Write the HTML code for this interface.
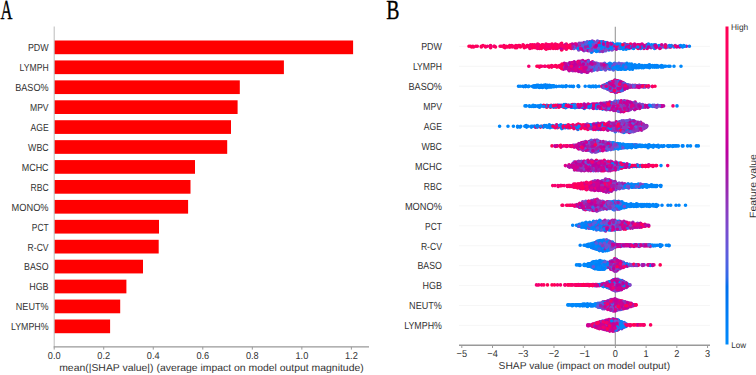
<!DOCTYPE html>
<html><head><meta charset="utf-8"><style>
html,body{margin:0;padding:0;background:#fff;width:756px;height:375px;overflow:hidden}
svg{display:block}
text{font-family:"Liberation Sans",sans-serif;text-rendering:geometricPrecision}
.serif{font-family:"Liberation Serif",serif;stroke:#000;stroke-width:0.35px}
</style></head><body>
<svg width="756" height="375" viewBox="0 0 756 375">
<defs><linearGradient id="cb" x1="0" y1="0" x2="0" y2="1"><stop offset="0.000" stop-color="#ff0051"/><stop offset="0.030" stop-color="#ff0058"/><stop offset="0.061" stop-color="#fd005f"/><stop offset="0.091" stop-color="#fa0065"/><stop offset="0.121" stop-color="#f6006c"/><stop offset="0.152" stop-color="#f10072"/><stop offset="0.182" stop-color="#ec0078"/><stop offset="0.212" stop-color="#e7007e"/><stop offset="0.242" stop-color="#e10084"/><stop offset="0.273" stop-color="#db008a"/><stop offset="0.303" stop-color="#d40090"/><stop offset="0.333" stop-color="#cd0095"/><stop offset="0.364" stop-color="#c5009a"/><stop offset="0.394" stop-color="#bc009f"/><stop offset="0.424" stop-color="#b30aa3"/><stop offset="0.455" stop-color="#aa17a7"/><stop offset="0.485" stop-color="#a01fab"/><stop offset="0.515" stop-color="#9829b1"/><stop offset="0.545" stop-color="#9233b9"/><stop offset="0.576" stop-color="#8a3cc0"/><stop offset="0.606" stop-color="#8244c7"/><stop offset="0.636" stop-color="#794cce"/><stop offset="0.667" stop-color="#6f52d4"/><stop offset="0.697" stop-color="#6459da"/><stop offset="0.727" stop-color="#575fdf"/><stop offset="0.758" stop-color="#4664e4"/><stop offset="0.788" stop-color="#306ae9"/><stop offset="0.818" stop-color="#006fed"/><stop offset="0.848" stop-color="#0074f0"/><stop offset="0.879" stop-color="#0079f3"/><stop offset="0.909" stop-color="#007ef6"/><stop offset="0.939" stop-color="#0082f8"/><stop offset="0.970" stop-color="#0086fa"/><stop offset="1.000" stop-color="#008bfb"/></linearGradient></defs>
<text x="0" y="19.3" class="serif" font-size="27.5" fill="#000" stroke="#000" stroke-width="0.4" transform="translate(0.4 0) scale(0.6 1)">A</text>
<rect x="54.2" y="40.50" width="298.90" height="13.7" fill="#ff0000"/>
<rect x="54.2" y="60.43" width="229.70" height="13.7" fill="#ff0000"/>
<rect x="54.2" y="80.36" width="185.60" height="13.7" fill="#ff0000"/>
<rect x="54.2" y="100.29" width="183.40" height="13.7" fill="#ff0000"/>
<rect x="54.2" y="120.22" width="176.80" height="13.7" fill="#ff0000"/>
<rect x="54.2" y="140.15" width="173.00" height="13.7" fill="#ff0000"/>
<rect x="54.2" y="160.08" width="140.80" height="13.7" fill="#ff0000"/>
<rect x="54.2" y="180.01" width="136.30" height="13.7" fill="#ff0000"/>
<rect x="54.2" y="199.94" width="133.90" height="13.7" fill="#ff0000"/>
<rect x="54.2" y="219.87" width="104.80" height="13.7" fill="#ff0000"/>
<rect x="54.2" y="239.80" width="104.50" height="13.7" fill="#ff0000"/>
<rect x="54.2" y="259.73" width="88.80" height="13.7" fill="#ff0000"/>
<rect x="54.2" y="279.66" width="72.20" height="13.7" fill="#ff0000"/>
<rect x="54.2" y="299.59" width="66.00" height="13.7" fill="#ff0000"/>
<rect x="54.2" y="319.52" width="55.90" height="13.7" fill="#ff0000"/>
<line x1="54.2" y1="26.5" x2="54.2" y2="347" stroke="#bbb" stroke-width="1"/>
<line x1="53.7" y1="346.9" x2="369" y2="346.9" stroke="#999" stroke-width="1.4"/>
<line x1="54.20" y1="346.9" x2="54.20" y2="349.6" stroke="#999" stroke-width="1"/>
<text x="0" y="0" font-size="10" text-anchor="middle" fill="#333" transform="translate(54.20 358.8) scale(0.92 1)">0.0</text>
<line x1="103.73" y1="346.9" x2="103.73" y2="349.6" stroke="#999" stroke-width="1"/>
<text x="0" y="0" font-size="10" text-anchor="middle" fill="#333" transform="translate(103.73 358.8) scale(0.92 1)">0.2</text>
<line x1="153.26" y1="346.9" x2="153.26" y2="349.6" stroke="#999" stroke-width="1"/>
<text x="0" y="0" font-size="10" text-anchor="middle" fill="#333" transform="translate(153.26 358.8) scale(0.92 1)">0.4</text>
<line x1="202.79" y1="346.9" x2="202.79" y2="349.6" stroke="#999" stroke-width="1"/>
<text x="0" y="0" font-size="10" text-anchor="middle" fill="#333" transform="translate(202.79 358.8) scale(0.92 1)">0.6</text>
<line x1="252.32" y1="346.9" x2="252.32" y2="349.6" stroke="#999" stroke-width="1"/>
<text x="0" y="0" font-size="10" text-anchor="middle" fill="#333" transform="translate(252.32 358.8) scale(0.92 1)">0.8</text>
<line x1="301.85" y1="346.9" x2="301.85" y2="349.6" stroke="#999" stroke-width="1"/>
<text x="0" y="0" font-size="10" text-anchor="middle" fill="#333" transform="translate(301.85 358.8) scale(0.92 1)">1.0</text>
<line x1="351.38" y1="346.9" x2="351.38" y2="349.6" stroke="#999" stroke-width="1"/>
<text x="0" y="0" font-size="10" text-anchor="middle" fill="#333" transform="translate(351.38 358.8) scale(0.92 1)">1.2</text>
<text x="48.6" y="51.20" font-size="10.3" text-anchor="end" fill="#333" textLength="20.7" lengthAdjust="spacingAndGlyphs">PDW</text>
<text x="48.6" y="71.13" font-size="10.3" text-anchor="end" fill="#333" textLength="29.0" lengthAdjust="spacingAndGlyphs">LYMPH</text>
<text x="48.6" y="91.06" font-size="10.3" text-anchor="end" fill="#333" textLength="33.4" lengthAdjust="spacingAndGlyphs">BASO%</text>
<text x="48.6" y="110.99" font-size="10.3" text-anchor="end" fill="#333" textLength="18.6" lengthAdjust="spacingAndGlyphs">MPV</text>
<text x="48.6" y="130.92" font-size="10.3" text-anchor="end" fill="#333" textLength="18.1" lengthAdjust="spacingAndGlyphs">AGE</text>
<text x="48.6" y="150.85" font-size="10.3" text-anchor="end" fill="#333" textLength="20.5" lengthAdjust="spacingAndGlyphs">WBC</text>
<text x="48.6" y="170.78" font-size="10.3" text-anchor="end" fill="#333" textLength="26.9" lengthAdjust="spacingAndGlyphs">MCHC</text>
<text x="48.6" y="190.71" font-size="10.3" text-anchor="end" fill="#333" textLength="18.1" lengthAdjust="spacingAndGlyphs">RBC</text>
<text x="48.6" y="210.64" font-size="10.3" text-anchor="end" fill="#333" textLength="37.0" lengthAdjust="spacingAndGlyphs">MONO%</text>
<text x="48.6" y="230.57" font-size="10.3" text-anchor="end" fill="#333" textLength="16.8" lengthAdjust="spacingAndGlyphs">PCT</text>
<text x="48.6" y="250.50" font-size="10.3" text-anchor="end" fill="#333" textLength="21.0" lengthAdjust="spacingAndGlyphs">R-CV</text>
<text x="48.6" y="270.43" font-size="10.3" text-anchor="end" fill="#333" textLength="24.5" lengthAdjust="spacingAndGlyphs">BASO</text>
<text x="48.6" y="290.36" font-size="10.3" text-anchor="end" fill="#333" textLength="19.4" lengthAdjust="spacingAndGlyphs">HGB</text>
<text x="48.6" y="310.29" font-size="10.3" text-anchor="end" fill="#333" textLength="32.8" lengthAdjust="spacingAndGlyphs">NEUT%</text>
<text x="48.6" y="330.22" font-size="10.3" text-anchor="end" fill="#333" textLength="37.7" lengthAdjust="spacingAndGlyphs">LYMPH%</text>
<text x="59.2" y="371.2" font-size="10" fill="#333" textLength="304.5" lengthAdjust="spacingAndGlyphs">mean(|SHAP value|) (average impact on model output magnitude)</text>
<text x="0" y="18.7" class="serif" font-size="27.5" fill="#000" stroke="#000" stroke-width="0.3" transform="translate(386.2 0) scale(0.72 1)">B</text>
<line x1="459" y1="46.40" x2="710" y2="46.40" stroke="#f0f0f0" stroke-width="0.6"/>
<text x="441.9" y="50.20" font-size="10.3" text-anchor="end" fill="#333" textLength="20.7" lengthAdjust="spacingAndGlyphs">PDW</text>
<line x1="459" y1="66.33" x2="710" y2="66.33" stroke="#f0f0f0" stroke-width="0.6"/>
<text x="441.9" y="70.13" font-size="10.3" text-anchor="end" fill="#333" textLength="29.0" lengthAdjust="spacingAndGlyphs">LYMPH</text>
<line x1="459" y1="86.26" x2="710" y2="86.26" stroke="#f0f0f0" stroke-width="0.6"/>
<text x="441.9" y="90.06" font-size="10.3" text-anchor="end" fill="#333" textLength="33.4" lengthAdjust="spacingAndGlyphs">BASO%</text>
<line x1="459" y1="106.19" x2="710" y2="106.19" stroke="#f0f0f0" stroke-width="0.6"/>
<text x="441.9" y="109.99" font-size="10.3" text-anchor="end" fill="#333" textLength="18.6" lengthAdjust="spacingAndGlyphs">MPV</text>
<line x1="459" y1="126.12" x2="710" y2="126.12" stroke="#f0f0f0" stroke-width="0.6"/>
<text x="441.9" y="129.92" font-size="10.3" text-anchor="end" fill="#333" textLength="18.1" lengthAdjust="spacingAndGlyphs">AGE</text>
<line x1="459" y1="146.05" x2="710" y2="146.05" stroke="#f0f0f0" stroke-width="0.6"/>
<text x="441.9" y="149.85" font-size="10.3" text-anchor="end" fill="#333" textLength="20.5" lengthAdjust="spacingAndGlyphs">WBC</text>
<line x1="459" y1="165.98" x2="710" y2="165.98" stroke="#f0f0f0" stroke-width="0.6"/>
<text x="441.9" y="169.78" font-size="10.3" text-anchor="end" fill="#333" textLength="26.9" lengthAdjust="spacingAndGlyphs">MCHC</text>
<line x1="459" y1="185.91" x2="710" y2="185.91" stroke="#f0f0f0" stroke-width="0.6"/>
<text x="441.9" y="189.71" font-size="10.3" text-anchor="end" fill="#333" textLength="18.1" lengthAdjust="spacingAndGlyphs">RBC</text>
<line x1="459" y1="205.84" x2="710" y2="205.84" stroke="#f0f0f0" stroke-width="0.6"/>
<text x="441.9" y="209.64" font-size="10.3" text-anchor="end" fill="#333" textLength="37.0" lengthAdjust="spacingAndGlyphs">MONO%</text>
<line x1="459" y1="225.77" x2="710" y2="225.77" stroke="#f0f0f0" stroke-width="0.6"/>
<text x="441.9" y="229.57" font-size="10.3" text-anchor="end" fill="#333" textLength="16.8" lengthAdjust="spacingAndGlyphs">PCT</text>
<line x1="459" y1="245.70" x2="710" y2="245.70" stroke="#f0f0f0" stroke-width="0.6"/>
<text x="441.9" y="249.50" font-size="10.3" text-anchor="end" fill="#333" textLength="21.0" lengthAdjust="spacingAndGlyphs">R-CV</text>
<line x1="459" y1="265.63" x2="710" y2="265.63" stroke="#f0f0f0" stroke-width="0.6"/>
<text x="441.9" y="269.43" font-size="10.3" text-anchor="end" fill="#333" textLength="24.5" lengthAdjust="spacingAndGlyphs">BASO</text>
<line x1="459" y1="285.56" x2="710" y2="285.56" stroke="#f0f0f0" stroke-width="0.6"/>
<text x="441.9" y="289.36" font-size="10.3" text-anchor="end" fill="#333" textLength="19.4" lengthAdjust="spacingAndGlyphs">HGB</text>
<line x1="459" y1="305.49" x2="710" y2="305.49" stroke="#f0f0f0" stroke-width="0.6"/>
<text x="441.9" y="309.29" font-size="10.3" text-anchor="end" fill="#333" textLength="32.8" lengthAdjust="spacingAndGlyphs">NEUT%</text>
<line x1="459" y1="325.42" x2="710" y2="325.42" stroke="#f0f0f0" stroke-width="0.6"/>
<text x="441.9" y="329.22" font-size="10.3" text-anchor="end" fill="#333" textLength="37.7" lengthAdjust="spacingAndGlyphs">LYMPH%</text>
<line x1="615.3" y1="26.8" x2="615.3" y2="345.2" stroke="#999" stroke-width="1.1"/>
<g fill="none" stroke-width="3.60" stroke-linecap="round"><path stroke="#0088fa" d="M632.1 45.6h0M599.2 267.4h0M682.3 145.9h0M572.8 304.9h0M600.5 247.9h0M625.1 121.7h0M533.8 105.9h0M603.3 246.9h0M608.0 284.9h0M579.7 49.2h0M624.6 285.3h0M610.7 283.2h0M638.4 205.9h0M634.0 184.8h0M601.4 262.4h0M622.0 144.7h0M628.4 145.3h0M595.8 265.5h0M586.2 228.1h0M588.5 264.9h0M652.5 65.6h0M592.4 266.8h0M593.5 221.3h0M608.8 221.3h0M584.0 245.3h0M597.3 147.1h0M588.1 225.2h0M604.3 268.0h0M603.8 266.1h0M604.2 263.0h0M602.4 265.5h0M646.5 205.9h0M598.5 268.6h0M605.3 127.8h0M601.3 247.9h0M629.0 66.3h0M629.7 45.6h0M626.1 49.2h0M612.5 203.9h0M622.9 146.5h0M598.2 269.2h0M611.9 264.9h0M585.1 105.9h0M591.6 227.1h0M598.5 129.4h0M592.5 227.1h0M631.6 64.9h0M602.6 268.6h0M652.6 245.3h0M581.3 227.1h0M620.8 289.2h0M653.6 145.3h0M644.2 66.3h0M623.2 147.7h0M626.3 64.9h0M562.9 86.6h0M591.4 244.2h0M624.3 284.5h0M595.6 225.2h0M520.0 127.1h0M609.7 287.0h0M632.5 120.9h0M613.5 321.8h0M608.3 246.4h0M605.2 262.4h0M621.1 186.4h0M612.5 143.5h0M583.1 304.9h0M611.2 283.2h0M619.9 322.6h0M623.1 144.1h0M622.6 67.1h0M612.5 269.2h0M558.2 105.3h0M600.7 145.9h0M656.6 186.4h0M605.3 229.1h0M599.2 284.5h0M582.6 46.3h0M588.3 245.8h0M598.5 227.1h0M599.7 246.4h0M579.6 105.9h0M629.9 204.5h0M594.5 264.3h0M528.4 86.2h0M635.6 204.5h0M600.7 264.9h0M587.0 265.5h0M605.0 243.2h0M623.3 49.2h0M616.4 287.5h0M590.6 245.3h0M648.7 66.3h0M623.7 64.9h0M626.5 206.5h0M611.2 262.4h0M628.1 285.3h0M610.7 207.2h0M576.4 46.3h0M587.7 266.1h0M599.6 44.8h0M604.4 307.2h0M597.7 223.3h0M679.9 46.3h0M605.3 263.7h0M547.8 85.8h0M593.3 246.9h0M649.5 67.8h0M610.6 246.9h0M619.3 321.8h0M649.5 205.2h0M585.1 265.5h0M642.1 145.3h0M630.3 66.3h0M605.6 85.4h0M659.1 66.3h0M596.3 265.5h0M603.5 241.6h0M607.8 48.5h0M599.5 244.8h0M603.7 240.0h0M598.7 47.8h0M576.1 304.9h0M589.6 264.3h0M595.1 266.1h0M596.4 266.1h0M633.1 127.8h0M538.3 126.3h0M626.9 266.1h0M655.3 186.4h0M623.7 145.9h0M656.3 206.5h0M638.8 67.8h0M675.4 145.9h0M619.9 144.1h0M616.7 186.4h0"/><path stroke="#0082f8" d="M605.0 250.6h0M601.5 307.2h0M590.4 227.1h0M537.7 85.8h0M628.3 65.6h0M553.0 127.1h0M594.4 263.0h0M601.9 245.8h0M555.4 105.9h0M591.3 224.2h0M648.3 146.5h0M604.6 44.8h0M627.2 285.3h0M580.4 305.7h0M672.7 145.9h0M611.6 287.9h0M618.8 101.4h0M584.3 264.3h0M588.6 127.8h0M601.3 126.3h0M577.7 47.0h0M610.4 281.9h0M536.8 85.4h0M632.5 86.6h0M622.8 66.3h0M619.4 144.7h0M682.6 47.0h0M661.3 145.9h0M658.1 145.3h0M636.3 165.6h0M583.0 304.1h0M585.5 304.9h0M647.8 205.2h0M613.2 109.1h0M587.1 264.9h0M613.8 148.9h0M640.5 145.3h0M625.7 264.9h0M604.4 247.9h0M580.2 245.3h0M609.5 243.7h0M611.2 287.0h0M626.3 68.6h0M602.4 248.5h0M594.2 265.5h0M620.1 225.2h0M598.9 226.2h0M605.0 247.9h0M626.3 47.8h0M595.9 244.8h0M605.8 285.3h0M616.3 203.2h0M591.8 304.9h0M625.3 145.3h0M656.7 205.9h0M596.4 246.4h0M599.7 267.4h0M635.2 147.1h0M597.8 245.3h0M670.0 66.3h0M590.1 304.9h0M595.0 243.7h0M659.4 146.5h0M539.3 85.8h0M538.3 85.4h0M609.7 247.9h0M599.3 266.1h0M597.0 223.3h0M637.8 204.5h0M602.6 226.2h0M534.8 86.2h0M605.9 267.4h0M623.9 68.6h0M607.8 266.8h0M587.3 304.1h0M591.5 52.2h0M642.1 204.5h0M599.7 220.4h0M637.7 145.9h0M609.2 245.8h0M600.6 249.5h0M611.9 125.5h0M610.8 127.1h0M586.8 42.6h0M546.5 87.0h0M607.8 222.3h0M604.1 246.4h0M660.0 244.8h0M587.7 244.8h0M578.3 264.9h0M584.2 223.3h0M617.0 67.8h0M620.3 325.7h0M647.2 65.6h0M589.5 245.8h0M535.5 105.9h0M595.2 47.8h0M658.7 145.9h0M543.1 126.3h0M624.4 324.9h0M605.6 264.3h0M613.0 107.8h0M582.6 126.3h0M543.2 105.9h0M598.3 248.5h0M593.6 268.0h0M616.1 66.3h0M647.8 186.4h0M538.3 86.2h0M635.8 187.2h0M654.7 186.4h0M646.8 205.9h0M622.3 185.6h0M638.4 146.5h0M594.6 226.2h0M617.5 90.8h0M586.4 304.9h0M582.2 107.2h0M548.4 85.8h0M612.0 90.8h0"/><path stroke="#3968e7" d="M610.3 145.3h0M623.6 85.0h0M586.8 209.1h0M617.8 102.0h0M612.2 261.2h0M621.0 148.3h0M612.2 308.7h0M630.6 127.1h0M615.1 80.0h0M594.1 226.2h0M581.6 107.2h0M592.6 42.6h0M626.8 224.2h0M626.4 245.8h0"/><path stroke="#575fdf" d="M620.9 145.9h0M597.6 264.9h0M623.7 281.5h0M607.6 248.5h0M581.5 67.8h0M610.4 203.2h0M600.4 43.4h0M590.2 224.2h0M618.3 107.8h0M617.1 329.5h0M617.1 228.1h0M591.7 141.0h0M646.9 47.8h0M618.5 329.5h0M601.1 50.7h0M599.0 226.2h0M625.2 128.6h0M610.4 325.7h0M613.4 264.3h0M593.0 247.9h0M604.7 285.8h0M607.1 104.6h0M607.5 227.1h0M607.1 325.7h0M616.9 64.1h0M587.6 223.3h0M596.4 67.8h0M613.6 209.1h0M617.2 245.8h0M621.4 108.5h0M612.1 248.5h0M577.0 47.8h0M615.4 80.8h0M627.0 147.7h0M610.8 263.7h0M614.9 260.6h0M612.4 147.1h0M623.2 324.1h0M630.1 120.9h0M616.1 68.6h0M615.1 320.3h0M615.3 167.3h0M615.4 287.0h0M599.5 306.4h0M637.8 86.2h0M621.5 64.9h0M615.4 87.4h0M598.2 64.1h0M597.4 168.2h0M657.7 105.3h0M616.1 283.2h0M589.3 223.3h0M614.0 66.3h0"/><path stroke="#6857d8" d="M610.0 288.3h0M617.0 244.8h0M618.6 89.7h0M606.5 207.2h0M608.7 301.9h0M614.8 227.1h0M603.2 209.1h0M586.5 44.1h0M607.9 221.3h0M622.3 266.1h0M626.1 284.9h0M613.8 227.1h0M619.8 324.9h0M596.9 63.4h0M654.4 105.3h0M594.0 43.4h0M617.0 205.2h0M608.7 65.6h0M604.0 142.9h0M629.0 144.7h0M619.5 105.3h0M622.3 267.4h0M614.0 104.6h0M611.3 180.7h0M587.2 226.2h0M614.1 322.6h0M625.4 284.5h0M580.6 145.9h0M608.8 301.1h0M618.2 283.2h0M638.7 126.3h0M602.6 203.2h0M626.0 326.4h0M605.1 222.3h0M620.5 123.2h0M618.2 263.0h0M604.6 63.4h0M610.9 86.6h0M600.6 266.1h0M607.2 87.7h0M610.2 46.3h0M611.3 226.2h0M595.8 263.7h0M626.3 324.1h0M609.8 225.2h0M596.9 225.2h0M574.2 162.1h0M627.0 47.8h0M621.3 284.5h0M584.1 42.6h0M611.8 244.2h0M621.5 227.1h0M594.2 204.5h0M618.6 201.3h0M625.0 282.8h0"/><path stroke="#764ed0" d="M619.5 321.8h0M619.4 146.5h0M600.4 303.4h0M605.5 247.9h0M597.7 64.1h0M616.7 287.0h0M606.8 209.1h0M604.8 249.0h0M608.2 68.6h0M594.8 67.8h0M616.3 259.9h0M626.7 263.7h0M619.9 309.5h0M613.0 267.4h0M594.3 46.3h0M629.0 85.8h0M615.8 189.7h0M592.9 151.4h0M607.6 88.9h0M616.0 299.6h0M640.0 86.6h0M598.7 304.9h0M598.3 224.2h0M622.3 187.2h0M578.5 225.2h0M621.2 147.1h0M615.7 226.2h0M589.5 227.1h0M606.8 66.3h0M620.8 206.5h0M611.2 283.6h0M622.2 203.9h0M599.0 307.2h0M592.3 141.6h0"/><path stroke="#8244c7" d="M581.1 43.4h0M627.4 120.9h0M599.2 244.8h0M615.8 266.1h0M599.8 104.6h0M615.7 284.9h0M623.2 124.0h0M606.2 105.9h0M622.9 64.1h0M622.1 302.6h0M590.3 149.6h0M607.2 147.1h0M598.5 183.2h0M623.7 284.9h0M620.7 283.2h0M628.0 105.3h0M586.6 67.1h0M615.2 283.6h0M597.2 104.6h0M583.5 225.2h0M599.0 165.6h0M616.0 288.8h0M614.7 307.9h0M586.4 203.2h0M616.2 287.9h0M601.8 207.8h0M619.6 280.6h0M618.9 304.1h0M610.2 328.8h0M595.4 228.1h0M619.3 165.6h0M607.4 301.9h0M610.0 144.1h0M588.7 169.9h0M631.8 44.8h0M630.1 85.4h0M614.3 187.2h0M614.4 82.3h0M614.8 207.8h0M587.0 147.7h0M636.0 127.8h0M616.0 320.3h0M578.0 48.5h0M613.0 181.5h0M591.3 46.3h0M613.3 143.5h0M613.4 182.4h0M589.1 163.0h0M600.9 207.8h0M617.0 305.7h0M600.0 249.0h0M585.8 204.5h0"/><path stroke="#8d39be" d="M595.2 106.5h0M624.2 126.3h0M627.4 107.2h0M620.5 168.2h0M617.5 187.2h0M615.1 106.5h0M618.1 304.9h0M624.8 122.4h0M603.4 228.1h0M608.4 282.3h0M622.9 302.6h0M584.7 70.0h0M605.5 325.7h0M615.8 86.2h0M629.6 225.2h0M598.6 107.2h0M601.6 150.2h0M613.3 328.8h0M633.1 104.6h0M612.8 107.2h0M614.3 262.4h0M590.8 147.7h0M606.7 187.2h0M627.1 127.8h0M614.2 320.3h0M602.4 228.1h0M589.9 142.2h0M606.5 109.8h0M605.1 285.3h0M591.0 209.1h0M586.5 62.7h0M621.1 263.7h0M618.7 306.4h0M634.0 122.4h0M636.6 227.1h0M605.8 104.6h0M597.4 49.2h0M610.7 321.8h0M636.7 107.8h0M614.7 304.9h0M599.9 142.9h0M616.8 184.0h0M583.8 203.9h0M611.0 329.5h0M592.4 148.9h0M615.6 283.6h0M615.7 185.6h0M613.4 82.7h0M602.4 243.2h0M621.1 301.1h0"/><path stroke="#962db3" d="M609.0 106.5h0M576.8 68.6h0M638.7 127.8h0M588.7 65.6h0M643.1 127.8h0M640.9 126.3h0M638.2 122.4h0M617.0 309.5h0M612.9 188.0h0M598.4 67.1h0M590.9 150.2h0M617.1 265.5h0M612.5 86.6h0M625.7 284.9h0M592.4 144.1h0M605.6 228.1h0M620.0 286.6h0M625.1 304.1h0M629.2 122.4h0M610.2 163.9h0M614.2 305.7h0M594.3 165.6h0M621.2 307.2h0M613.4 309.5h0M595.2 326.4h0M615.2 306.4h0M600.6 69.3h0M628.7 226.2h0M600.8 161.3h0M615.0 144.7h0M593.8 325.7h0M625.8 284.0h0M607.6 85.8h0M594.1 186.4h0M601.5 246.9h0M614.8 183.2h0M590.9 63.4h0M615.9 289.6h0M607.6 162.1h0M614.0 304.9h0M606.1 241.1h0M622.0 281.9h0M620.7 124.0h0M639.5 127.1h0M585.6 169.9h0"/><path stroke="#a31daa" d="M618.5 130.2h0M610.6 324.9h0M616.5 261.8h0M616.1 103.3h0M601.1 142.9h0M603.1 186.4h0M577.1 204.5h0M618.3 301.9h0M632.5 124.8h0M617.4 307.9h0M595.8 324.9h0M616.5 268.0h0M620.5 282.3h0M588.2 105.9h0M623.8 108.5h0M613.6 329.5h0M603.2 141.6h0M572.7 45.6h0M602.7 302.6h0M621.8 307.9h0M604.0 324.1h0M610.5 106.5h0M592.2 183.2h0M589.6 145.3h0M599.6 68.6h0M605.5 224.2h0M622.3 301.9h0M593.4 206.5h0M599.8 144.1h0M589.7 41.9h0M608.9 228.1h0M604.0 188.8h0M606.4 283.6h0M609.7 282.3h0M616.6 302.6h0M596.9 205.2h0M618.1 281.9h0M627.4 245.3h0M592.6 169.1h0M610.6 187.2h0M588.6 148.3h0M600.4 188.8h0M592.0 209.1h0M586.7 143.5h0M613.6 207.2h0M585.1 70.8h0M591.9 150.8h0M601.3 248.5h0M614.8 84.3h0M622.1 286.6h0M626.1 184.8h0M621.6 287.0h0M594.4 208.5h0M579.5 144.7h0M619.6 187.2h0"/><path stroke="#b00fa5" d="M617.5 81.2h0M623.4 85.8h0M620.6 127.8h0M686.4 46.3h0M595.0 185.6h0M608.8 284.0h0M604.0 206.5h0M568.3 69.3h0M581.9 65.6h0M609.4 188.8h0M614.6 329.5h0M617.3 81.2h0M626.8 305.7h0M576.9 107.2h0M608.3 326.4h0M614.3 264.3h0M606.3 327.2h0M595.6 187.2h0M597.9 182.4h0M614.8 105.3h0M583.1 64.9h0M607.7 321.8h0M633.4 305.7h0M606.4 224.2h0M604.6 86.2h0M624.2 89.3h0M604.5 321.8h0M620.3 266.1h0M593.4 324.9h0M604.3 321.8h0M619.2 301.1h0M600.4 169.1h0M590.2 169.9h0M605.2 328.0h0M588.7 162.1h0M592.7 209.8h0M614.9 83.9h0M610.3 109.1h0M609.6 163.0h0M635.6 86.2h0M622.2 266.8h0M621.3 265.5h0M614.7 321.0h0M584.1 164.7h0M630.4 165.6h0M629.3 167.3h0"/><path stroke="#bc009f" d="M596.6 104.6h0M593.9 66.3h0M648.9 45.6h0M623.2 104.0h0M608.5 320.3h0M617.6 282.8h0M599.4 124.8h0M606.3 325.7h0M576.9 165.6h0M609.3 181.5h0M594.7 165.6h0M567.9 66.3h0M609.2 282.8h0M625.3 305.7h0M613.7 301.1h0M611.7 188.8h0M589.5 142.9h0M626.4 264.9h0M599.4 148.3h0M613.6 164.7h0M616.8 245.8h0M594.9 49.2h0M596.0 189.7h0M575.2 70.8h0M637.1 105.9h0M592.1 169.9h0M602.1 186.4h0M595.6 324.9h0M627.5 227.1h0M609.5 319.5h0M585.0 125.5h0M594.8 146.5h0M606.6 164.7h0M608.2 286.2h0M606.7 49.2h0M601.6 149.6h0M615.6 105.3h0M619.0 285.3h0M587.6 71.5h0M588.1 128.6h0M654.9 106.5h0M585.6 164.7h0M600.1 141.6h0M601.0 168.2h0M637.5 225.2h0M611.0 167.3h0M625.0 226.2h0M612.3 103.3h0M620.5 267.4h0M582.3 70.0h0M605.7 166.5h0M584.9 46.3h0M608.2 323.4h0M603.6 328.8h0M601.5 186.4h0M647.6 245.8h0M610.8 225.2h0M581.9 163.0h0M629.5 224.2h0M589.9 126.3h0M592.9 324.1h0M593.1 184.8h0M597.1 127.1h0M613.8 289.2h0M655.2 47.8h0M585.5 183.2h0M610.2 165.6h0M619.4 229.1h0M602.9 204.5h0M611.8 304.1h0M601.6 124.8h0M581.6 205.2h0M589.3 163.9h0M606.3 127.8h0M590.3 141.6h0M623.3 88.5h0M600.7 186.4h0M630.6 224.2h0M567.3 68.6h0M625.3 287.0h0M627.5 266.1h0M573.0 44.8h0M591.6 325.7h0M619.5 107.2h0"/><path stroke="#c70098" d="M610.7 103.3h0M630.2 108.5h0M612.6 169.9h0M621.0 264.9h0M615.5 263.0h0M594.8 144.1h0M609.7 264.3h0M613.9 281.0h0M621.0 165.6h0M628.5 304.9h0M617.7 82.3h0M618.7 226.2h0M669.8 47.0h0M638.7 107.2h0M606.9 204.5h0M613.5 282.3h0M614.1 169.1h0M612.5 266.1h0M595.6 284.5h0M575.2 166.5h0M600.9 107.2h0M615.7 166.5h0M613.7 88.5h0M679.6 47.0h0M602.0 327.2h0M625.8 84.7h0M622.4 106.5h0M606.2 328.8h0M610.2 189.7h0M632.6 224.2h0M602.7 165.6h0M636.3 106.5h0M563.8 127.1h0M614.2 288.8h0M618.3 326.4h0M620.4 265.5h0M572.8 68.6h0M619.8 88.1h0M611.8 308.7h0M596.1 162.1h0M615.0 167.3h0M635.1 102.0h0M621.6 289.6h0M610.1 187.2h0M611.4 123.2h0M630.1 129.4h0M600.2 209.8h0M576.5 167.3h0M592.0 68.6h0M633.6 47.0h0M608.8 263.0h0M611.2 282.3h0M602.3 322.6h0M579.1 47.8h0M589.4 107.2h0M609.0 147.7h0M595.0 104.6h0M652.4 265.5h0M628.1 227.1h0M642.7 264.9h0M647.9 45.6h0M582.8 60.5h0M628.8 166.5h0M591.3 43.4h0M630.5 226.2h0M596.3 181.5h0M625.8 224.2h0"/><path stroke="#d10091" d="M665.4 44.8h0M603.0 126.3h0M611.9 301.1h0M598.4 186.4h0M583.6 69.3h0M611.0 328.0h0M616.8 263.0h0M605.8 283.6h0M578.0 145.3h0M590.8 188.0h0M604.4 188.0h0M573.7 64.1h0M579.5 207.2h0M616.1 166.5h0M606.3 87.4h0M595.5 201.3h0M632.4 126.3h0M621.8 322.6h0M605.6 106.5h0M577.6 168.2h0M597.4 142.2h0M608.3 169.9h0M598.7 50.7h0M588.1 161.3h0M632.1 166.5h0M564.0 66.3h0M622.4 283.2h0M614.7 282.3h0M621.0 228.1h0M612.0 320.3h0M628.4 107.8h0M603.0 103.3h0M621.3 225.2h0M612.5 87.7h0M601.3 226.2h0M623.0 263.0h0M609.7 320.3h0M587.1 148.9h0M588.8 184.0h0M630.1 244.8h0M597.2 187.2h0M617.9 80.8h0M582.2 165.6h0M611.7 184.0h0M607.3 179.9h0M612.8 280.6h0M632.7 304.9h0M620.4 246.4h0M613.5 261.2h0M583.5 163.9h0M600.0 201.9h0M598.5 205.2h0M598.3 324.9h0M617.1 266.1h0M607.3 163.9h0M592.5 61.9h0M607.8 328.8h0M612.6 164.7h0M628.0 86.2h0M616.1 110.4h0M626.2 44.8h0M609.2 321.0h0M615.7 303.4h0M644.3 245.8h0M639.2 227.1h0M611.3 322.6h0M634.1 225.2h0M611.2 84.7h0M611.3 330.3h0M617.0 125.5h0M595.4 141.6h0M585.8 163.9h0M597.7 104.0h0M582.0 45.6h0M606.2 187.2h0M629.4 132.5h0M609.9 87.4h0"/><path stroke="#db008a" d="M585.1 168.2h0M598.7 324.1h0M625.8 304.9h0M631.5 305.7h0M620.6 107.2h0M624.4 227.1h0M602.9 169.1h0M606.3 188.8h0M570.9 65.6h0M625.2 245.8h0M616.2 261.8h0M598.7 163.9h0M616.8 328.0h0M615.9 83.5h0M608.6 129.4h0M612.0 329.5h0M592.4 184.0h0M613.8 90.8h0M587.6 184.8h0M601.5 184.0h0M617.7 127.1h0M617.8 86.2h0M609.2 326.4h0M585.2 167.3h0M627.4 224.2h0M609.8 104.0h0M620.6 301.9h0M605.2 179.9h0M592.4 166.5h0M609.9 327.2h0M596.0 125.5h0M627.7 44.8h0M631.6 107.2h0"/><path stroke="#f30070" d="M609.4 85.4h0M550.2 48.5h0M629.7 324.9h0M557.3 48.5h0M553.7 46.3h0M563.7 68.6h0M645.4 226.2h0M606.4 324.1h0M563.1 46.3h0M602.9 183.2h0M529.3 46.3h0M569.3 186.4h0M545.8 45.6h0M641.0 324.9h0M600.5 322.6h0M570.9 186.4h0M594.4 284.9h0M643.1 107.2h0M530.8 46.3h0M553.9 47.0h0M574.3 47.8h0M612.3 105.9h0M533.8 46.3h0M539.4 48.5h0M618.3 281.5h0M652.5 86.6h0M602.7 326.4h0M564.1 185.6h0M604.8 44.1h0M563.9 125.5h0M593.2 104.6h0M544.4 47.8h0M562.5 66.3h0"/><path stroke="#f80067" d="M559.3 66.3h0M590.2 285.3h0M516.8 47.0h0M585.9 284.9h0M626.6 265.5h0M622.7 264.9h0M667.7 165.6h0M594.3 67.1h0M583.8 187.2h0M537.3 45.6h0M560.5 45.6h0M526.2 47.0h0M541.6 284.9h0M481.3 47.0h0M556.9 46.3h0M552.2 44.8h0M619.0 266.1h0M613.1 303.4h0M586.0 188.8h0M583.5 284.5h0M641.6 227.1h0M619.6 304.1h0M584.9 186.4h0"/><path stroke="#fd005f" d="M650.6 324.9h0M586.6 188.0h0M645.7 166.5h0M570.9 64.9h0M571.8 284.9h0M585.2 185.6h0M657.1 106.5h0M587.4 284.9h0M529.9 47.0h0M626.7 228.1h0M635.1 85.4h0M585.0 188.8h0M550.3 47.0h0M599.4 328.8h0M623.6 166.5h0M578.6 284.9h0M580.6 284.9h0M551.7 65.6h0M494.6 46.3h0M561.9 185.6h0M565.1 105.9h0"/><path stroke="#ff0056" d="M623.7 167.3h0M534.2 45.6h0M633.3 224.2h0M585.9 150.2h0M543.7 105.3h0M570.9 185.6h0M631.2 165.6h0M588.3 43.4h0M629.0 131.7h0M531.7 47.8h0M604.6 307.9h0M647.9 165.6h0M612.0 88.1h0M566.0 47.8h0M562.6 106.5h0M630.8 324.9h0M577.8 187.2h0M608.4 324.9h0M630.3 223.3h0M581.8 46.3h0M555.5 46.3h0M544.2 45.6h0M640.5 244.8h0M606.2 207.8h0M644.8 224.2h0M582.5 207.2h0M645.6 166.5h0M557.1 145.9h0M569.2 67.1h0M612.2 83.1h0M639.6 224.2h0M570.3 44.8h0"/><path stroke="#0088fa" d="M610.4 65.6h0M636.6 45.6h0M585.5 223.3h0M597.2 268.6h0M606.8 87.4h0M599.5 250.6h0M595.6 268.0h0M597.6 263.7h0M604.3 50.7h0M603.9 303.4h0M618.5 203.9h0M639.3 104.6h0M601.8 242.7h0M537.5 86.6h0M591.8 266.8h0M610.0 249.0h0M605.1 245.8h0M632.6 65.6h0M603.7 263.7h0M576.9 304.9h0M598.5 264.9h0M631.9 47.8h0M636.0 67.1h0M641.8 46.3h0M601.7 243.7h0M590.6 228.1h0M616.3 147.7h0M578.1 105.9h0M624.7 205.2h0M622.5 124.0h0M525.5 86.6h0M535.4 127.1h0M632.1 68.6h0M602.8 43.4h0M621.7 87.4h0M552.8 86.2h0M602.0 266.8h0M609.8 249.5h0M594.5 228.1h0M617.6 90.5h0M592.3 226.2h0M582.8 226.2h0M603.2 249.0h0M589.8 225.2h0M597.3 242.1h0M581.8 106.5h0M620.4 47.8h0M573.9 104.6h0M652.5 205.2h0M663.2 47.0h0M636.0 47.0h0M621.0 65.6h0M612.8 47.8h0M586.7 304.9h0M654.3 185.6h0M597.3 248.5h0M582.5 305.7h0M614.6 203.9h0M615.3 131.7h0M612.4 242.1h0M600.6 263.0h0M597.4 266.8h0M604.2 242.1h0M591.7 264.9h0M619.5 122.4h0M561.8 128.6h0M625.4 264.3h0M611.1 202.6h0M618.2 84.7h0M609.9 125.5h0M587.8 264.3h0M571.1 105.9h0M671.4 45.6h0M594.1 126.3h0M604.3 246.9h0M610.4 243.7h0M611.4 247.4h0M612.2 204.5h0M616.4 64.9h0M545.4 85.0h0M618.2 325.7h0M567.8 106.5h0M625.7 326.4h0M615.5 67.8h0M649.5 47.0h0M613.4 207.8h0M546.9 86.2h0M602.7 109.1h0M600.0 264.3h0M618.4 86.6h0M652.8 105.3h0M651.7 186.4h0M621.1 83.9h0M617.2 47.8h0M616.7 163.9h0M604.6 244.2h0M577.9 129.4h0M661.7 46.3h0M575.8 107.2h0M556.9 106.5h0M653.6 245.8h0M625.5 69.3h0M587.3 225.2h0M620.6 48.5h0M610.4 228.1h0M592.2 228.1h0M603.9 266.8h0M611.4 148.3h0M634.7 45.6h0M578.4 304.9h0M595.2 247.9h0M570.0 304.9h0M614.1 144.7h0M654.7 67.1h0M641.6 146.5h0M603.5 230.0h0M617.8 82.7h0M627.9 64.9h0M631.5 186.4h0M606.3 240.6h0M631.6 64.1h0M539.5 87.0h0M599.0 263.0h0M593.1 264.3h0M612.3 285.8h0M594.8 261.8h0M597.3 46.3h0M649.7 46.3h0M596.1 228.1h0M615.6 129.4h0M594.5 243.7h0M628.1 147.1h0M558.6 127.1h0M658.1 67.1h0M605.1 264.9h0M634.7 66.3h0M656.0 245.3h0M534.1 126.3h0M605.5 250.6h0M614.6 64.9h0M608.8 144.7h0M612.7 309.5h0M631.7 67.8h0M635.7 67.8h0M625.5 286.2h0M549.4 85.8h0M607.1 88.5h0M597.8 227.1h0M641.8 107.2h0M620.8 321.8h0M599.3 261.8h0M554.2 86.6h0M599.2 264.3h0M611.6 326.4h0M601.3 263.0h0M546.5 87.7h0M546.1 106.5h0"/><path stroke="#0082f8" d="M593.5 305.7h0M593.5 244.2h0M603.3 285.3h0M600.7 285.3h0M617.8 65.6h0M621.2 322.6h0M603.4 267.4h0M617.5 145.9h0M534.7 126.3h0M553.2 85.8h0M620.8 69.3h0M567.7 127.8h0M616.6 165.6h0M611.1 102.7h0M648.7 205.9h0M627.9 109.8h0M615.2 269.2h0M591.8 105.9h0M584.3 226.2h0M615.1 147.7h0M606.6 266.8h0M654.2 245.3h0M614.9 124.0h0M640.3 146.5h0M585.2 86.2h0M588.6 226.2h0M545.7 126.3h0M613.7 225.2h0M590.5 223.3h0M639.0 244.8h0M594.1 266.8h0M619.4 204.5h0M603.6 49.2h0M617.9 104.6h0M565.6 107.8h0M604.2 269.2h0M616.5 83.1h0M601.2 222.3h0M617.9 147.7h0M619.8 207.8h0M597.7 249.5h0M651.2 146.5h0M631.3 204.5h0M613.7 322.6h0M612.2 142.9h0M593.3 304.9h0M623.9 327.2h0M609.2 248.5h0M539.3 87.4h0M598.8 246.4h0M592.9 226.2h0M603.0 247.9h0M565.6 106.5h0M603.2 242.1h0M599.6 104.0h0M609.7 86.2h0M595.6 227.1h0M605.8 84.7h0M598.9 268.0h0M518.5 86.2h0M623.4 203.9h0M602.4 246.9h0M603.3 86.2h0M615.8 206.5h0M601.9 264.3h0M607.8 88.1h0M602.9 247.4h0M632.8 205.2h0M598.8 264.9h0M622.5 323.4h0M609.4 287.5h0M643.3 205.9h0M631.0 130.2h0M600.3 42.6h0M525.9 86.2h0M626.4 204.5h0M622.4 87.7h0M593.4 48.5h0M623.7 126.3h0M559.7 105.3h0M622.2 188.0h0M614.3 83.1h0M616.0 165.6h0M592.2 304.9h0M532.9 86.6h0M547.4 86.6h0M599.6 263.0h0M611.6 66.3h0M608.9 50.0h0M612.2 328.8h0M650.5 145.9h0M635.3 205.2h0M591.4 305.7h0M627.0 146.5h0M529.8 106.5h0M624.8 109.1h0M669.0 245.3h0M588.0 244.8h0M618.5 207.8h0M592.6 106.5h0M624.7 166.5h0M627.7 165.6h0M620.9 87.0h0M626.2 205.9h0M599.1 263.7h0M601.9 47.0h0M642.1 166.5h0"/><path stroke="#3968e7" d="M631.5 86.2h0M588.0 44.1h0M606.6 249.0h0M600.4 224.2h0M618.1 303.4h0M617.9 261.8h0M623.3 227.1h0M636.2 85.8h0M622.4 107.8h0M616.5 104.0h0M617.0 203.2h0M604.8 182.4h0M615.3 301.1h0M614.9 328.8h0M623.5 288.3h0M607.0 226.2h0"/><path stroke="#575fdf" d="M625.2 88.5h0M618.6 105.9h0M623.9 87.7h0M604.7 266.8h0M604.1 87.4h0M611.4 85.4h0M597.3 246.4h0M618.2 206.5h0M617.3 323.4h0M616.0 267.4h0M612.9 266.8h0M609.3 229.1h0M611.9 84.3h0M615.9 187.2h0M637.5 265.5h0M591.8 144.7h0M585.6 148.9h0M610.0 285.3h0M612.1 186.4h0M611.5 90.5h0M613.5 244.8h0M596.5 230.0h0M630.5 305.7h0M637.5 129.4h0M598.1 47.0h0M604.4 324.9h0M610.0 304.9h0M618.2 88.1h0M620.8 185.6h0M613.5 285.3h0M612.6 330.3h0M601.8 202.6h0M622.5 283.6h0M616.4 259.3h0M608.3 243.7h0M601.0 187.2h0M596.4 243.7h0M609.8 286.6h0M622.3 88.1h0M629.6 185.6h0M587.2 41.9h0M599.9 51.5h0M601.1 247.4h0M617.0 326.4h0M616.7 319.5h0M600.4 209.1h0M611.4 261.2h0M606.0 225.2h0M595.4 168.2h0M605.7 303.4h0M607.1 224.2h0M602.0 86.6h0M616.6 145.3h0M607.0 190.5h0"/><path stroke="#6857d8" d="M580.5 167.3h0M594.5 184.8h0M619.3 225.2h0M620.3 205.9h0M610.7 282.8h0M606.6 307.2h0M598.0 210.4h0M608.1 243.2h0M611.1 67.1h0M622.0 124.8h0M593.4 65.6h0M589.1 145.9h0M610.4 142.9h0M574.9 104.6h0M617.8 279.8h0M604.2 285.3h0M593.5 208.5h0M617.4 68.6h0M588.2 150.2h0M601.7 201.9h0M594.1 144.7h0M576.1 168.2h0M607.2 266.1h0M617.0 290.0h0M593.9 227.1h0M634.5 122.4h0M616.7 309.5h0M624.1 284.0h0M630.6 107.2h0M601.1 67.1h0M622.9 104.0h0M620.0 188.0h0M584.0 50.7h0M608.5 180.7h0M641.1 105.3h0M599.5 303.4h0M623.4 222.3h0M627.8 124.0h0M605.3 204.5h0M614.2 243.7h0M606.8 240.0h0"/><path stroke="#764ed0" d="M628.2 127.1h0M610.3 64.9h0M617.6 280.2h0M609.9 301.9h0M618.6 267.4h0M621.0 266.1h0M602.6 240.6h0M601.6 142.2h0M624.7 305.7h0M599.9 202.6h0M627.9 184.0h0M616.4 286.6h0M628.6 188.0h0M620.9 207.2h0M613.2 286.2h0M612.5 261.8h0M589.1 49.2h0M610.9 248.5h0M609.5 226.2h0M601.1 303.4h0M600.8 225.2h0M597.4 151.4h0M608.1 225.2h0M621.2 128.6h0M618.4 289.6h0M613.8 303.4h0M590.6 146.5h0M606.8 206.5h0M613.5 320.3h0M620.5 225.2h0M610.2 242.1h0M596.1 245.3h0M591.3 145.9h0M606.7 303.4h0M589.1 208.5h0M606.6 191.3h0M600.9 246.9h0M578.5 105.3h0M585.4 202.6h0M602.6 208.5h0M597.3 245.8h0M588.6 42.6h0"/><path stroke="#8244c7" d="M630.4 246.4h0M587.3 201.9h0M597.2 204.5h0M577.6 163.0h0M620.1 104.0h0M609.9 205.9h0M627.9 124.8h0M609.4 328.0h0M594.3 64.9h0M627.9 187.2h0M589.2 48.5h0M583.9 47.0h0M608.3 203.2h0M601.1 184.8h0M623.7 83.1h0M627.5 226.2h0M613.6 223.3h0M614.6 166.5h0M592.6 205.2h0M625.3 102.7h0M606.9 205.9h0M612.2 124.8h0M614.9 201.9h0M601.8 189.7h0M618.5 168.2h0M580.6 68.6h0M597.6 165.6h0M581.4 161.3h0M620.9 229.1h0M612.6 286.6h0M616.2 301.9h0M608.1 83.9h0M566.6 67.1h0M615.1 322.6h0M597.6 201.9h0M607.6 225.2h0M605.5 67.8h0M612.5 65.6h0M622.4 308.7h0M598.1 170.8h0M626.0 131.7h0M623.9 124.8h0M599.3 147.1h0M579.8 162.1h0M612.9 225.2h0M617.4 91.6h0M626.2 104.6h0M612.6 184.8h0M615.9 324.1h0M619.7 264.9h0M581.6 168.2h0M572.1 67.1h0M614.3 222.3h0M602.1 227.1h0M592.5 69.3h0M622.1 225.2h0M602.4 207.8h0"/><path stroke="#8d39be" d="M590.7 64.9h0M577.2 64.1h0M603.0 328.0h0M618.4 127.1h0M592.9 145.3h0M620.9 281.5h0M636.5 225.2h0M588.5 149.6h0M593.9 202.6h0M601.4 163.9h0M607.5 109.1h0M595.6 150.2h0M618.4 302.6h0M616.7 326.4h0M601.2 324.1h0M606.7 284.5h0M594.2 41.9h0M579.5 62.7h0M598.6 144.7h0M579.3 165.6h0M612.7 83.9h0M589.2 68.6h0M609.6 321.0h0M591.4 206.5h0M619.0 264.9h0M611.5 163.0h0M619.4 302.6h0M643.1 127.1h0M621.6 131.7h0M618.7 283.2h0M598.4 105.9h0M607.8 64.9h0M613.2 284.5h0M590.7 201.3h0M615.6 266.8h0M604.8 246.9h0M606.9 182.4h0M583.5 66.3h0M624.6 303.4h0M641.9 126.3h0M595.5 202.6h0"/><path stroke="#962db3" d="M623.1 282.3h0M589.9 167.3h0M616.7 203.9h0M589.4 148.3h0M608.5 223.3h0M611.6 309.5h0M615.5 284.5h0M597.0 224.2h0M594.9 207.2h0M605.8 321.0h0M597.7 146.5h0M610.3 224.2h0M614.7 185.6h0M612.3 206.5h0M590.7 207.2h0M609.6 224.2h0M614.9 283.2h0M591.4 208.5h0M614.6 282.8h0M613.6 105.3h0M586.5 71.5h0M606.3 87.0h0M611.8 249.0h0M606.5 168.2h0M629.1 104.6h0M622.0 125.5h0M590.3 150.8h0M601.4 65.6h0M609.7 307.2h0M606.3 145.9h0M641.6 130.2h0M607.2 66.3h0M587.6 70.0h0M614.2 201.9h0M595.4 50.0h0M610.4 188.0h0M621.3 88.9h0M603.8 326.4h0M622.7 125.5h0M599.8 143.5h0M588.7 202.6h0M589.2 203.2h0"/><path stroke="#a31daa" d="M640.9 124.0h0M598.3 204.5h0M594.9 44.1h0M629.1 224.2h0M625.8 85.4h0M574.5 69.3h0M586.4 150.2h0M602.0 148.9h0M606.0 302.6h0M617.2 184.0h0M612.8 226.2h0M593.2 245.8h0M597.9 145.9h0M608.1 188.8h0M587.9 163.0h0M595.5 105.9h0M626.5 223.3h0M621.8 186.4h0M632.2 127.1h0M608.4 224.2h0M637.1 245.8h0M621.8 285.3h0M616.1 280.6h0M604.5 308.7h0M606.2 189.7h0M580.7 205.9h0M620.2 81.6h0M585.9 146.5h0M609.9 305.7h0M612.5 165.6h0M640.8 127.1h0M613.4 307.2h0M623.3 128.6h0M621.5 304.9h0M629.6 223.3h0M614.5 325.7h0M574.2 166.5h0M616.3 263.7h0M622.0 280.6h0M645.3 127.8h0M615.8 281.5h0M617.5 286.6h0M609.3 49.2h0M613.7 325.7h0M602.1 46.3h0M577.1 162.1h0M626.3 106.5h0M610.5 203.9h0M636.5 105.3h0M613.1 324.9h0M611.4 191.3h0M611.2 261.8h0M608.1 326.4h0M593.5 143.5h0M589.3 168.2h0M610.7 223.3h0M611.1 299.6h0M594.2 143.5h0M583.0 150.2h0M608.9 284.9h0M617.8 209.1h0M595.7 203.9h0"/><path stroke="#b00fa5" d="M597.8 124.8h0M621.8 281.5h0M628.1 304.9h0M605.6 304.1h0M610.9 323.4h0M609.7 185.6h0M616.7 106.5h0M601.7 104.0h0M615.7 289.2h0M617.9 286.2h0M605.2 190.5h0M622.8 265.5h0M598.6 126.3h0M605.8 321.8h0M613.2 325.7h0M637.3 124.8h0M584.7 147.1h0M625.3 130.9h0M630.1 306.4h0M582.7 187.2h0M591.2 205.2h0M632.3 224.2h0M587.3 169.9h0M612.9 287.5h0M605.3 142.2h0M641.1 86.6h0M621.9 222.3h0M617.3 290.5h0M622.0 108.5h0M599.1 324.9h0M598.5 150.2h0M586.9 161.3h0M567.7 65.6h0M595.9 161.3h0M610.4 304.1h0M632.4 226.2h0M636.2 245.3h0M616.6 245.3h0M569.7 62.7h0M611.1 45.6h0M613.0 307.9h0M625.8 226.2h0M593.6 162.1h0M665.0 45.6h0M600.2 328.0h0M570.3 145.9h0M633.6 304.9h0M599.1 323.4h0M604.4 145.3h0M630.2 102.0h0M609.2 267.4h0M618.9 128.6h0M589.2 324.9h0M565.9 67.8h0M595.7 150.8h0M595.8 170.8h0M613.8 287.0h0M614.9 302.6h0"/><path stroke="#bc009f" d="M593.9 201.3h0M622.4 127.8h0M599.8 325.7h0M593.3 50.7h0M586.8 165.6h0M575.6 64.1h0M610.1 324.9h0M621.4 245.8h0M593.2 147.7h0M595.1 186.4h0M615.3 163.9h0M602.0 168.2h0M573.6 164.7h0M607.2 265.5h0M603.5 304.1h0M599.5 105.9h0M585.0 169.9h0M591.7 209.8h0M604.6 161.3h0M606.4 183.2h0M576.8 168.2h0M610.5 168.2h0M609.2 327.2h0M635.3 245.3h0M621.2 86.6h0M617.0 306.4h0M605.8 306.4h0M612.2 187.2h0M616.3 290.0h0M630.8 306.4h0M614.8 305.7h0M643.6 47.8h0M588.9 68.6h0M626.9 226.2h0M625.2 85.4h0M596.1 325.7h0M620.0 102.0h0M597.9 207.8h0M626.3 86.2h0M617.0 307.2h0M614.4 109.8h0M621.3 245.3h0M578.4 64.1h0M603.1 181.5h0M591.1 161.3h0M586.2 68.6h0M595.6 164.7h0M580.7 188.8h0M648.7 164.7h0M607.6 282.8h0M615.5 188.8h0M631.9 47.0h0M578.6 65.6h0M630.5 304.9h0M611.5 324.1h0M614.0 290.0h0M586.6 148.3h0M618.7 81.6h0M605.7 329.5h0M614.7 224.2h0M580.1 207.2h0M569.0 68.6h0M610.8 321.0h0M606.7 324.9h0M600.4 324.9h0M626.2 85.8h0M641.1 226.2h0M611.7 129.4h0M615.0 289.2h0M605.1 283.6h0M577.0 127.1h0M595.6 64.9h0M610.3 303.4h0M602.6 169.1h0M627.0 109.1h0M633.7 265.5h0"/><path stroke="#c70098" d="M585.0 67.1h0M622.1 165.6h0M614.2 102.7h0M605.1 164.7h0M607.1 129.4h0M617.0 270.5h0M613.0 321.0h0M610.6 302.6h0M611.4 281.5h0M611.6 302.6h0M608.3 282.8h0M650.5 264.9h0M602.5 162.1h0M594.9 205.9h0M596.0 167.3h0M620.1 324.1h0M631.0 245.3h0M587.6 169.1h0M599.1 284.9h0M603.4 283.6h0M600.4 201.3h0M605.8 162.1h0M609.4 87.0h0M596.2 324.1h0M593.7 184.0h0M590.1 203.2h0M615.2 268.6h0M608.7 167.3h0M594.7 324.1h0M619.4 129.4h0M603.7 324.9h0M583.0 126.3h0M611.5 282.8h0M580.3 44.1h0M587.6 207.8h0M608.3 104.6h0M625.1 165.6h0M615.8 244.8h0M605.5 323.4h0M589.6 163.9h0M595.6 164.7h0M605.8 105.3h0M627.7 306.4h0M617.6 284.5h0M619.0 244.8h0M607.7 322.6h0M624.2 307.9h0M585.5 66.3h0M573.3 67.1h0M607.0 322.6h0M566.9 65.6h0M571.5 63.4h0M615.0 290.0h0M596.5 208.5h0M586.5 166.5h0M615.9 162.1h0M618.1 262.4h0M636.3 46.3h0M614.1 321.0h0M593.1 182.4h0M568.7 47.0h0M610.6 303.4h0M615.7 163.0h0M623.4 88.1h0M626.4 225.2h0M637.5 44.8h0M607.2 106.5h0M613.0 326.4h0M607.9 324.9h0M595.9 183.2h0M594.3 168.2h0"/><path stroke="#d10091" d="M621.8 326.4h0M624.8 324.9h0M601.3 181.5h0M600.3 205.9h0M609.4 285.8h0M646.8 44.8h0M619.4 262.4h0M612.1 163.0h0M621.0 102.0h0M614.7 327.2h0M647.2 48.5h0M615.0 223.3h0M603.8 187.2h0M622.6 130.9h0M585.0 205.2h0M626.4 283.2h0M574.6 105.9h0M606.7 328.8h0M641.5 165.6h0M652.7 105.9h0M615.1 90.8h0M589.2 141.6h0M585.9 207.2h0M589.8 184.8h0M613.4 226.2h0M578.5 205.2h0M586.5 105.3h0M614.9 87.7h0M605.1 324.9h0M576.7 67.1h0M596.7 326.4h0M635.4 225.2h0M597.2 328.0h0M614.9 265.5h0M575.1 163.0h0M608.6 308.7h0M616.7 267.4h0M621.2 302.6h0M578.9 206.5h0M617.9 87.0h0M611.9 225.2h0M607.4 284.5h0M646.1 244.8h0M634.3 227.1h0M611.0 183.2h0M610.2 184.8h0M599.5 106.5h0M614.8 246.4h0M574.2 66.3h0M611.4 188.0h0M612.7 328.8h0M596.3 285.8h0M613.6 83.9h0M643.9 244.8h0M616.8 304.9h0M609.5 329.5h0M621.9 86.2h0M580.7 162.1h0M593.0 207.8h0M612.4 222.3h0M596.2 148.3h0M613.6 126.3h0M626.6 227.1h0M619.6 106.5h0M627.1 324.9h0M614.5 285.3h0M643.1 85.8h0M605.2 225.2h0M623.4 303.4h0M619.8 289.2h0M621.5 306.4h0M613.3 305.7h0M627.0 307.2h0M624.3 264.3h0M605.6 181.5h0M617.1 88.1h0M595.1 324.1h0M613.5 324.1h0M608.7 192.1h0M606.3 303.4h0"/><path stroke="#db008a" d="M608.0 325.7h0M621.3 288.3h0M603.3 205.9h0M634.1 226.2h0M585.9 106.5h0M612.9 289.2h0M584.6 67.8h0M585.4 188.0h0M636.3 224.2h0M643.9 48.5h0M599.6 163.9h0M614.2 301.9h0M593.0 210.4h0M596.6 184.8h0M605.6 324.1h0M582.8 169.9h0M619.7 306.4h0M644.5 226.2h0M584.5 145.3h0M572.1 166.5h0M593.1 169.9h0M599.4 202.6h0M619.0 86.6h0M605.5 188.0h0M644.4 86.2h0M617.6 266.8h0M589.4 69.3h0"/><path stroke="#f30070" d="M576.4 285.3h0M604.2 205.2h0M541.4 105.9h0M615.8 164.7h0M607.3 287.0h0M555.7 48.5h0M592.3 284.5h0M562.1 49.2h0M590.3 184.0h0M603.2 41.9h0M589.9 185.6h0M591.9 125.5h0M579.6 204.5h0M611.9 322.6h0M505.0 47.8h0M602.3 166.5h0M653.0 166.5h0M556.0 107.2h0M583.3 164.7h0M527.0 45.6h0M633.0 227.1h0M594.3 45.6h0M536.6 46.3h0M580.6 187.2h0M643.1 45.6h0M590.1 188.8h0M642.1 86.6h0"/><path stroke="#f80067" d="M580.2 184.8h0M615.1 324.9h0M584.2 284.9h0M566.9 64.1h0M642.6 324.9h0M566.8 125.5h0M606.8 284.0h0M593.5 325.7h0M574.4 126.3h0M587.8 129.4h0M523.5 46.3h0M590.9 162.1h0M642.4 225.2h0M578.2 184.0h0M546.3 47.8h0M622.9 47.8h0M601.6 328.0h0M619.5 229.1h0M567.1 185.6h0M500.1 46.3h0M563.8 107.2h0M591.7 183.2h0M589.0 127.8h0M571.5 105.3h0M557.6 66.3h0M542.1 44.8h0M567.8 126.3h0M577.7 169.1h0"/><path stroke="#fd005f" d="M549.0 46.3h0M601.4 127.8h0M583.6 127.8h0M568.3 64.9h0M605.9 323.4h0M547.7 66.3h0M575.0 44.1h0M566.3 44.1h0M537.7 47.8h0M550.5 107.2h0M584.2 183.2h0M621.7 305.7h0M573.6 48.5h0M539.5 67.1h0M584.0 285.3h0M622.7 282.8h0M637.4 47.8h0M559.5 126.3h0M579.3 187.2h0M536.4 47.0h0M562.1 127.1h0M615.9 130.2h0M571.9 186.4h0"/><path stroke="#ff0056" d="M570.9 284.9h0M607.4 205.9h0M542.8 47.0h0M615.0 301.9h0M539.6 47.0h0M470.6 46.3h0M541.4 48.5h0M472.9 46.3h0M625.7 229.1h0M621.4 126.3h0M611.1 106.5h0M624.6 244.8h0M590.5 284.9h0M562.0 205.2h0M604.6 144.1h0M606.8 184.8h0M581.1 125.5h0M609.2 89.3h0M571.3 125.5h0M469.0 46.3h0M568.7 67.8h0M561.0 47.8h0"/><path stroke="#0088fa" d="M614.6 63.4h0M628.3 205.2h0M687.6 145.9h0M606.7 84.3h0M624.8 147.7h0M646.3 185.6h0M575.5 125.5h0M604.0 226.2h0M631.4 185.6h0M649.6 186.4h0M606.3 266.1h0M607.5 264.3h0M617.5 85.8h0M601.1 245.8h0M594.5 246.4h0M644.9 65.6h0M637.4 145.3h0M665.8 66.3h0M594.4 267.4h0M602.6 144.7h0M678.3 145.9h0M642.8 165.6h0M607.9 247.4h0M612.6 124.0h0M661.2 245.3h0M600.6 245.3h0M576.5 264.9h0M636.4 166.5h0M613.4 68.6h0M611.0 267.4h0M640.6 205.2h0M646.8 66.3h0M625.2 264.9h0M625.7 65.6h0M600.1 243.7h0M600.1 245.8h0M540.2 105.9h0M623.0 207.8h0M621.5 205.9h0M618.2 44.1h0M589.3 304.9h0M602.7 224.2h0M609.2 281.9h0M600.0 150.8h0M525.7 126.3h0M588.8 86.2h0M595.0 227.1h0M650.0 245.3h0M598.7 243.2h0M636.4 66.3h0M596.5 267.4h0M590.6 225.2h0M633.3 66.3h0M619.4 201.9h0M595.4 268.6h0M619.6 327.2h0M602.6 123.2h0M664.0 145.9h0M598.9 242.7h0M517.6 127.1h0M597.8 226.2h0M627.9 67.1h0M597.2 226.2h0M657.1 205.2h0M593.0 263.0h0M610.6 247.4h0M605.3 250.0h0M566.2 107.2h0M636.0 264.9h0M634.2 205.9h0M591.0 266.8h0M656.1 204.5h0M605.9 241.6h0M604.0 241.1h0M591.3 227.1h0M605.6 243.2h0M589.5 86.2h0M578.3 85.8h0M625.4 325.7h0M605.9 67.8h0M618.4 145.3h0M548.2 86.6h0M611.6 246.4h0M588.5 266.1h0M623.7 129.4h0M639.4 205.2h0M616.3 221.3h0M603.9 265.5h0M588.1 226.2h0M652.0 245.3h0M600.1 266.1h0M624.0 324.1h0M583.6 44.8h0M592.8 244.2h0M564.5 106.5h0M597.7 304.1h0M597.1 244.2h0M639.9 145.9h0M607.2 262.4h0M593.1 105.9h0M619.9 204.5h0M653.2 186.4h0M608.4 245.8h0M629.8 69.3h0M600.4 306.4h0M598.1 263.0h0M615.4 320.3h0M599.2 223.3h0M639.1 185.6h0M638.7 184.8h0M603.2 245.3h0M542.2 86.2h0M597.1 304.9h0M608.2 301.1h0M605.0 263.0h0M594.5 242.7h0M601.0 305.7h0M553.8 105.3h0M653.1 205.9h0M621.9 145.3h0M599.0 249.5h0M631.5 147.7h0M595.7 261.8h0M627.1 145.3h0M617.6 289.6h0M593.8 225.2h0M624.7 69.3h0M586.0 222.3h0M621.2 147.7h0M623.4 205.2h0M607.0 240.6h0M611.3 67.8h0M529.3 86.2h0M568.6 304.9h0M619.7 325.7h0M618.8 107.8h0M596.9 108.5h0M655.9 205.2h0M605.5 244.2h0M614.2 45.6h0M591.6 223.3h0M592.7 47.8h0M601.6 268.0h0M610.5 284.0h0M636.9 67.8h0M599.8 249.5h0M595.0 242.7h0M607.8 244.2h0M546.9 127.1h0M600.8 243.2h0M585.2 225.2h0M588.9 264.3h0M605.5 286.2h0"/><path stroke="#0082f8" d="M533.5 106.5h0M597.1 69.3h0M571.9 304.9h0M600.4 242.1h0M599.3 243.2h0M588.6 223.3h0M635.5 146.5h0M612.4 302.6h0M580.1 226.2h0M631.1 265.5h0M597.2 267.4h0M550.8 86.2h0M620.9 324.1h0M606.3 267.4h0M588.5 225.2h0M632.9 67.1h0M632.5 144.7h0M619.7 88.9h0M603.6 248.5h0M628.9 204.5h0M596.6 50.0h0M559.1 106.5h0M600.2 264.9h0M619.5 325.7h0M584.9 305.7h0M594.1 245.3h0M660.0 245.3h0M628.6 205.9h0M604.0 247.4h0M586.5 223.3h0M606.7 243.2h0M640.2 66.3h0M603.4 243.2h0M571.0 107.2h0M586.5 105.3h0M589.1 228.1h0M636.7 65.6h0M624.5 147.1h0M584.6 104.6h0M620.4 322.6h0M535.3 87.0h0M659.1 47.0h0M595.3 226.2h0M623.6 325.7h0M594.6 223.3h0M629.2 206.5h0M543.4 127.1h0M599.8 49.2h0M595.9 225.2h0M584.2 265.5h0M605.5 108.5h0M614.2 280.6h0M649.8 205.9h0M601.4 44.8h0M600.2 230.0h0M602.3 304.9h0M601.8 266.1h0M568.7 105.3h0M598.7 245.3h0M614.5 230.0h0M642.3 205.2h0M684.6 46.3h0M621.9 184.8h0M601.1 267.4h0M629.0 48.5h0M602.1 246.4h0M644.5 145.9h0M620.6 44.8h0M545.6 85.4h0M657.1 145.9h0M545.5 85.8h0M601.7 266.8h0M606.9 145.3h0M603.5 306.4h0M622.5 206.5h0M535.2 85.8h0M619.4 104.0h0M595.6 224.2h0M610.4 82.7h0M605.0 302.6h0M593.6 262.4h0M598.3 268.0h0M622.7 264.3h0M579.1 106.5h0M577.7 225.2h0M596.4 86.6h0M526.3 105.9h0M618.7 325.7h0M619.7 124.8h0M669.0 245.8h0M603.0 266.8h0M573.4 107.2h0M587.9 246.4h0M579.2 127.1h0M624.9 66.3h0M644.3 205.9h0M613.2 90.1h0M617.3 144.7h0M522.5 86.2h0M591.2 265.5h0M655.8 205.9h0M607.7 207.2h0M554.7 106.5h0M624.6 287.0h0M628.0 205.9h0M546.9 105.3h0M641.8 205.9h0M613.7 69.3h0M656.0 185.6h0M649.1 144.7h0M620.3 129.4h0"/><path stroke="#3968e7" d="M604.0 223.3h0M616.0 329.5h0M619.4 324.1h0M619.6 283.2h0M618.7 183.2h0M591.3 224.2h0M620.0 261.8h0M618.6 91.2h0M622.6 285.8h0M614.8 321.8h0"/><path stroke="#575fdf" d="M625.6 109.8h0M619.8 226.2h0M579.0 168.2h0M617.7 83.5h0M612.6 264.3h0M611.9 105.3h0M619.3 282.3h0M601.1 306.4h0M606.7 150.2h0M604.3 240.6h0M613.4 70.0h0M631.6 130.9h0M621.9 120.9h0M612.1 227.1h0M614.2 188.0h0M643.6 86.6h0M622.5 83.9h0M613.8 300.3h0M620.7 83.1h0M618.4 322.6h0M622.2 88.5h0M619.4 309.5h0M618.1 228.1h0M613.6 262.4h0M610.8 266.1h0M618.5 268.0h0M591.3 151.4h0M624.4 123.2h0M615.9 301.9h0M606.0 223.3h0M613.0 144.1h0M609.8 330.3h0M615.8 183.2h0M582.2 169.1h0M593.6 245.3h0M583.5 209.1h0M583.9 167.3h0M621.4 325.7h0M610.7 307.2h0M623.3 302.6h0M587.8 205.9h0M615.2 307.9h0M621.3 130.2h0M629.0 184.8h0M612.8 84.7h0M624.2 184.8h0M623.2 186.4h0M622.4 327.2h0M596.5 168.2h0"/><path stroke="#6857d8" d="M599.2 224.2h0M596.4 143.5h0M603.7 302.6h0M600.4 227.1h0M633.3 126.3h0M605.9 188.8h0M622.2 145.9h0M629.6 285.3h0M601.1 204.5h0M580.0 66.3h0M606.7 304.1h0M588.3 227.1h0M602.5 107.2h0M612.9 209.1h0M600.7 190.5h0M597.8 209.1h0M608.0 127.1h0M637.1 164.7h0M604.4 301.9h0M619.3 209.1h0M610.7 202.6h0M578.2 44.8h0M618.3 109.8h0M602.6 222.3h0M615.4 209.1h0M610.8 245.3h0M610.9 242.1h0M610.2 85.8h0M591.7 64.1h0M602.9 308.7h0M615.3 208.5h0M640.5 125.5h0M604.1 224.2h0M621.1 122.4h0M629.5 305.7h0M608.0 65.6h0M605.1 64.1h0M611.7 246.9h0M594.7 209.1h0M611.3 221.3h0M603.8 241.6h0M587.1 144.1h0M651.2 105.9h0M590.5 47.0h0"/><path stroke="#764ed0" d="M628.4 187.2h0M607.8 285.8h0M608.5 227.1h0M601.9 144.1h0M599.8 42.6h0M620.5 324.1h0M603.3 182.4h0M616.3 85.4h0M611.9 203.9h0M604.3 207.8h0M629.2 184.8h0M602.7 67.1h0M615.1 262.4h0M627.1 87.7h0M607.6 226.2h0M617.5 107.2h0M618.3 208.5h0M611.1 148.3h0M637.7 107.8h0M625.0 127.1h0M611.5 224.2h0M608.6 242.7h0M603.0 181.5h0M594.1 247.4h0M612.3 145.3h0M620.4 90.5h0M633.3 124.0h0M595.1 150.8h0M603.9 190.5h0M615.2 130.9h0M602.4 206.5h0M600.7 246.4h0M599.4 203.2h0M598.2 307.2h0M612.6 301.1h0M637.5 123.2h0M607.4 308.7h0M630.1 109.8h0M622.9 90.1h0M612.8 88.1h0M611.9 283.6h0M604.3 148.9h0M616.6 146.5h0M616.1 201.9h0M617.9 304.1h0M583.9 166.5h0"/><path stroke="#8244c7" d="M616.2 205.2h0M608.3 109.1h0M596.0 305.7h0M597.7 247.9h0M590.8 164.7h0M621.1 167.3h0M608.4 306.4h0M597.8 141.6h0M613.2 328.0h0M617.8 264.9h0M597.9 266.8h0M601.9 228.1h0M625.8 103.3h0M577.7 62.7h0M612.7 82.3h0M627.8 108.5h0M621.7 102.0h0M584.1 71.5h0M606.2 249.0h0M620.0 128.6h0M608.8 265.5h0M614.6 205.9h0M586.3 168.2h0M607.0 42.6h0M602.2 184.0h0M609.8 226.2h0M593.8 42.6h0M615.8 310.2h0M634.3 106.5h0M613.2 301.1h0M616.3 271.1h0M616.4 105.9h0M613.5 184.0h0M608.9 283.2h0M600.0 187.2h0M583.5 202.6h0M625.7 130.9h0M615.2 326.4h0M593.8 148.9h0M615.6 207.2h0M603.0 222.3h0M610.6 302.6h0M596.6 221.3h0M600.9 65.6h0M616.2 127.1h0M616.3 304.9h0M613.2 281.5h0M586.8 64.1h0M599.1 149.6h0M618.8 265.5h0M630.0 105.3h0M597.8 244.2h0M617.8 290.5h0"/><path stroke="#8d39be" d="M598.9 145.3h0M646.7 125.5h0M617.3 88.5h0M588.9 64.9h0M616.1 301.1h0M636.2 87.0h0M614.0 304.9h0M623.4 224.2h0M610.4 282.3h0M622.2 109.1h0M619.4 188.8h0M605.6 179.1h0M607.8 89.3h0M587.2 65.6h0M613.5 166.5h0M623.1 184.8h0M594.2 169.1h0M583.5 205.2h0M597.1 200.6h0M621.4 287.9h0M614.4 287.9h0M619.7 305.7h0M593.5 141.0h0M621.5 45.6h0M623.4 127.1h0M606.5 227.1h0M620.8 111.1h0M599.7 50.0h0M603.4 246.4h0M610.3 229.1h0M621.1 305.7h0M616.7 90.1h0M612.6 182.4h0M586.2 142.9h0M634.2 224.2h0M618.9 130.9h0M595.0 107.8h0M604.1 304.1h0M610.5 261.2h0M617.3 186.4h0M623.6 266.8h0M593.2 150.2h0M611.2 88.9h0M617.9 66.3h0"/><path stroke="#962db3" d="M616.1 262.4h0M610.8 324.1h0M605.3 304.9h0M606.2 222.3h0M600.6 146.5h0M587.2 45.6h0M617.6 285.8h0M612.3 247.9h0M615.9 285.3h0M622.4 105.9h0M594.1 107.8h0M598.3 200.6h0M631.6 86.6h0M621.3 130.9h0M565.4 65.6h0M608.4 83.5h0M618.9 164.7h0M608.1 305.7h0M577.5 69.3h0M614.2 184.8h0M615.7 324.9h0M608.8 88.9h0M593.1 205.9h0M615.6 290.5h0M602.0 208.5h0M621.9 227.1h0M590.5 205.9h0M611.3 242.7h0M594.7 140.4h0M611.3 243.7h0M611.1 268.0h0M625.4 184.8h0M597.2 203.9h0M593.0 204.5h0M633.8 225.2h0M572.3 167.3h0M636.5 125.5h0M646.8 126.3h0M606.9 145.9h0M599.2 67.8h0M569.0 165.6h0M622.8 284.0h0M633.3 125.5h0M625.4 104.6h0M607.0 168.2h0M603.3 163.0h0M606.0 306.4h0M615.8 281.9h0M610.9 328.8h0M605.2 146.5h0M609.2 306.4h0M615.7 304.1h0M638.1 126.3h0M603.5 86.6h0"/><path stroke="#a31daa" d="M617.0 103.3h0M610.7 310.2h0M607.7 267.4h0M635.8 126.3h0M617.2 102.7h0M578.4 45.6h0M577.0 145.9h0M623.3 281.9h0M617.4 269.2h0M607.4 144.1h0M621.0 127.1h0M580.4 166.5h0M624.0 105.9h0M603.4 67.8h0M622.4 226.2h0M602.8 226.2h0M576.8 70.0h0M588.1 202.6h0M605.0 203.9h0M609.7 188.8h0M612.5 244.8h0M609.0 186.4h0M595.3 187.2h0M613.0 286.6h0M637.1 85.8h0M578.0 165.6h0M606.1 192.1h0M599.2 209.1h0M616.8 207.8h0M618.5 305.7h0M616.2 102.7h0M624.9 86.2h0M579.4 146.5h0M623.2 301.9h0M613.5 266.1h0M622.4 324.9h0M616.2 87.4h0M615.1 289.6h0M615.6 244.2h0M608.6 306.4h0M586.2 205.9h0M624.9 304.9h0M594.0 107.2h0M597.3 70.0h0M628.2 303.4h0M600.9 107.8h0M641.1 127.8h0M613.4 324.9h0M625.2 227.1h0M624.8 184.0h0M617.6 225.2h0M621.1 288.8h0M618.6 222.3h0M616.3 262.4h0M574.2 145.9h0M618.3 184.0h0M629.8 120.1h0M623.1 83.9h0M600.0 108.5h0M590.3 66.3h0M606.0 324.9h0"/><path stroke="#b00fa5" d="M606.6 125.5h0M625.9 228.1h0M579.1 163.9h0M626.9 87.7h0M591.6 163.0h0M638.0 87.0h0M601.3 325.7h0M612.2 104.6h0M603.4 144.1h0M607.4 181.5h0M613.2 301.9h0M624.3 264.9h0M615.7 324.1h0M580.7 184.8h0M600.0 168.2h0M589.5 184.0h0M568.8 127.8h0M592.4 66.3h0M648.2 87.0h0M600.2 182.4h0M619.2 86.2h0M591.8 207.8h0M612.3 284.9h0M656.9 105.9h0M583.8 107.2h0M638.7 226.2h0M639.7 108.5h0M608.4 329.5h0M621.7 263.0h0M593.4 200.6h0M618.2 165.6h0M594.9 207.8h0M597.7 161.3h0M627.3 307.2h0M618.0 308.7h0M597.1 164.7h0M627.0 88.1h0M608.0 166.5h0M617.3 300.3h0M627.6 304.9h0M651.1 47.8h0M588.2 208.5h0M620.2 328.0h0M624.4 100.7h0M580.5 63.4h0M610.4 43.4h0M612.7 308.7h0M601.1 169.9h0M660.5 47.0h0M611.0 86.2h0M619.8 301.1h0M566.7 146.5h0M615.6 327.2h0M633.4 227.1h0M594.3 324.9h0M604.0 164.7h0M619.2 306.4h0M608.3 188.0h0M617.8 323.4h0M623.6 84.3h0"/><path stroke="#bc009f" d="M579.2 205.9h0M614.1 83.5h0M584.8 127.8h0M599.6 204.5h0M580.5 70.0h0M602.2 328.8h0M593.6 188.0h0M609.7 284.0h0M585.5 65.6h0M590.5 167.3h0M618.9 304.9h0M609.1 307.2h0M575.8 169.1h0M574.5 165.6h0M619.3 286.2h0M588.7 147.7h0M626.2 86.6h0M629.9 227.1h0M602.4 323.4h0M618.9 245.8h0M603.6 123.2h0M597.4 324.1h0M633.0 165.6h0M556.6 124.8h0M614.8 309.5h0M618.2 83.1h0M605.9 162.1h0M609.7 303.4h0M611.5 286.6h0M606.1 284.5h0M631.7 245.3h0M590.4 168.2h0M589.6 148.9h0M604.2 166.5h0M630.4 47.8h0M622.1 163.9h0M661.8 106.5h0M598.1 44.1h0M584.5 169.1h0M614.3 280.2h0M592.5 128.6h0M638.6 264.9h0M598.0 323.4h0M628.2 105.9h0M610.0 164.7h0M605.7 324.1h0M571.4 105.9h0M644.0 125.5h0M616.0 300.3h0M605.5 86.6h0M613.4 46.3h0M615.3 328.0h0M613.9 260.6h0M597.9 205.9h0M607.1 323.4h0M612.1 321.8h0M613.3 129.4h0M596.9 167.3h0M572.8 163.9h0M619.6 221.3h0M615.5 302.6h0M597.3 327.2h0M587.2 164.7h0M607.9 130.2h0M601.1 323.4h0M572.1 62.7h0M601.8 104.6h0M618.9 227.1h0M617.2 81.6h0M589.1 188.0h0M610.1 227.1h0M608.1 207.8h0"/><path stroke="#c70098" d="M599.1 203.9h0M605.9 301.9h0M616.6 92.0h0M610.8 284.5h0M581.2 64.1h0M615.7 264.9h0M614.3 245.3h0M579.5 147.7h0M583.3 203.9h0M603.6 85.4h0M615.6 330.3h0M616.6 325.7h0M618.0 287.9h0M613.1 288.8h0M667.4 46.3h0M606.7 188.0h0M608.9 328.8h0M633.8 264.9h0M623.2 105.3h0M603.2 227.1h0M632.2 125.5h0M641.5 85.8h0M591.5 202.6h0M596.4 145.9h0M619.3 307.9h0M614.6 245.3h0M634.0 44.8h0M618.2 245.8h0M576.1 146.5h0M579.8 203.2h0M612.5 283.2h0M581.1 205.2h0M622.0 84.3h0M605.6 191.3h0M596.2 184.8h0M609.4 285.3h0M603.2 142.2h0M629.0 264.9h0M632.7 87.0h0M572.2 106.5h0M582.4 163.9h0M602.8 324.1h0M575.2 47.0h0M587.5 185.6h0M580.6 145.3h0M570.8 68.6h0M615.3 303.4h0M603.5 166.5h0M591.2 165.6h0M644.6 85.8h0M615.2 107.2h0M618.4 261.8h0M584.3 170.8h0M623.2 304.1h0M605.0 85.0h0M631.7 225.2h0M621.4 264.9h0M602.1 324.1h0M626.5 306.4h0M608.6 328.8h0M623.8 302.6h0"/><path stroke="#d10091" d="M604.5 207.2h0M625.7 306.4h0M585.8 184.8h0M629.8 104.6h0M614.8 281.0h0M587.6 187.2h0M620.5 166.5h0M612.8 319.5h0M578.7 163.0h0M618.6 226.2h0M606.9 108.5h0M592.8 326.4h0M581.1 168.2h0M590.7 170.8h0M593.2 185.6h0M591.8 184.8h0M575.6 63.4h0M589.4 209.8h0M585.4 169.1h0M618.4 288.3h0M620.8 323.4h0M570.2 145.9h0M609.0 304.1h0M600.7 324.9h0M599.8 107.8h0M624.0 228.1h0M608.7 222.3h0M636.7 166.5h0M611.8 281.9h0M634.0 246.4h0M625.1 283.2h0M580.4 147.1h0M582.7 69.3h0M601.1 327.2h0M602.8 325.7h0M581.1 61.9h0M612.5 220.4h0M625.5 307.9h0M620.5 307.2h0M615.3 286.6h0M607.2 324.1h0M632.3 245.3h0M583.3 43.4h0M599.1 285.8h0M612.8 91.2h0M609.9 107.2h0M610.7 181.5h0M590.1 106.5h0M610.0 169.1h0M613.7 289.6h0M619.9 90.5h0M618.2 268.6h0M614.5 325.7h0M678.6 46.3h0M599.9 321.8h0M612.6 327.2h0M594.2 163.0h0M608.0 163.9h0M620.2 244.8h0M618.0 163.9h0M623.5 111.7h0M577.4 146.5h0"/><path stroke="#db008a" d="M602.2 324.9h0M634.1 124.8h0M586.9 142.2h0M588.6 164.7h0M604.4 187.2h0M602.6 182.4h0M611.5 304.9h0M612.1 124.0h0M610.3 323.4h0M624.0 84.7h0M617.2 330.3h0M591.2 163.9h0M616.9 279.8h0M634.8 245.3h0M598.2 46.3h0M628.5 130.2h0M591.1 187.2h0M612.3 125.5h0M621.7 83.1h0M623.0 307.9h0M613.4 183.2h0M611.9 81.9h0M600.7 64.9h0M577.7 147.7h0M597.1 199.3h0M626.2 302.6h0M599.5 164.7h0M593.1 62.7h0M613.6 167.3h0M575.1 106.5h0M593.3 187.2h0M583.2 184.0h0"/><path stroke="#f30070" d="M628.8 86.2h0M604.3 160.4h0M546.3 47.0h0M673.0 105.9h0M601.7 322.6h0M555.0 185.6h0M503.9 45.6h0M618.5 266.1h0M569.7 185.6h0M615.0 263.0h0M604.2 168.2h0M620.9 284.5h0M538.7 284.9h0M571.9 127.1h0M608.5 87.0h0M579.1 185.6h0M557.5 284.9h0M536.5 284.9h0M595.0 151.4h0M559.3 46.3h0M593.9 324.1h0M581.6 284.9h0M512.3 47.0h0M477.3 46.3h0M566.6 205.2h0M646.0 165.6h0M571.4 48.5h0M626.6 285.8h0M619.2 288.8h0"/><path stroke="#f80067" d="M587.0 184.0h0M551.7 47.0h0M574.7 205.2h0M571.5 126.3h0M633.0 225.2h0M613.2 127.8h0M592.8 126.3h0M596.5 169.9h0M606.8 48.5h0M550.7 47.8h0M552.7 185.6h0M588.8 284.5h0M614.8 290.5h0M607.1 124.0h0M579.3 184.0h0M557.4 105.3h0M578.2 163.9h0M569.1 185.6h0M594.2 169.9h0M560.5 284.9h0M609.2 126.3h0M622.3 324.1h0"/><path stroke="#fd005f" d="M585.8 185.6h0M550.4 126.3h0M648.7 226.2h0M623.7 46.3h0M641.2 45.6h0M617.9 301.9h0M578.7 285.3h0M588.1 186.4h0M555.3 44.8h0M627.2 165.6h0M566.4 49.2h0M551.1 105.3h0M586.6 189.7h0M568.8 46.3h0M611.0 91.2h0M592.3 107.2h0M546.8 107.2h0M592.6 285.3h0M552.0 44.1h0M583.4 184.8h0M644.3 245.3h0M608.8 303.4h0M655.8 165.6h0M580.2 124.8h0M552.5 45.6h0M543.8 284.9h0M602.3 326.4h0M544.5 66.3h0M586.2 126.3h0"/><path stroke="#ff0056" d="M645.3 165.6h0M569.1 47.8h0M575.3 184.0h0M613.9 87.4h0M596.4 160.4h0M634.7 225.2h0M611.8 90.1h0M577.6 184.0h0M618.5 283.6h0M615.0 323.4h0M577.2 128.6h0M515.3 47.0h0M547.5 284.9h0M636.1 224.2h0M635.7 304.9h0M543.7 46.3h0M589.4 207.8h0M556.7 45.6h0M558.8 107.2h0M604.2 45.6h0M570.4 126.3h0M555.7 65.6h0M481.3 46.3h0M626.1 123.2h0M560.8 44.1h0M629.9 226.2h0M550.4 45.6h0M554.7 45.6h0M645.2 86.2h0M583.6 125.5h0M613.9 85.4h0M612.2 169.1h0M620.0 83.9h0M575.7 186.4h0M623.9 229.1h0M539.2 45.6h0M656.6 165.6h0M557.5 44.8h0M575.2 187.2h0"/><path stroke="#0088fa" d="M549.5 85.4h0M606.3 243.7h0M598.8 262.4h0M627.7 123.2h0M633.9 130.2h0M594.6 243.2h0M598.0 264.3h0M611.5 68.6h0M652.6 145.9h0M667.5 145.9h0M632.7 66.3h0M636.2 145.9h0M604.4 226.2h0M683.6 46.3h0M573.4 126.3h0M602.6 264.3h0M613.0 245.8h0M604.2 103.3h0M614.8 245.8h0M613.6 202.6h0M593.6 263.7h0M609.0 250.0h0M619.6 268.6h0M627.8 284.9h0M621.9 324.9h0M604.1 250.0h0M626.3 207.2h0M548.8 126.3h0M595.8 262.4h0M659.1 45.6h0M605.5 284.9h0M624.6 187.2h0M619.3 206.5h0M652.7 66.3h0M621.5 287.5h0M611.9 282.3h0M649.0 186.4h0M616.5 261.2h0M607.3 249.5h0M599.3 241.1h0M623.8 132.5h0M606.7 244.8h0M599.2 304.1h0M591.5 263.7h0M605.5 265.5h0M599.5 266.8h0M591.9 49.2h0M525.0 105.9h0M595.4 86.2h0M606.2 286.2h0M562.0 86.2h0M638.9 205.2h0M624.6 325.7h0M620.2 144.1h0M647.3 186.4h0M618.2 324.9h0M649.6 105.9h0M600.5 242.7h0M649.3 204.5h0M588.0 47.0h0M583.6 224.2h0M536.8 86.6h0M642.1 105.3h0M597.1 245.3h0M604.8 267.4h0M638.8 67.1h0M625.2 64.9h0M597.3 242.7h0M549.7 87.0h0M602.5 106.5h0M630.6 130.9h0M628.7 284.9h0M593.5 261.8h0M627.6 205.2h0M654.0 46.3h0M524.8 126.3h0M600.3 222.3h0M628.2 166.5h0M569.6 86.2h0M651.9 145.9h0M640.1 185.6h0M551.9 86.6h0M601.8 244.2h0M620.2 82.3h0M626.7 64.1h0M617.9 165.6h0M612.9 243.7h0M597.9 261.8h0M621.7 101.4h0M608.2 84.3h0M617.5 124.0h0M587.8 224.2h0M591.4 128.6h0M621.6 323.4h0M612.1 145.9h0M599.9 305.7h0M612.6 246.9h0M604.3 261.2h0M648.0 145.3h0M624.6 205.9h0M607.8 302.6h0M601.3 267.4h0M618.6 84.3h0M670.7 205.2h0M622.6 286.2h0M534.2 85.8h0M605.1 87.0h0M653.5 185.6h0M618.6 163.9h0M661.6 65.6h0M612.9 83.5h0M620.7 84.7h0M648.1 105.9h0M611.6 228.1h0M643.1 67.1h0M616.6 127.8h0M604.2 245.8h0M611.9 243.2h0M591.5 245.8h0M616.2 280.2h0M609.7 44.8h0M642.2 146.5h0M663.2 66.3h0M593.1 227.1h0M602.5 244.2h0M593.6 229.1h0M602.2 242.7h0M620.9 145.3h0M632.5 146.5h0M599.6 269.2h0M646.5 184.8h0M609.5 146.5h0M616.5 144.1h0M550.0 127.8h0M620.0 147.1h0M630.2 85.8h0M553.3 86.6h0M628.4 66.3h0M648.4 44.1h0M618.1 204.5h0M612.0 207.2h0M630.8 206.5h0M586.2 265.5h0M601.5 304.9h0M590.8 244.8h0M543.7 87.0h0M614.1 203.2h0M584.7 304.9h0M622.6 185.6h0"/><path stroke="#0082f8" d="M668.7 146.5h0M602.2 245.3h0M639.1 64.9h0M528.1 126.3h0M609.0 304.9h0M604.7 266.1h0M614.5 105.9h0M536.8 86.2h0M603.5 245.8h0M607.1 263.0h0M531.3 127.1h0M587.5 264.3h0M587.5 305.7h0M595.5 246.9h0M618.0 67.8h0M592.1 262.4h0M636.7 186.4h0M616.6 321.8h0M594.3 44.8h0M523.6 86.6h0M592.0 265.5h0M663.8 145.9h0M597.1 263.0h0M619.1 125.5h0M660.4 185.6h0M616.5 47.0h0M621.4 223.3h0M605.7 146.5h0M544.4 125.5h0M600.2 265.5h0M610.8 265.5h0M623.6 147.1h0M619.0 90.1h0M635.0 144.7h0M608.6 243.2h0M538.1 105.9h0M617.1 201.9h0M603.5 263.0h0M624.9 46.3h0M632.7 186.4h0M604.4 127.8h0M636.8 205.2h0M621.5 69.3h0M668.1 245.3h0M610.5 283.6h0M605.5 264.9h0M534.4 86.6h0M579.7 226.2h0M601.7 66.3h0M607.5 245.3h0M580.1 46.3h0M605.8 242.1h0M618.5 320.3h0M595.2 263.0h0M526.6 127.1h0M585.2 48.5h0M607.3 247.9h0M616.0 145.9h0M657.0 185.6h0M602.9 266.1h0M602.9 85.8h0M644.8 47.0h0M612.2 264.9h0M597.7 266.1h0M637.0 264.9h0M590.3 304.1h0M608.1 226.2h0M600.4 307.2h0M598.6 266.1h0M594.6 268.6h0M608.6 148.9h0M612.4 43.4h0M617.7 185.6h0M535.0 106.5h0M615.6 228.1h0M596.7 246.9h0M596.7 247.4h0M618.7 69.3h0M606.5 228.1h0M546.6 87.0h0M614.7 280.2h0M604.8 46.3h0M608.2 247.9h0M647.3 46.3h0M658.1 66.3h0M620.8 67.1h0M640.8 186.4h0M592.5 264.9h0M596.3 227.1h0M615.6 148.3h0M653.4 66.3h0M593.8 264.9h0M595.8 304.9h0M600.0 260.6h0M657.5 46.3h0M622.9 323.4h0M575.0 107.8h0M583.1 305.7h0M533.6 86.2h0M581.7 47.0h0M636.1 124.0h0M618.9 68.6h0M607.1 250.6h0M613.5 163.9h0M552.5 125.5h0M579.4 225.2h0M526.2 125.5h0M650.4 205.9h0M582.2 304.9h0M615.6 48.5h0M619.2 67.1h0M598.4 263.7h0M617.3 324.1h0M611.6 245.8h0M605.0 244.2h0M620.0 266.8h0M606.6 225.2h0M612.3 288.3h0M616.8 204.5h0M623.5 326.4h0M584.2 48.5h0M621.0 146.5h0M654.1 44.8h0M600.7 244.8h0M625.5 186.4h0M603.2 242.7h0M608.7 64.1h0M600.6 268.6h0M630.6 186.4h0M591.8 51.5h0M636.4 206.5h0M653.0 204.5h0M652.8 186.4h0M640.5 165.6h0M578.8 86.6h0M636.8 185.6h0M622.5 288.3h0M628.5 67.1h0M618.0 105.3h0M653.7 145.9h0M631.4 205.9h0"/><path stroke="#3968e7" d="M616.5 207.2h0M611.6 208.5h0M609.4 264.9h0M625.6 104.0h0M606.7 304.9h0M610.9 143.5h0M612.0 325.7h0"/><path stroke="#575fdf" d="M603.6 148.3h0M599.5 207.2h0M625.0 87.7h0M581.6 162.1h0M614.6 264.9h0M643.6 244.8h0M599.9 246.9h0M612.9 263.0h0M622.1 129.4h0M581.3 44.1h0M582.9 105.9h0M602.6 241.6h0M610.2 306.4h0M613.0 187.2h0M587.6 209.1h0M609.4 301.1h0M609.6 105.3h0M616.7 223.3h0M613.5 148.3h0M584.9 145.3h0M611.8 225.2h0M606.4 242.7h0M621.1 202.6h0M599.1 246.9h0M626.2 225.2h0M602.4 108.5h0M634.0 102.7h0M596.4 182.4h0M608.5 266.1h0M614.1 147.1h0M590.4 67.8h0M615.9 324.9h0M625.8 166.5h0M623.7 87.0h0M612.0 263.7h0M617.7 226.2h0M629.2 125.5h0M623.1 85.4h0M621.4 87.7h0M621.7 64.1h0M611.8 266.8h0M591.6 149.6h0M643.7 105.9h0M616.2 87.0h0M601.6 221.3h0M617.9 287.5h0M633.3 184.8h0M615.2 188.0h0M612.9 323.4h0M619.6 264.3h0M600.0 148.9h0M593.5 62.7h0M603.4 249.5h0M612.4 104.0h0M615.9 268.0h0M610.5 242.7h0M611.6 144.1h0M639.8 124.8h0"/><path stroke="#6857d8" d="M610.4 89.3h0M582.1 70.8h0M625.5 84.3h0M606.6 264.3h0M614.8 221.3h0M590.1 144.7h0M620.4 224.2h0M622.8 89.7h0M636.2 144.7h0M621.6 266.1h0M615.5 88.1h0M614.3 306.4h0M609.2 191.3h0M587.9 304.9h0M621.7 87.0h0M605.0 242.7h0M613.2 321.8h0M595.9 63.4h0M619.0 102.7h0M600.1 67.8h0M607.0 222.3h0M614.2 283.6h0M613.7 123.2h0M608.1 302.6h0M630.1 186.4h0M612.8 267.4h0M600.7 104.6h0M583.5 208.5h0M607.9 286.2h0"/><path stroke="#764ed0" d="M616.9 266.1h0M610.5 284.9h0M619.3 85.0h0M613.6 246.4h0M609.5 67.1h0M609.0 142.9h0M581.7 72.2h0M607.6 307.2h0M608.9 145.3h0M624.1 125.5h0M594.3 248.5h0M608.9 222.3h0M612.1 322.6h0M610.0 69.3h0M595.8 65.6h0M675.2 45.6h0M621.7 328.8h0M600.8 248.5h0M600.5 149.6h0M588.1 203.2h0M613.2 247.4h0M644.2 264.9h0M616.9 287.9h0M611.5 264.3h0M618.3 223.3h0M605.0 143.5h0M591.6 264.3h0M618.7 261.2h0M581.9 166.5h0M630.1 102.7h0M597.4 304.1h0M620.4 125.5h0M600.9 266.8h0M606.4 285.3h0M614.2 319.5h0M611.5 83.5h0M596.0 226.2h0M602.6 87.0h0M616.2 286.2h0M588.2 164.7h0M603.0 301.9h0M601.4 249.5h0M614.9 91.6h0M566.5 105.9h0M599.3 148.9h0M596.4 145.3h0"/><path stroke="#8244c7" d="M615.6 290.9h0M603.4 202.6h0M623.1 107.2h0M617.3 109.1h0M619.1 45.6h0M610.8 305.7h0M583.4 67.8h0M598.7 243.7h0M604.8 241.1h0M616.7 284.9h0M614.4 307.2h0M578.4 67.1h0M573.4 166.5h0M606.8 67.1h0M612.0 324.1h0M617.7 302.6h0M584.7 163.9h0M594.9 152.0h0M586.4 163.9h0M618.3 85.0h0M642.1 105.9h0M603.4 184.8h0M638.3 185.6h0M591.6 225.2h0M624.1 284.9h0M595.5 184.0h0M578.7 50.0h0M610.6 90.1h0M626.7 286.2h0M612.3 86.2h0M607.7 169.9h0M620.0 282.8h0M628.8 107.2h0M583.0 169.1h0M631.6 128.6h0M611.5 307.2h0M609.8 324.1h0M620.1 326.4h0M586.4 205.2h0M596.8 106.5h0M612.9 64.9h0M590.0 63.4h0M614.4 223.3h0M617.0 325.7h0"/><path stroke="#8d39be" d="M615.1 304.1h0M589.7 206.5h0M616.6 306.4h0M596.9 203.9h0M632.6 106.5h0M603.9 249.5h0M592.9 45.6h0M596.8 44.8h0M569.2 64.1h0M615.1 85.4h0M583.0 44.1h0M592.8 203.9h0M603.0 105.9h0M614.9 310.2h0M618.5 309.5h0M623.8 103.3h0M599.0 182.4h0M597.7 66.3h0M601.0 47.8h0M620.4 261.2h0M592.4 201.9h0M621.2 109.8h0M571.8 69.3h0M593.9 149.6h0M623.1 286.6h0M602.6 187.2h0M617.3 124.8h0M603.7 227.1h0M637.5 105.3h0M576.4 45.6h0M596.5 203.2h0M613.0 318.7h0M617.0 327.2h0M602.2 250.6h0M600.8 142.2h0M595.8 148.9h0M596.4 142.2h0M578.3 162.1h0M602.5 127.1h0M611.1 308.7h0M617.7 110.4h0M590.0 64.9h0M612.1 224.2h0"/><path stroke="#962db3" d="M600.3 50.0h0M599.3 242.1h0M626.0 285.3h0M631.1 105.3h0M590.6 69.3h0M641.5 106.5h0M616.8 283.2h0M580.8 62.7h0M598.0 169.9h0M634.3 128.6h0M617.4 285.3h0M616.6 44.8h0M595.5 66.3h0M611.7 262.4h0M632.8 129.4h0M597.3 189.7h0M593.2 67.8h0M614.1 302.6h0M625.8 107.2h0M621.9 308.7h0M596.8 201.3h0M612.6 265.5h0M617.6 207.2h0M634.6 109.8h0M611.7 109.1h0M616.3 109.8h0M572.6 164.7h0M600.3 150.2h0M614.1 321.8h0M618.2 307.2h0M613.1 90.8h0M592.6 149.6h0M584.2 169.9h0M580.5 163.9h0M582.4 168.2h0M621.0 307.9h0M628.4 225.2h0M615.2 281.9h0M615.3 84.7h0M619.5 103.3h0M574.5 169.9h0M628.7 244.8h0M598.5 327.2h0M595.4 163.0h0M585.2 205.9h0M598.5 142.9h0M617.9 309.5h0M608.5 285.3h0M617.1 284.0h0M601.2 143.5h0M608.8 305.7h0M620.1 301.9h0M614.7 300.3h0"/><path stroke="#a31daa" d="M608.5 169.1h0M631.6 130.2h0M587.6 149.6h0M625.0 284.0h0M583.4 149.6h0M614.6 271.1h0M611.2 321.8h0M616.9 301.1h0M608.4 107.8h0M628.4 226.2h0M572.6 47.8h0M579.9 166.5h0M629.4 127.1h0M611.4 107.8h0M585.1 206.5h0M616.3 205.9h0M607.1 307.9h0M598.3 150.8h0M576.6 169.1h0M622.3 282.3h0M593.3 163.9h0M610.1 308.7h0M611.6 89.7h0M604.1 304.9h0M622.9 305.7h0M629.5 109.1h0M588.3 204.5h0M637.0 122.4h0M605.5 163.9h0M615.9 263.7h0M587.2 208.5h0M621.3 102.7h0M623.9 287.9h0M628.0 186.4h0M620.8 88.5h0M598.1 141.0h0M627.1 264.3h0M619.4 263.0h0M574.4 67.1h0M594.7 148.3h0M613.0 281.9h0M601.2 183.2h0M582.7 204.5h0M606.1 248.5h0M607.9 83.5h0M595.7 146.5h0M614.0 331.1h0M602.1 144.7h0M593.1 148.3h0M599.9 165.6h0M570.0 165.6h0M609.1 284.5h0M594.4 127.8h0M596.9 166.5h0M611.9 168.2h0M615.0 270.5h0M592.2 141.6h0M609.3 124.8h0M612.4 303.4h0M622.0 121.7h0M597.6 326.4h0M608.8 330.3h0M626.3 101.4h0M614.2 263.7h0M597.8 246.4h0"/><path stroke="#b00fa5" d="M630.1 305.7h0M565.3 44.8h0M607.7 286.6h0M596.9 184.0h0M588.5 144.1h0M616.4 49.2h0M588.0 66.3h0M614.6 259.3h0M610.7 161.3h0M601.7 305.7h0M578.8 205.2h0M611.0 285.3h0M590.2 166.5h0M613.4 288.3h0M576.7 62.7h0M572.2 205.2h0M631.0 128.6h0M597.2 326.4h0M601.6 123.2h0M613.8 281.9h0M614.0 310.2h0M605.6 231.0h0M616.8 82.3h0M596.0 327.2h0M589.5 107.8h0M585.8 163.0h0M581.5 169.9h0M629.8 245.8h0M586.6 187.2h0M576.9 163.9h0M624.0 304.9h0M605.3 321.8h0M621.8 328.0h0M596.1 185.6h0M614.4 330.3h0M587.1 70.8h0M601.9 188.8h0M621.3 266.8h0M602.4 306.4h0M623.9 221.3h0M605.7 107.8h0M586.6 45.6h0M596.0 210.4h0M581.4 146.5h0M578.3 61.2h0M612.8 284.9h0M605.7 322.6h0M621.6 164.7h0M606.8 126.3h0M642.6 245.3h0M611.5 267.4h0M615.2 124.0h0M622.6 245.3h0M586.8 207.8h0M631.5 104.0h0M599.9 185.6h0M597.6 325.7h0M610.2 326.4h0M618.6 282.3h0M596.6 47.0h0M590.9 208.5h0M626.4 286.6h0M605.1 326.4h0M620.1 245.3h0"/><path stroke="#bc009f" d="M591.5 104.6h0M628.4 306.4h0M579.7 70.8h0M596.5 165.6h0M627.4 306.4h0M619.9 227.1h0M618.4 284.5h0M628.3 285.8h0M584.6 205.9h0M623.8 324.9h0M573.6 167.3h0M627.3 265.5h0M569.6 167.3h0M620.6 111.7h0M616.6 281.9h0M606.4 326.4h0M600.8 325.7h0M602.9 47.0h0M598.5 323.4h0M630.5 87.0h0M591.5 169.9h0M607.6 163.0h0M594.9 181.5h0M587.6 145.9h0M607.4 328.0h0M607.3 306.4h0M615.1 308.7h0M601.7 327.2h0M600.0 324.1h0M596.1 210.4h0M606.0 320.3h0M603.5 191.3h0M619.9 304.9h0M604.9 169.1h0M615.4 329.5h0M614.7 228.1h0M617.2 289.6h0M609.6 283.2h0M597.7 189.7h0M615.6 92.0h0M598.4 190.5h0M573.0 106.5h0M608.9 184.0h0M610.1 109.8h0M620.8 303.4h0M612.8 90.5h0M594.7 326.4h0M598.4 188.0h0M598.8 127.1h0M676.7 47.0h0M615.4 261.2h0M601.6 105.9h0M620.4 262.4h0M621.5 89.7h0M612.7 108.5h0M637.7 226.2h0M617.3 222.3h0M583.3 183.2h0M599.5 181.5h0M590.6 141.0h0"/><path stroke="#c70098" d="M583.2 146.5h0M615.4 323.4h0M610.1 285.8h0M639.3 129.4h0M557.3 145.9h0M606.0 127.1h0M611.3 104.0h0M598.3 125.5h0M628.6 165.6h0M607.2 303.4h0M604.9 326.4h0M624.2 325.7h0M588.3 60.5h0M606.4 127.1h0M597.9 123.2h0M629.1 223.3h0M596.2 285.3h0M628.4 103.3h0M571.3 64.1h0M594.6 189.7h0M607.6 187.2h0M609.1 84.7h0M639.1 246.4h0M617.0 84.3h0M611.6 287.5h0M581.7 204.5h0M612.4 282.8h0M615.0 298.8h0M633.1 108.5h0M627.9 264.9h0M600.5 105.3h0M602.7 150.8h0M611.8 166.5h0M621.6 86.6h0M637.4 226.2h0M635.2 127.8h0M613.7 126.3h0M626.1 105.9h0M625.9 45.6h0M600.7 207.2h0M572.9 166.5h0M615.7 304.9h0M608.1 304.1h0M581.4 142.9h0M578.9 61.9h0M603.6 46.3h0M581.2 148.9h0M605.2 328.8h0M591.1 105.9h0M600.6 124.0h0M591.7 70.8h0M605.0 167.3h0M620.2 127.1h0M591.0 148.3h0M595.1 209.1h0M617.3 91.2h0M641.6 225.2h0M625.1 105.9h0M610.7 324.1h0M577.6 166.5h0M582.7 49.2h0M576.0 145.3h0M586.7 72.2h0M600.9 103.3h0M588.7 146.5h0M608.3 124.0h0M621.1 266.8h0M600.6 327.2h0M617.8 267.4h0"/><path stroke="#d10091" d="M620.8 281.0h0M611.6 324.9h0M597.7 42.6h0M599.2 324.1h0M616.3 325.7h0M594.7 190.5h0M615.6 265.5h0M606.7 306.4h0M596.4 166.5h0M605.8 304.1h0M585.2 124.8h0M602.0 184.8h0M606.9 324.9h0M582.2 185.6h0M613.7 263.0h0M604.6 165.6h0M625.6 106.5h0M596.6 105.9h0M579.7 163.9h0M615.1 287.9h0M572.7 165.6h0M620.6 307.9h0M574.8 186.4h0M588.1 104.0h0M629.0 227.1h0M618.4 89.3h0M612.3 226.2h0M637.0 106.5h0M619.0 224.2h0M613.3 311.0h0M582.3 49.2h0M583.8 65.6h0M561.6 67.1h0M634.4 245.8h0M598.2 184.8h0M619.7 122.4h0M624.2 305.7h0M620.7 227.1h0M608.4 303.4h0M611.7 268.6h0M608.8 319.5h0M580.4 169.1h0M608.5 85.8h0M603.4 129.4h0M604.2 286.2h0M600.4 163.9h0M611.3 306.4h0M624.3 88.9h0M591.5 105.3h0M592.6 188.0h0M600.1 188.0h0M656.4 47.0h0M620.5 285.8h0M616.1 225.2h0M599.4 161.3h0M616.6 104.6h0M631.9 124.0h0M596.6 125.5h0M628.2 245.3h0M582.7 203.2h0M603.9 170.8h0M590.5 184.8h0M614.2 301.1h0M581.9 186.4h0"/><path stroke="#db008a" d="M566.1 45.6h0M593.3 161.3h0M634.7 129.4h0M592.6 47.0h0M608.5 165.6h0M588.9 205.9h0M621.0 286.2h0M588.5 48.5h0M621.3 100.7h0M609.8 331.1h0M644.5 45.6h0M603.3 303.4h0M595.8 142.9h0M622.9 285.3h0M609.5 321.8h0M613.9 302.6h0M629.1 104.0h0M616.4 324.9h0M599.3 205.9h0M612.2 305.7h0M614.9 125.5h0M622.7 284.9h0M592.4 325.7h0M615.3 104.0h0M617.7 282.3h0M614.8 258.7h0M592.5 325.7h0M607.2 186.4h0M611.3 327.2h0M608.9 88.5h0M604.3 149.6h0M648.8 86.6h0M617.9 246.4h0M582.9 206.5h0M578.5 167.3h0M598.4 285.3h0M610.8 104.6h0M617.9 263.7h0M627.4 244.8h0M625.6 129.4h0"/><path stroke="#f30070" d="M546.0 44.1h0M621.7 282.3h0M548.0 47.8h0M619.8 85.4h0M527.6 45.6h0M568.0 67.1h0M585.9 285.3h0M572.1 46.3h0M588.9 284.9h0M617.0 129.4h0M585.6 126.3h0M611.7 328.8h0M565.8 48.5h0M577.1 125.5h0M616.5 80.8h0M534.7 44.8h0M560.9 147.1h0M610.3 88.1h0M572.3 104.6h0"/><path stroke="#f80067" d="M588.9 285.3h0M556.4 66.3h0M608.0 186.4h0M620.2 284.9h0M555.4 44.1h0M565.0 284.9h0M630.9 86.2h0M516.8 47.8h0M580.7 203.9h0M627.9 324.9h0M574.0 127.1h0M595.5 129.4h0M584.1 184.0h0M551.0 66.3h0M637.5 324.9h0M567.8 284.9h0M589.0 105.3h0M574.2 185.6h0M617.9 307.9h0M607.4 327.2h0M485.6 47.0h0M611.8 89.3h0M490.5 45.6h0M594.7 163.9h0M613.5 308.7h0M573.0 124.8h0M615.4 169.1h0M614.8 80.4h0M652.3 86.2h0M576.8 106.5h0M624.5 83.9h0"/><path stroke="#fd005f" d="M549.8 44.8h0M577.0 187.2h0M608.7 128.6h0M575.3 45.6h0M610.7 162.1h0M609.7 86.6h0M592.1 182.4h0M520.2 46.3h0M553.2 48.5h0M615.4 263.7h0M585.3 127.1h0M572.7 125.5h0M637.9 264.9h0M644.9 245.8h0M608.2 87.7h0M606.8 165.6h0M566.4 64.9h0M563.3 67.8h0M580.8 186.4h0M504.6 46.3h0M592.9 188.8h0M580.9 104.6h0M622.7 244.8h0M596.2 284.5h0M593.7 129.4h0M579.9 70.8h0"/><path stroke="#ff0056" d="M552.0 145.9h0M560.7 127.1h0M589.6 188.8h0M635.5 103.3h0M626.1 325.7h0M532.6 45.6h0M623.5 324.1h0M561.8 126.3h0M595.7 284.9h0M475.8 46.3h0M593.7 125.5h0M557.9 126.3h0M561.1 44.8h0M580.4 184.0h0M591.8 185.6h0M557.4 47.8h0M670.9 46.3h0M520.4 47.0h0M660.2 264.9h0M567.2 145.9h0M557.0 47.0h0M622.2 262.4h0M538.5 47.8h0"/><path stroke="#0088fa" d="M569.3 125.5h0M596.0 266.8h0M549.8 86.2h0M620.8 66.3h0M579.3 304.9h0M601.0 223.3h0M627.0 122.4h0M585.4 227.1h0M580.2 304.9h0M628.5 146.5h0M633.9 185.6h0M605.1 47.8h0M626.3 147.1h0M612.1 205.9h0M639.2 166.5h0M629.0 146.5h0M604.5 284.9h0M621.6 281.0h0M597.3 262.4h0M598.9 222.3h0M625.1 67.1h0M646.5 185.6h0M592.7 244.8h0M629.3 145.9h0M601.2 69.3h0M598.9 247.4h0M619.6 163.9h0M630.9 185.6h0M622.7 205.9h0M644.5 184.8h0M609.9 63.4h0M619.0 81.9h0M617.4 147.1h0M631.3 145.9h0M656.4 67.1h0M594.1 264.3h0M602.3 307.2h0M669.4 45.6h0M590.0 264.9h0M608.9 87.4h0M609.8 244.2h0M595.2 243.2h0M585.2 264.9h0M632.3 187.2h0M596.8 268.6h0M520.2 86.2h0M599.6 266.8h0M666.3 245.3h0M644.2 146.5h0M545.2 86.6h0M513.4 126.3h0M594.3 224.2h0M596.6 248.5h0M634.3 186.4h0M607.2 103.3h0M600.3 261.2h0M614.8 319.5h0M598.0 222.3h0M606.8 245.3h0M603.9 169.1h0M541.2 85.4h0M589.5 245.3h0M605.6 249.5h0M614.7 81.9h0M647.6 67.1h0M588.4 265.5h0M576.3 126.3h0M585.8 226.2h0M641.1 86.2h0M600.1 263.7h0M601.8 261.8h0M606.8 45.6h0M598.6 247.9h0M594.2 70.0h0M609.5 302.6h0M625.1 88.1h0M531.1 126.3h0M605.8 229.1h0M595.4 244.2h0M607.6 229.1h0M626.0 127.1h0M616.9 169.1h0M606.4 263.7h0M586.0 264.9h0M625.2 206.5h0M565.8 86.6h0M620.0 90.8h0M635.2 184.8h0M589.9 263.7h0M611.0 87.4h0M596.2 261.2h0M601.8 285.8h0M545.0 106.5h0M595.8 222.3h0M650.5 66.3h0M592.1 246.9h0M623.9 163.9h0M617.4 148.3h0M607.8 208.5h0M589.5 263.7h0M554.7 127.1h0M586.9 245.8h0M602.3 285.3h0M603.1 225.2h0M499.6 126.3h0M668.5 66.3h0M560.8 124.8h0M605.2 265.5h0M598.4 262.4h0M596.2 247.4h0M589.8 44.1h0M661.0 165.6h0M608.7 163.0h0M621.7 83.5h0M679.0 205.2h0M683.7 45.6h0M567.8 304.9h0M612.6 67.1h0M617.7 208.5h0M609.4 263.7h0M588.7 246.4h0M619.2 88.5h0M615.7 204.5h0M621.6 321.8h0M632.0 46.3h0M582.9 227.1h0M633.2 145.9h0M602.1 243.7h0M609.9 247.4h0M652.3 185.6h0M610.3 245.8h0M576.3 305.7h0M607.5 241.6h0M542.5 86.6h0M618.9 85.8h0M542.1 85.8h0M619.5 167.3h0M605.4 249.5h0M618.5 126.3h0M593.7 86.6h0"/><path stroke="#0082f8" d="M596.0 244.2h0M647.8 185.6h0M587.4 124.8h0M636.3 146.5h0M619.8 203.2h0M600.3 127.1h0M637.8 66.3h0M626.3 185.6h0M597.8 305.7h0M592.9 265.5h0M616.2 64.9h0M565.8 104.6h0M553.6 107.2h0M610.6 230.0h0M630.6 67.1h0M594.0 247.9h0M600.9 240.6h0M624.9 67.8h0M654.7 205.9h0M616.3 227.1h0M532.7 105.9h0M539.9 86.2h0M638.8 186.4h0M595.0 224.2h0M584.1 106.5h0M610.3 266.8h0M620.6 326.4h0M603.7 250.0h0M585.3 245.3h0M546.1 125.5h0M602.0 45.6h0M607.1 283.6h0M608.7 247.9h0M592.8 225.2h0M568.8 105.9h0M610.2 64.9h0M614.0 145.9h0M595.0 285.8h0M549.9 106.5h0M540.3 85.8h0M602.2 264.9h0M628.2 45.6h0M618.8 202.6h0M622.2 203.2h0M607.7 249.5h0M606.6 285.8h0M602.2 268.0h0M594.4 304.9h0M625.8 205.2h0M633.9 206.5h0M605.9 250.0h0M619.1 109.8h0M561.7 127.8h0M608.2 307.9h0M628.2 284.5h0M621.5 324.1h0M580.8 226.2h0M614.7 284.0h0M646.0 67.1h0M593.4 267.4h0M653.2 147.1h0M614.5 87.0h0M597.7 41.9h0M589.5 244.2h0M634.1 146.5h0M605.3 268.0h0M587.0 50.0h0M600.1 268.6h0M627.6 284.0h0M604.7 241.6h0M606.0 263.7h0M603.5 265.5h0M598.1 249.0h0M593.1 264.9h0M605.7 47.0h0M573.7 105.9h0M586.7 245.3h0M623.2 205.9h0M591.4 304.9h0M532.5 86.2h0M650.3 67.1h0M683.0 145.9h0M620.5 144.7h0M595.8 249.0h0M579.4 224.2h0M601.0 262.4h0M602.2 229.1h0M607.4 243.7h0M618.7 280.6h0M640.4 184.8h0M644.1 67.1h0M613.7 284.0h0M590.8 266.1h0M546.2 87.4h0M597.3 261.8h0M604.8 127.1h0M605.6 244.8h0M617.0 89.7h0M595.1 248.5h0M605.3 125.5h0M591.2 226.2h0M595.5 245.8h0M644.5 185.6h0M585.5 224.2h0M606.8 265.5h0M599.7 245.3h0M626.2 48.5h0M603.4 264.3h0M650.8 205.2h0M592.8 267.4h0M606.6 44.8h0M625.6 324.1h0M589.3 265.5h0M617.1 164.7h0M599.8 248.5h0M598.3 242.7h0M605.7 230.0h0M601.2 241.6h0M656.9 65.6h0M609.3 307.9h0M620.4 83.5h0M611.9 242.7h0M610.6 244.2h0M600.5 264.3h0M676.0 205.2h0M636.7 67.1h0M641.6 67.1h0M620.9 106.5h0M657.0 146.5h0M536.2 85.8h0M677.0 105.9h0M603.0 266.1h0M590.7 264.3h0M629.8 205.9h0M594.4 246.9h0"/><path stroke="#3968e7" d="M596.9 150.8h0M609.1 208.5h0M613.1 203.2h0M646.9 245.3h0M655.6 44.8h0M625.3 130.2h0M590.0 202.6h0M608.8 201.9h0M586.3 147.1h0"/><path stroke="#575fdf" d="M627.2 85.0h0M619.0 326.4h0M623.2 264.9h0M607.9 246.4h0M601.2 67.1h0M600.3 205.2h0M604.0 228.1h0M610.3 287.0h0M574.3 46.3h0M629.4 106.5h0M624.5 286.6h0M609.1 266.1h0M600.2 304.9h0M613.4 127.1h0M613.9 84.7h0M574.1 48.5h0M601.8 242.1h0M599.9 208.5h0M619.1 328.0h0M607.7 147.7h0M619.9 285.8h0M609.1 241.6h0M615.2 225.2h0M630.0 44.8h0M619.6 267.4h0M602.8 68.6h0M619.9 206.5h0M615.0 163.0h0M599.7 147.1h0M611.8 204.5h0M576.2 67.8h0M584.0 224.2h0M607.9 285.3h0M596.9 241.6h0M616.4 321.0h0M646.1 85.8h0M615.1 81.9h0M591.0 107.2h0M622.1 281.9h0M581.5 148.3h0M614.5 186.4h0M606.2 88.1h0M619.0 327.2h0M620.1 184.0h0M576.7 166.5h0M601.1 247.4h0M619.4 104.6h0M615.5 65.6h0M617.1 280.6h0M613.6 67.1h0M627.1 184.8h0M605.8 206.5h0M604.4 66.3h0M605.2 242.1h0"/><path stroke="#6857d8" d="M633.3 85.8h0M603.9 305.7h0M602.5 304.9h0M588.9 142.9h0M624.4 87.0h0M610.1 301.1h0M619.5 121.7h0M610.6 248.5h0M623.6 284.5h0M589.9 226.2h0M619.7 328.0h0M609.0 242.1h0M593.5 170.8h0M599.0 68.6h0M599.7 306.4h0M614.1 65.6h0M606.8 244.2h0M622.7 121.7h0M608.3 221.3h0M621.0 265.5h0M599.8 204.5h0M612.1 202.6h0M598.1 165.6h0M621.2 87.4h0M612.7 207.2h0M620.4 202.6h0M590.0 150.2h0M611.8 144.7h0M618.2 185.6h0M613.7 245.8h0M611.9 221.3h0M617.2 324.9h0M613.1 260.6h0M584.7 143.5h0M623.8 186.4h0M592.9 70.0h0M595.3 67.1h0M592.1 201.3h0M596.7 304.9h0M643.3 87.0h0M591.4 140.4h0"/><path stroke="#764ed0" d="M615.9 323.4h0M602.8 250.0h0M620.7 205.2h0M617.0 310.2h0M606.2 203.2h0M617.4 263.0h0M632.2 121.7h0M585.8 201.3h0M619.7 186.4h0M597.7 224.2h0M643.0 105.3h0M593.4 225.2h0M610.8 47.0h0M612.8 290.0h0M590.3 65.6h0M627.6 145.9h0M618.1 301.1h0M596.7 305.7h0M617.5 328.0h0M587.5 145.3h0M610.2 90.5h0M610.7 88.5h0M619.6 283.6h0M602.6 303.4h0M613.8 321.0h0M615.0 103.3h0M600.8 49.2h0M635.6 185.6h0M603.2 66.3h0M614.8 90.1h0M620.4 288.8h0M621.5 283.6h0M635.3 86.6h0M613.1 221.3h0M601.1 209.1h0M634.3 86.2h0"/><path stroke="#8244c7" d="M609.9 145.9h0M606.2 245.8h0M614.1 229.1h0M612.0 81.6h0M630.0 284.9h0M597.4 140.4h0M604.0 145.9h0M619.1 287.9h0M599.6 305.7h0M592.6 166.5h0M618.8 328.8h0M578.2 67.8h0M610.0 206.5h0M607.7 107.2h0M585.5 144.7h0M607.4 67.8h0M596.7 145.3h0M599.0 147.7h0M592.1 167.3h0M617.8 279.3h0M604.6 223.3h0M632.7 85.4h0M608.9 321.8h0M616.8 308.7h0M618.2 264.9h0M608.5 185.6h0M590.0 209.8h0M618.1 104.0h0M596.4 186.4h0M601.3 304.1h0M618.8 301.1h0M596.6 64.9h0M588.9 203.9h0M616.5 185.6h0M626.0 164.7h0M625.9 85.0h0M607.9 148.3h0M610.2 263.7h0M612.9 302.6h0M618.3 184.8h0M621.4 104.6h0M623.8 188.0h0M578.0 144.7h0M610.9 87.0h0M608.5 308.7h0M614.8 266.8h0M597.0 247.9h0M616.8 287.5h0M609.7 223.3h0M656.7 107.2h0M596.3 200.0h0M591.2 147.1h0M618.4 87.7h0M587.2 106.5h0M637.6 223.3h0M611.1 264.9h0M639.6 104.0h0M595.0 180.7h0M606.0 166.5h0M607.6 328.0h0M599.0 167.3h0M631.9 122.4h0M606.2 226.2h0"/><path stroke="#8d39be" d="M580.3 145.3h0M615.5 280.6h0M614.7 308.7h0M596.5 207.8h0M598.0 327.2h0M594.3 141.0h0M629.4 265.5h0M622.6 263.0h0M606.1 147.1h0M626.0 121.7h0M605.3 205.9h0M601.4 207.2h0M618.0 283.6h0M612.9 260.6h0M580.8 164.7h0M591.9 148.9h0M584.6 64.9h0M617.7 261.2h0M625.3 84.7h0M613.7 265.5h0M615.0 184.8h0M596.9 211.1h0M625.3 304.9h0M616.7 284.5h0M631.0 124.8h0M604.6 147.1h0M595.9 204.5h0M585.2 165.6h0M614.4 269.2h0M622.9 107.2h0M616.6 224.2h0M617.2 286.2h0M607.4 167.3h0M580.6 44.8h0M614.4 203.9h0M602.8 223.3h0M585.8 50.0h0M588.0 187.2h0M611.6 82.3h0M622.2 85.8h0M579.1 43.4h0M621.5 304.1h0M578.8 67.8h0M592.3 41.1h0M582.7 201.9h0"/><path stroke="#962db3" d="M612.4 327.2h0M605.4 109.1h0M597.2 149.6h0M588.4 170.8h0M608.9 324.1h0M599.3 225.2h0M618.2 124.8h0M613.8 127.1h0M608.0 304.9h0M595.2 141.0h0M622.7 223.3h0M630.3 127.8h0M572.4 67.8h0M591.5 160.4h0M602.1 304.1h0M600.8 162.1h0M612.5 207.8h0M639.0 123.2h0M613.0 109.8h0M616.7 208.5h0M582.6 67.1h0M625.9 282.8h0M608.9 86.2h0M593.6 65.6h0M605.9 307.2h0M638.4 224.2h0M596.6 140.4h0M617.3 224.2h0M623.8 283.6h0M619.8 290.0h0M592.9 181.5h0M614.5 304.1h0M577.6 164.7h0M566.6 67.8h0M635.2 124.8h0M615.6 206.5h0M615.5 88.9h0M600.2 241.6h0M597.5 243.7h0M609.0 323.4h0M618.6 111.1h0M620.9 85.0h0M587.8 61.9h0M618.6 281.5h0M624.6 223.3h0M614.9 299.6h0M628.1 102.7h0"/><path stroke="#a31daa" d="M600.3 206.5h0M587.6 183.2h0M622.7 85.4h0M609.6 264.3h0M615.5 91.2h0M617.2 108.5h0M635.2 125.5h0M590.3 183.2h0M618.8 307.2h0M623.0 285.3h0M623.7 304.1h0M615.1 181.5h0M614.3 204.5h0M636.2 128.6h0M630.1 121.7h0M600.9 304.9h0M581.4 64.9h0M597.5 147.7h0M631.1 126.3h0M619.0 285.8h0M638.6 128.6h0M603.3 327.2h0M595.7 68.6h0M635.2 103.3h0M580.0 67.1h0M608.2 245.3h0M613.9 89.3h0M618.5 87.4h0M622.0 88.9h0M591.4 204.5h0M626.1 227.1h0M602.3 205.2h0M598.9 163.0h0M589.5 147.1h0M609.4 188.0h0M619.2 324.9h0M615.6 308.7h0M596.6 324.1h0M603.2 325.7h0M607.0 330.3h0M616.5 88.9h0M586.3 143.5h0M607.6 190.5h0M580.8 67.8h0M637.6 104.6h0M578.1 147.1h0M622.7 224.2h0M622.6 226.2h0M633.8 104.6h0M631.5 131.7h0M588.9 70.8h0M611.5 184.0h0M580.0 163.0h0M619.7 224.2h0M620.8 86.2h0M624.4 306.4h0M622.2 307.2h0M587.0 162.1h0M613.1 269.9h0M618.7 287.5h0M627.4 128.6h0M585.0 162.1h0M612.2 287.5h0M601.9 227.1h0M618.8 284.0h0M618.8 265.5h0M609.2 122.4h0M590.9 49.2h0M615.4 307.2h0M610.4 124.0h0M586.4 47.8h0"/><path stroke="#b00fa5" d="M595.5 161.3h0M604.4 321.0h0M573.1 145.3h0M639.4 226.2h0M621.2 326.4h0M626.2 304.1h0M604.6 162.1h0M598.0 169.1h0M596.1 206.5h0M606.9 328.0h0M605.3 165.6h0M572.9 70.8h0M594.5 205.2h0M579.4 64.9h0M610.0 322.6h0M569.3 68.6h0M624.1 303.4h0M627.1 121.7h0M614.7 267.4h0M598.1 209.8h0M607.9 301.9h0M616.4 305.7h0M587.1 203.9h0M610.7 184.8h0M590.3 144.1h0M600.1 64.1h0M600.2 162.1h0M625.5 222.3h0M593.9 166.5h0M596.8 188.0h0M623.6 304.9h0M624.2 286.2h0M588.2 188.0h0M605.4 321.0h0M614.5 284.9h0M621.9 282.8h0M569.2 70.8h0M590.9 70.0h0M560.0 47.8h0M628.3 87.0h0M588.9 63.4h0M637.0 245.3h0M638.5 245.8h0M611.0 304.1h0M616.8 269.9h0M605.7 326.4h0M624.8 287.5h0M613.9 268.0h0M644.7 225.2h0"/><path stroke="#bc009f" d="M581.4 61.2h0M640.8 225.2h0M572.8 64.9h0M597.8 180.7h0M595.6 188.8h0M622.4 103.3h0M617.6 329.5h0M640.4 224.2h0M619.2 84.7h0M624.4 87.4h0M593.6 124.0h0M574.8 164.7h0M616.0 87.0h0M597.3 324.9h0M618.7 245.3h0M613.9 267.4h0M591.5 189.7h0M640.6 86.2h0M603.8 324.9h0M624.9 129.4h0M613.7 105.9h0M618.8 110.4h0M597.0 182.4h0M597.5 162.1h0M626.9 107.8h0M639.2 85.4h0M605.0 128.6h0M574.7 62.7h0M614.1 287.5h0M594.3 141.6h0M592.2 324.9h0M578.8 148.9h0M607.0 189.7h0M602.4 125.5h0M583.4 50.0h0M603.8 185.6h0M615.6 226.2h0M624.8 224.2h0M598.3 168.2h0M621.6 224.2h0M613.8 323.4h0M608.0 168.2h0M614.0 263.0h0M611.9 266.1h0M591.9 143.5h0M627.8 224.2h0M594.9 162.1h0M612.2 287.9h0M631.5 102.7h0M591.9 184.0h0M583.4 168.2h0M615.5 246.9h0M638.7 225.2h0M614.1 268.6h0M595.3 184.0h0M606.2 208.5h0M576.3 66.3h0M589.7 169.1h0M619.9 281.9h0M593.1 189.7h0M574.6 70.0h0M602.6 328.8h0M602.8 124.0h0M585.6 145.9h0M599.0 128.6h0M601.0 106.5h0M609.8 309.5h0M584.7 166.5h0M601.7 326.4h0M592.7 104.0h0M620.5 268.0h0"/><path stroke="#c70098" d="M636.7 108.5h0M593.0 127.8h0M622.6 110.4h0M599.9 327.2h0M619.2 322.6h0M584.1 205.2h0M596.8 127.8h0M582.0 63.4h0M625.1 167.3h0M592.3 124.8h0M623.4 110.4h0M593.2 106.5h0M625.1 47.0h0M629.1 304.9h0M623.5 226.2h0M600.1 167.3h0M603.0 167.3h0M628.8 305.7h0M584.3 184.8h0M607.5 183.2h0M583.9 204.5h0M589.8 64.1h0M583.6 205.9h0M644.9 245.3h0M578.9 71.5h0M581.7 207.2h0M610.4 329.5h0M612.7 262.4h0M617.0 222.3h0M592.5 163.9h0M597.5 322.6h0M605.0 220.4h0M640.0 44.8h0M592.5 202.6h0M599.4 169.1h0M624.4 164.7h0M607.6 143.5h0M624.7 124.8h0M582.0 144.1h0M605.2 103.3h0M608.7 327.2h0M560.1 67.1h0M648.6 105.3h0M615.9 327.2h0M575.6 165.6h0M614.7 266.1h0M617.2 106.5h0M617.6 307.2h0M609.3 225.2h0M613.0 284.0h0M573.6 64.1h0M604.1 181.5h0M583.6 61.9h0M624.4 266.1h0M593.7 163.9h0M625.1 102.0h0M621.9 109.8h0M629.7 86.6h0M616.8 87.7h0M628.3 85.8h0M584.1 63.4h0M585.0 68.6h0M630.3 304.9h0M605.4 202.6h0M564.2 64.1h0"/><path stroke="#d10091" d="M640.0 227.1h0M600.3 166.5h0M603.1 48.5h0M624.0 223.3h0M568.6 127.1h0M630.0 103.3h0M596.5 324.9h0M583.8 161.3h0M609.6 127.8h0M592.1 127.1h0M611.0 163.9h0M631.6 227.1h0M624.6 245.3h0M618.0 321.0h0M581.5 163.9h0M579.0 144.1h0M642.0 44.1h0M606.3 307.9h0M599.5 183.2h0M621.9 264.3h0M620.9 222.3h0M617.6 164.7h0M618.9 87.0h0M609.4 324.9h0M598.7 105.3h0M598.5 187.2h0M616.2 285.8h0M614.3 309.5h0M603.2 183.2h0M621.8 245.3h0M608.7 187.2h0M630.3 86.6h0M603.9 327.2h0M605.3 126.3h0M597.4 188.8h0M595.0 169.1h0M598.7 206.5h0M599.6 145.3h0M582.4 62.7h0M660.7 47.8h0M601.0 125.5h0M603.2 324.1h0M615.2 319.5h0M616.5 86.2h0M585.1 184.8h0M601.5 324.1h0M584.1 186.4h0M631.0 224.2h0M612.2 189.7h0M631.0 105.9h0M570.3 66.3h0M616.7 109.1h0M626.1 307.2h0M651.2 45.6h0"/><path stroke="#db008a" d="M602.1 167.3h0M574.7 167.3h0M625.3 303.4h0M605.7 145.3h0M602.5 67.8h0M565.4 165.6h0M595.5 206.5h0M590.8 189.7h0M588.2 183.2h0M607.0 320.3h0M608.8 228.1h0M601.3 108.5h0M614.1 288.3h0M608.7 287.5h0M614.5 226.2h0M642.3 44.8h0M585.9 61.9h0M603.5 105.3h0M616.7 300.3h0M578.1 148.3h0M605.6 180.7h0M599.8 41.9h0M593.4 167.3h0M573.7 63.4h0M641.1 129.4h0M585.4 209.8h0M597.3 163.0h0M596.2 169.1h0M612.3 307.2h0M587.9 127.1h0M639.5 107.8h0M575.0 163.9h0M569.8 67.8h0M580.3 69.3h0M589.1 166.5h0M578.4 68.6h0M636.9 224.2h0M632.3 123.2h0M640.9 105.9h0"/><path stroke="#f30070" d="M570.2 125.5h0M563.7 145.9h0M590.9 182.4h0M620.0 91.2h0M608.7 287.0h0M565.3 66.3h0M616.1 322.6h0M565.6 64.9h0M644.0 324.9h0M607.3 329.5h0M625.3 165.6h0M608.3 325.7h0M528.8 66.3h0M595.3 126.3h0M619.3 281.0h0M581.5 183.2h0M653.9 264.9h0M636.3 324.9h0M628.4 128.6h0M583.1 285.3h0M608.4 85.0h0M595.4 325.7h0M622.2 82.3h0M652.6 165.6h0M509.5 47.0h0"/><path stroke="#f80067" d="M549.6 66.3h0M608.1 124.8h0M595.5 327.2h0M605.2 301.9h0M614.8 85.8h0M590.9 126.3h0M537.7 44.1h0M618.4 328.0h0M564.7 105.3h0M572.1 185.6h0M576.8 186.4h0M559.7 45.6h0M551.7 67.1h0M589.0 186.4h0M547.3 45.6h0M591.4 284.9h0M635.2 304.9h0M575.2 145.9h0M577.7 185.6h0M473.6 47.0h0M574.7 169.1h0M610.0 266.1h0M610.0 147.7h0"/><path stroke="#fd005f" d="M617.7 91.6h0M622.3 301.1h0M564.5 64.9h0M597.1 284.5h0M612.5 49.2h0M602.5 107.8h0M509.7 45.6h0M539.9 66.3h0M518.5 45.6h0M546.4 105.9h0M583.1 124.8h0M580.2 47.0h0M613.5 46.3h0M619.9 164.7h0M541.5 126.3h0M621.7 285.8h0M613.0 165.6h0M586.1 284.5h0M604.5 323.4h0M558.7 47.0h0M551.5 46.3h0M648.7 264.9h0M665.7 46.3h0M557.4 127.8h0M604.7 126.3h0M564.2 47.0h0M565.3 46.3h0M593.7 284.5h0"/><path stroke="#ff0056" d="M568.3 185.6h0M538.2 66.3h0M619.9 82.7h0M593.1 64.9h0M533.8 47.0h0M567.0 47.0h0M637.2 165.6h0M585.0 284.9h0M618.8 287.0h0M604.9 85.4h0M562.8 45.6h0M599.3 185.6h0M554.5 284.9h0M595.0 285.3h0M577.0 184.8h0M638.2 48.5h0M615.1 284.9h0M583.1 185.6h0M485.2 46.3h0M609.8 107.8h0M544.4 47.0h0M503.7 47.0h0M587.8 188.0h0M617.9 83.9h0M581.8 184.8h0M599.4 127.8h0M548.4 48.5h0M620.7 263.0h0M549.1 67.1h0M506.5 46.3h0M535.2 47.8h0M648.3 166.5h0M560.7 145.3h0M490.6 47.8h0M554.6 66.3h0M634.5 324.9h0"/><path stroke="#0088fa" d="M611.1 83.1h0M596.6 229.1h0M548.5 86.2h0M618.2 221.3h0M597.9 241.1h0M608.0 266.8h0M608.4 145.9h0M605.2 104.0h0M608.9 47.0h0M586.9 305.7h0M570.2 105.3h0M615.9 223.3h0M613.8 142.9h0M557.2 127.1h0M593.4 86.2h0M618.3 321.8h0M619.0 163.0h0M561.2 125.5h0M610.9 244.2h0M616.2 86.6h0M593.2 222.3h0M623.3 47.0h0M608.8 147.1h0M600.0 225.2h0M592.2 263.7h0M619.3 145.3h0M600.8 284.9h0M624.7 44.1h0M645.3 146.5h0M626.8 144.7h0M528.2 86.6h0M599.3 268.6h0M611.2 223.3h0M586.4 224.2h0M597.6 127.8h0M586.3 264.9h0M645.4 46.3h0M618.8 321.0h0M606.0 263.0h0M608.8 246.9h0M589.1 266.1h0M597.2 249.0h0M545.6 86.2h0M617.7 69.3h0M598.6 241.6h0M591.3 245.8h0M602.0 225.2h0M623.8 323.4h0M616.7 83.5h0M605.2 284.5h0M617.7 203.9h0M637.8 205.9h0M606.3 64.9h0M601.4 268.6h0M547.6 105.9h0M590.8 246.4h0M587.4 47.8h0M609.1 68.6h0M622.2 204.5h0M566.8 127.1h0M643.0 205.2h0M605.4 266.8h0M629.2 145.3h0M613.1 229.1h0M620.3 226.2h0M606.5 305.7h0M620.3 164.7h0M606.7 245.8h0M593.7 304.9h0M592.4 243.2h0M629.5 64.1h0M607.8 86.6h0M653.2 47.0h0M612.4 205.2h0M622.5 326.4h0M619.4 108.5h0M529.4 105.9h0M594.9 262.4h0M610.0 246.4h0M618.9 323.4h0M625.9 66.3h0M590.2 86.6h0M537.4 127.1h0M624.1 104.6h0M618.3 229.1h0M618.3 46.3h0M612.6 246.4h0M533.1 105.3h0M607.3 304.9h0M628.2 67.8h0M572.5 107.2h0M600.8 304.1h0M585.7 44.8h0M655.3 245.8h0M573.3 105.3h0M556.2 105.9h0M601.2 265.5h0M578.3 226.2h0M594.1 244.2h0M596.7 47.8h0M623.3 207.2h0M624.4 144.7h0M629.4 67.8h0M580.7 225.2h0M589.9 47.8h0M624.6 285.8h0M652.9 245.8h0M608.2 307.2h0M614.5 44.8h0M652.3 146.5h0M629.3 121.7h0M634.2 244.8h0M615.1 201.3h0M635.7 145.9h0M596.7 263.7h0M587.6 227.1h0M587.6 126.3h0M581.2 304.9h0M603.8 242.7h0M584.8 226.2h0M640.6 48.5h0M627.0 67.8h0M556.1 86.2h0M589.2 245.8h0M685.5 205.2h0M602.5 269.2h0M601.5 241.1h0M648.8 185.6h0M561.1 86.2h0M652.9 205.2h0M584.3 108.5h0M664.5 66.3h0M539.8 106.5h0M605.6 148.9h0M603.0 47.8h0M601.5 44.1h0M690.5 145.9h0M661.5 45.6h0M598.2 223.3h0M615.1 90.1h0M587.7 44.8h0M598.6 261.2h0M625.2 324.9h0M606.1 246.4h0M624.1 65.6h0M603.4 224.2h0M638.5 65.6h0M566.1 86.2h0M622.0 67.1h0M622.7 324.9h0M612.9 146.5h0M531.9 106.5h0M607.2 85.0h0"/><path stroke="#0082f8" d="M596.0 267.4h0M589.9 245.3h0M595.5 304.1h0M608.1 205.2h0M591.5 245.3h0M554.0 126.3h0M603.3 243.7h0M600.7 244.2h0M593.4 43.4h0M624.4 144.7h0M626.3 203.9h0M618.8 203.2h0M540.3 86.6h0M599.1 86.2h0M621.8 167.3h0M604.7 225.2h0M627.0 285.8h0M590.2 265.5h0M632.3 145.3h0M599.0 265.5h0M553.7 106.5h0M605.7 246.9h0M618.3 44.8h0M647.8 204.5h0M624.5 326.4h0M605.3 244.8h0M533.3 86.6h0M650.7 245.8h0M608.2 47.8h0M610.3 243.2h0M573.5 86.2h0M614.1 47.0h0M639.9 187.2h0M602.2 242.1h0M532.4 126.3h0M661.1 67.1h0M602.1 249.5h0M591.6 86.6h0M601.3 250.0h0M602.2 145.3h0M602.5 247.9h0M610.9 245.3h0M586.3 245.8h0M630.8 65.6h0M592.6 246.4h0M656.0 66.3h0M607.8 246.9h0M641.0 47.0h0M639.8 67.1h0M594.4 244.8h0M608.7 244.8h0M630.7 184.8h0M638.4 187.2h0M617.8 324.1h0M618.7 324.1h0M607.4 264.9h0M597.8 225.2h0M599.9 247.4h0M652.9 106.5h0M590.4 244.2h0M632.6 69.3h0M621.0 324.9h0M611.2 148.9h0M538.0 106.5h0M576.0 105.9h0M600.9 263.7h0M606.5 241.6h0M668.0 205.2h0M553.9 86.2h0M650.0 244.8h0M609.8 222.3h0M633.8 65.6h0M680.6 45.6h0M619.9 280.2h0M602.5 244.8h0M607.1 286.6h0M633.0 185.6h0M596.5 242.1h0M583.4 127.1h0M601.9 284.9h0M625.0 203.9h0M570.9 127.1h0M578.7 107.2h0M594.2 245.8h0M593.7 244.8h0M524.7 86.2h0M549.9 125.5h0M587.6 304.1h0M624.1 165.6h0M592.6 266.1h0M595.6 264.9h0M616.0 125.5h0M622.6 245.8h0M600.6 241.6h0M624.1 204.5h0M627.4 284.5h0M604.7 65.6h0M626.4 145.9h0M595.1 265.5h0M643.4 67.8h0M588.3 224.2h0M600.4 241.1h0M601.0 269.2h0M615.5 107.8h0M546.5 126.3h0M621.1 163.9h0M605.7 302.6h0M620.0 222.3h0M601.2 228.1h0M619.4 48.5h0M670.3 145.9h0M618.0 320.3h0M599.9 223.3h0M549.3 124.8h0M557.6 125.5h0M597.5 265.5h0M600.6 268.0h0M657.9 205.2h0M648.5 65.6h0M551.1 105.9h0M636.1 205.9h0M551.0 85.8h0M618.6 65.6h0M592.4 243.7h0M607.9 242.7h0M612.7 282.8h0M649.1 145.9h0M619.1 47.0h0M602.3 262.4h0M616.1 101.4h0M592.7 245.8h0M696.4 145.9h0M620.2 65.6h0"/><path stroke="#3968e7" d="M619.7 289.6h0M596.3 304.1h0M609.3 44.1h0M613.2 88.5h0M604.7 240.6h0M617.6 320.3h0M613.1 88.9h0M614.6 205.2h0M602.3 147.7h0M615.5 325.7h0"/><path stroke="#575fdf" d="M616.5 122.4h0M604.3 163.0h0M597.7 245.8h0M603.6 203.9h0M631.5 184.8h0M614.9 85.0h0M607.7 223.3h0M585.8 43.4h0M610.6 83.1h0M575.4 44.8h0M619.0 323.4h0M598.7 304.1h0M616.9 268.6h0M621.5 184.0h0M580.7 206.5h0M604.3 248.5h0M617.9 184.8h0M624.6 64.1h0M598.5 306.4h0M617.9 327.2h0M596.9 142.9h0M598.5 162.1h0M616.4 188.8h0M612.7 320.3h0M622.6 123.2h0M645.7 86.6h0M627.1 185.6h0M593.9 205.9h0M620.5 207.2h0M608.6 206.5h0M612.1 183.2h0M615.1 224.2h0M601.0 250.0h0M604.2 203.2h0M629.6 264.3h0M625.4 265.5h0M610.2 247.9h0M607.2 85.4h0M592.1 44.8h0M586.5 225.2h0M588.2 142.2h0M602.7 261.8h0M639.0 86.2h0M620.4 84.3h0M599.3 187.2h0M618.1 227.1h0M605.6 163.0h0M595.5 208.5h0M615.1 330.3h0M610.0 201.9h0M603.7 64.9h0M605.8 284.0h0M611.5 146.5h0M604.8 148.3h0M616.4 330.3h0M584.0 207.2h0M612.7 243.2h0M593.5 50.0h0M592.0 66.3h0M618.0 288.3h0"/><path stroke="#6857d8" d="M596.8 67.8h0M617.6 321.8h0M612.9 304.9h0M609.2 203.2h0M575.2 63.4h0M599.0 304.9h0M602.3 180.7h0M598.8 201.3h0M615.8 279.3h0M609.0 241.1h0M601.0 249.0h0M616.1 82.3h0M628.3 130.9h0M604.7 305.7h0M629.1 127.8h0M600.9 147.7h0M608.3 286.6h0M611.5 124.8h0M598.9 105.3h0M641.9 124.8h0M635.0 85.8h0M597.5 41.1h0M617.4 321.0h0M598.2 304.9h0M589.0 167.3h0M616.6 124.8h0M621.8 203.9h0M608.6 144.1h0M593.6 207.8h0M585.7 201.9h0M575.0 67.8h0M628.2 129.4h0M581.0 224.2h0M616.3 168.2h0M616.5 328.8h0M580.4 47.8h0M604.6 144.7h0M607.9 206.5h0M594.6 206.5h0M609.2 89.7h0M606.8 203.9h0M617.6 328.8h0M617.5 303.4h0"/><path stroke="#764ed0" d="M620.4 205.2h0M638.8 85.8h0M602.6 305.7h0M602.4 223.3h0M617.7 227.1h0M593.7 68.6h0M628.6 120.9h0M602.4 163.0h0M626.5 87.4h0M575.5 163.0h0M633.9 187.2h0M618.3 304.1h0M611.7 303.4h0M619.6 303.4h0M614.4 328.8h0M622.5 67.8h0M595.1 64.1h0M606.4 305.7h0M608.3 85.4h0M611.3 227.1h0M613.7 307.9h0M599.6 285.3h0M605.4 307.9h0M665.9 47.8h0M587.9 64.1h0M610.0 208.5h0M626.5 130.2h0M599.0 168.2h0M575.4 164.7h0M611.7 265.5h0M607.9 245.8h0M612.7 310.2h0M590.5 44.8h0M603.1 50.0h0M623.3 307.2h0M620.0 284.0h0M602.5 68.6h0M592.9 67.1h0M613.2 222.3h0M612.0 50.0h0M605.5 221.3h0M586.0 165.6h0M623.8 185.6h0M613.6 81.6h0"/><path stroke="#8244c7" d="M580.7 147.7h0M613.4 266.8h0M614.2 266.8h0M612.4 268.0h0M622.5 146.5h0M602.5 307.9h0M596.0 205.9h0M640.3 124.8h0M588.0 167.3h0M650.2 246.4h0M587.3 70.0h0M636.8 129.4h0M592.0 152.0h0M613.7 327.2h0M603.4 207.2h0M618.6 85.4h0M593.4 146.5h0M620.2 282.8h0M616.5 324.1h0M606.8 169.9h0M623.7 120.9h0M619.1 228.1h0M601.5 245.3h0M605.8 305.7h0M597.7 208.5h0M588.1 143.5h0M618.9 308.7h0M592.6 203.2h0M644.9 106.5h0M597.6 203.2h0M621.1 284.9h0M629.6 104.0h0M613.7 263.7h0M620.1 302.6h0M592.1 44.1h0M595.6 247.4h0M598.8 142.2h0M644.9 87.0h0M636.5 245.8h0M615.4 307.2h0M619.6 82.3h0M613.3 208.5h0M611.5 169.1h0M619.3 281.5h0M612.0 281.5h0M617.6 223.3h0M590.9 223.3h0M601.9 306.4h0M583.3 162.1h0M584.5 62.7h0M604.5 227.1h0M624.3 282.8h0M606.7 301.9h0"/><path stroke="#8d39be" d="M616.1 188.0h0M597.9 68.6h0M596.7 148.3h0M606.2 45.6h0M604.7 246.4h0M628.6 225.2h0M613.0 104.6h0M622.7 306.4h0M604.3 323.4h0M581.6 205.9h0M628.4 110.4h0M598.9 208.5h0M598.8 188.8h0M614.1 282.3h0M616.6 288.3h0M580.3 163.0h0M611.6 243.2h0M609.1 164.7h0M616.3 303.4h0M598.8 209.8h0M588.9 188.8h0M586.4 63.4h0M587.3 124.0h0M614.4 303.4h0M592.0 70.8h0M612.4 321.0h0M599.9 323.4h0M614.7 130.2h0M629.6 123.2h0M595.0 147.7h0M582.1 164.7h0M617.2 207.8h0M588.8 144.7h0"/><path stroke="#962db3" d="M603.3 148.9h0M609.7 286.2h0M617.4 287.0h0M614.4 88.9h0M598.3 202.6h0M594.6 324.9h0M609.2 262.4h0M628.0 126.3h0M609.1 67.8h0M607.2 282.3h0M591.4 67.8h0M609.2 302.6h0M643.9 128.6h0M608.3 321.8h0M618.8 300.3h0M612.2 166.5h0M596.9 284.9h0M611.1 230.0h0M623.5 306.4h0M609.6 265.5h0M604.0 284.0h0M595.2 151.4h0M610.5 305.7h0M620.6 281.9h0M611.9 188.8h0M629.7 303.4h0M638.0 124.0h0M625.5 306.4h0M618.8 281.0h0M598.0 247.4h0M611.6 126.3h0M583.7 149.6h0M615.8 282.3h0M629.0 130.9h0M594.6 207.2h0M603.0 304.1h0M607.3 107.8h0M646.2 127.1h0M613.2 306.4h0M605.0 189.7h0M609.7 148.3h0M602.5 143.5h0M618.6 308.7h0M616.9 264.3h0M613.3 304.1h0M611.2 301.9h0M584.0 70.0h0M621.1 85.8h0M592.3 209.1h0M609.6 328.8h0M632.7 264.9h0"/><path stroke="#a31daa" d="M570.3 69.3h0M607.7 146.5h0M605.0 185.6h0M624.1 306.4h0M574.2 68.6h0M615.3 102.0h0M608.4 324.1h0M582.4 167.3h0M629.6 87.0h0M621.2 222.3h0M601.2 205.2h0M626.9 124.0h0M645.1 125.5h0M612.1 306.4h0M613.4 283.2h0M607.3 128.6h0M591.2 144.1h0M612.8 300.3h0M592.6 142.9h0M625.5 122.4h0M614.9 281.5h0M602.2 328.0h0M584.2 148.3h0M618.3 281.9h0M601.4 165.6h0M616.2 326.4h0M588.2 168.2h0M618.3 280.6h0M606.4 65.6h0M611.5 268.0h0M582.6 163.0h0M584.4 146.5h0M588.5 206.5h0M596.2 242.7h0M606.0 328.0h0M614.0 247.4h0M622.1 183.2h0M644.4 127.1h0M642.6 125.5h0M615.0 182.4h0M598.4 144.1h0M600.1 164.7h0M603.6 189.7h0M610.6 306.4h0M609.4 184.8h0M634.2 130.9h0M611.5 329.5h0M607.2 305.7h0M626.6 287.0h0M611.8 229.1h0M605.0 226.2h0M587.4 147.1h0M601.4 229.1h0M595.1 169.9h0M605.7 149.6h0M610.8 182.4h0M640.7 122.4h0M638.3 130.2h0M623.1 287.9h0M583.3 142.2h0"/><path stroke="#b00fa5" d="M610.5 307.9h0M604.2 87.7h0M619.9 284.5h0M569.4 166.5h0M607.5 321.8h0M632.2 105.9h0M593.6 200.6h0M623.9 130.2h0M600.0 304.1h0M598.7 325.7h0M629.2 304.1h0M572.9 66.3h0M603.8 142.9h0M608.2 328.0h0M608.7 207.2h0M608.0 323.4h0M610.0 326.4h0M594.0 167.3h0M621.9 286.6h0M620.5 223.3h0M581.9 71.5h0M616.7 280.2h0M605.2 168.2h0M582.4 165.6h0M579.3 70.0h0M643.4 225.2h0M613.4 301.9h0M622.0 304.9h0M586.9 167.3h0M586.1 203.2h0M612.3 323.4h0M619.3 123.2h0M663.6 105.9h0M625.3 307.2h0M604.2 106.5h0M611.4 127.8h0M647.4 106.5h0M593.6 188.8h0M587.7 72.2h0M621.1 226.2h0M603.7 304.9h0M610.6 263.0h0"/><path stroke="#bc009f" d="M616.1 222.3h0M606.8 181.5h0M583.7 107.8h0M596.3 104.0h0M617.5 305.7h0M618.3 225.2h0M633.8 226.2h0M599.3 107.2h0M614.6 220.4h0M571.2 106.5h0M603.2 164.7h0M598.6 124.0h0M640.7 245.8h0M576.1 44.8h0M619.1 89.3h0M584.1 148.9h0M562.3 67.8h0M605.4 186.4h0M620.7 85.4h0M593.8 185.6h0M581.2 127.1h0M582.0 206.5h0M609.2 179.9h0M622.9 304.9h0M560.3 65.6h0M610.7 166.5h0M622.0 224.2h0M609.1 322.6h0M642.5 265.5h0M609.5 167.3h0M582.6 64.1h0M602.6 321.8h0M617.0 269.2h0M616.1 308.7h0M598.5 305.7h0M595.7 124.8h0M616.9 89.3h0M626.8 128.6h0M617.6 268.6h0M594.0 210.4h0M641.8 226.2h0M628.9 102.0h0M619.9 307.2h0M616.5 90.8h0M610.8 190.5h0M621.0 287.0h0M626.3 167.3h0M638.2 127.1h0M610.1 263.0h0M590.5 207.8h0M577.8 205.9h0M599.0 141.6h0M598.6 164.7h0M619.8 245.8h0M630.3 228.1h0M590.2 70.0h0M600.8 163.0h0M630.2 47.0h0M601.7 104.0h0M625.0 286.6h0M625.4 285.8h0M612.2 326.4h0M592.6 186.4h0M617.5 328.8h0M617.0 82.7h0M627.1 110.4h0M645.1 105.3h0M578.2 146.5h0M639.2 86.6h0M590.8 185.6h0M573.3 146.5h0M611.0 222.3h0M648.3 47.0h0M623.2 109.8h0M613.9 329.5h0M610.7 287.5h0M623.6 265.5h0"/><path stroke="#c70098" d="M601.0 322.6h0M614.0 286.6h0M613.6 88.1h0M614.3 286.2h0M619.1 264.3h0M599.0 189.7h0M623.9 164.7h0M600.6 323.4h0M644.0 225.2h0M591.2 127.8h0M591.8 203.9h0M602.0 189.7h0M568.6 106.5h0M609.3 227.1h0M583.5 163.0h0M617.6 166.5h0M624.6 124.0h0M628.8 129.4h0M610.2 170.8h0M614.2 48.5h0M588.3 148.9h0M585.5 61.9h0M628.0 304.1h0M624.0 283.2h0M597.1 323.4h0M610.2 322.6h0M586.6 168.2h0M590.3 164.7h0M617.9 245.3h0M579.9 164.7h0M573.9 127.8h0M611.1 326.4h0M631.0 124.0h0M613.9 306.4h0M582.9 207.8h0M613.6 85.0h0M626.5 303.4h0M615.0 288.8h0M613.4 85.8h0M599.5 143.5h0M576.5 68.6h0M594.9 188.8h0M620.7 308.7h0M586.9 105.9h0M600.3 326.4h0M576.6 147.1h0M572.2 44.1h0M605.9 184.0h0M627.5 103.3h0M584.6 105.3h0M616.3 282.8h0M607.1 164.7h0M622.8 82.7h0M575.2 64.9h0M601.3 323.4h0M602.1 163.9h0M614.8 47.8h0M604.2 107.8h0M595.1 182.4h0M618.5 304.9h0M582.2 66.3h0M615.8 328.0h0M570.1 65.6h0M594.1 183.2h0M563.4 69.3h0M601.9 164.7h0M628.5 106.5h0M634.6 87.0h0M622.2 223.3h0M627.4 108.5h0M596.5 107.2h0M604.4 108.5h0"/><path stroke="#d10091" d="M596.0 147.7h0M593.8 326.4h0M606.1 124.8h0M621.3 284.0h0M604.1 322.6h0M597.9 166.5h0M604.7 207.8h0M631.3 304.9h0M610.7 186.4h0M592.2 187.2h0M637.3 86.6h0M609.5 301.9h0M662.0 105.9h0M600.7 227.1h0M590.2 204.5h0M594.1 142.9h0M620.7 110.4h0M600.7 183.2h0M619.1 303.4h0M605.3 307.2h0M600.4 184.8h0M612.8 168.2h0M589.8 125.5h0M590.5 206.5h0M619.9 83.1h0M587.0 127.1h0M593.7 150.2h0M580.0 61.2h0M635.7 226.2h0M591.2 68.6h0M630.0 123.2h0M623.5 86.2h0M616.8 85.0h0M606.4 185.6h0M634.8 105.3h0M611.4 327.2h0M588.0 145.3h0M623.1 267.4h0M601.9 161.3h0M619.3 288.3h0M616.3 187.2h0M589.5 62.7h0M593.1 164.7h0M586.2 61.2h0M594.4 145.3h0M606.0 183.2h0M604.5 329.5h0M580.5 144.1h0M608.8 266.8h0M596.2 126.3h0M584.7 187.2h0M599.0 325.7h0M635.8 107.2h0M639.8 46.3h0M570.1 64.9h0M609.7 163.9h0M607.1 180.7h0M617.2 285.8h0M608.3 264.3h0M594.4 104.0h0"/><path stroke="#db008a" d="M615.5 246.4h0M608.0 185.6h0M575.4 162.1h0M603.8 129.4h0M573.7 127.1h0M585.2 163.0h0M605.2 185.6h0M582.0 203.9h0M638.4 44.8h0M596.2 48.5h0M604.7 324.1h0M592.2 168.2h0M647.4 225.2h0M616.7 286.6h0M564.4 65.6h0M588.4 169.9h0M595.3 188.0h0M659.8 48.5h0M588.0 160.4h0M598.5 145.9h0M616.0 284.0h0M609.5 323.4h0M604.5 169.9h0M589.9 165.6h0M607.2 203.9h0M604.4 307.2h0M607.8 123.2h0M614.2 163.9h0M599.3 322.6h0M616.5 283.6h0M601.9 86.2h0M591.5 324.9h0M641.2 245.3h0M608.3 283.6h0M595.2 124.0h0M624.1 111.1h0M610.7 108.5h0M603.5 328.0h0M576.8 65.6h0M613.8 283.2h0M616.0 288.3h0M615.4 227.1h0M569.7 205.2h0M631.2 306.4h0M624.2 107.8h0M625.6 283.6h0M634.2 121.7h0"/><path stroke="#f30070" d="M578.4 69.3h0M613.1 283.6h0M600.0 328.0h0M581.3 127.8h0M570.9 47.8h0M622.9 167.3h0M620.6 264.3h0M630.2 325.7h0M530.5 44.8h0M557.4 126.3h0M579.8 203.9h0M535.7 46.3h0M617.0 46.3h0M572.7 284.9h0M584.9 209.1h0M511.7 45.6h0M596.4 188.0h0M619.0 263.7h0M565.7 145.9h0M538.8 44.8h0M490.7 46.3h0M602.8 322.6h0M578.0 184.8h0M567.4 145.9h0"/><path stroke="#f80067" d="M564.1 47.8h0M601.1 128.6h0M623.7 266.1h0M573.0 186.4h0M602.9 128.6h0M604.1 188.8h0M564.1 126.3h0M573.8 187.2h0M570.7 205.2h0M630.6 44.1h0M642.7 166.5h0M545.3 48.5h0M591.6 285.3h0M540.5 46.3h0M535.7 127.1h0M618.0 81.9h0M562.9 205.2h0M580.8 185.6h0M610.0 83.5h0"/><path stroke="#fd005f" d="M511.1 46.3h0M524.3 47.8h0M575.7 127.1h0M613.1 268.0h0M599.7 186.4h0M546.9 44.8h0M524.3 47.0h0M575.7 285.3h0M616.2 126.3h0M631.2 226.2h0M483.0 45.6h0M555.2 127.8h0M579.8 168.2h0M646.1 245.3h0M561.7 43.4h0M615.2 279.3h0M529.1 47.0h0M655.9 46.3h0M599.0 326.4h0M532.6 44.8h0M619.6 266.8h0M620.8 130.2h0M546.2 49.2h0M540.5 127.1h0M595.5 323.4h0M593.0 324.9h0M578.3 124.0h0M542.9 44.8h0"/><path stroke="#ff0056" d="M534.9 47.0h0M571.1 146.5h0M606.8 124.8h0M577.3 284.9h0M595.5 107.2h0M583.6 142.9h0M633.3 324.9h0M576.9 205.2h0M613.6 84.3h0M515.2 47.8h0M544.2 105.9h0M646.5 86.2h0M519.6 45.6h0M589.0 127.1h0M581.5 187.2h0M651.0 165.6h0M596.9 325.7h0M580.1 126.3h0M582.6 188.8h0M579.6 145.9h0M635.4 245.8h0M555.7 146.5h0"/><path stroke="#0088fa" d="M598.2 246.9h0M668.5 145.9h0M630.3 147.1h0M611.2 304.9h0M616.0 148.3h0M578.2 126.3h0M601.3 265.5h0M581.9 225.2h0M609.3 224.2h0M595.7 246.9h0M615.2 143.5h0M591.9 228.1h0M640.9 204.5h0M648.9 106.5h0M620.1 44.1h0M618.7 263.7h0M582.4 225.2h0M572.5 305.7h0M607.2 287.5h0M590.6 305.7h0M608.0 144.7h0M633.6 204.5h0M622.7 205.2h0M607.9 263.7h0M654.3 205.2h0M603.1 240.6h0M598.3 228.1h0M572.0 305.7h0M540.0 87.0h0M603.8 229.1h0M608.5 241.6h0M606.6 264.9h0M635.2 145.3h0M596.6 262.4h0M595.3 305.7h0M607.2 250.0h0M622.2 66.3h0M508.0 126.3h0M630.6 146.5h0M597.4 305.7h0M595.8 107.8h0M610.1 228.1h0M591.5 226.2h0M606.7 247.4h0M613.0 147.7h0M625.3 146.5h0M591.9 246.4h0M674.0 66.3h0M698.3 145.9h0M551.3 87.0h0M613.3 208.5h0M601.8 225.2h0M595.4 304.9h0M663.0 67.1h0M593.7 246.4h0M638.4 204.5h0M597.0 261.8h0M586.7 226.2h0M591.4 127.1h0M592.6 247.4h0M600.1 268.0h0M626.6 187.2h0M603.4 262.4h0M616.9 67.1h0M602.1 261.2h0M641.8 206.5h0M611.2 244.8h0M579.9 265.5h0M596.7 268.0h0M612.8 145.3h0M627.4 284.9h0M601.6 41.9h0M603.8 262.4h0M602.5 145.3h0M612.4 87.0h0M548.5 87.0h0M610.3 244.8h0M634.7 186.4h0M604.5 264.3h0M645.4 186.4h0M601.6 246.4h0M611.1 247.9h0M583.4 226.2h0M621.5 203.2h0M600.1 244.2h0M627.3 264.3h0M629.3 164.7h0M580.5 225.2h0M596.5 51.5h0M652.8 67.1h0M644.1 204.5h0M604.1 245.3h0M582.6 224.2h0M609.2 245.3h0M645.6 145.9h0M597.0 266.8h0M642.8 145.9h0M624.2 145.3h0M620.6 46.3h0M561.0 106.5h0M617.7 168.2h0M650.2 185.6h0M603.2 244.2h0M609.0 248.5h0M628.7 64.9h0M607.4 263.7h0M601.8 264.9h0M582.8 105.3h0M612.9 263.7h0M602.9 263.7h0M624.4 207.8h0M597.8 268.0h0M621.3 89.3h0M596.3 222.3h0M610.5 47.8h0M622.7 84.7h0M591.7 244.8h0M575.6 105.3h0M602.8 249.0h0M588.0 107.2h0M540.7 105.3h0M578.1 48.5h0M589.6 42.6h0M650.6 65.6h0M592.5 86.2h0M658.7 147.1h0M621.9 67.8h0M582.3 223.3h0M629.6 68.6h0M602.6 146.5h0M604.3 261.8h0M606.6 241.1h0M573.7 304.9h0M624.7 187.2h0M618.9 207.2h0M584.7 47.8h0M599.7 250.0h0M619.7 64.9h0M594.2 263.7h0M587.5 306.4h0M624.6 204.5h0M631.5 184.0h0"/><path stroke="#0082f8" d="M624.1 322.6h0M582.6 106.5h0M611.6 64.1h0M593.1 223.3h0M613.3 330.3h0M619.8 81.2h0M621.2 207.8h0M595.0 69.3h0M599.6 242.7h0M534.0 87.0h0M607.0 243.7h0M542.2 86.6h0M577.8 127.8h0M597.5 264.3h0M591.0 105.3h0M612.6 286.2h0M623.6 45.6h0M596.4 247.9h0M612.7 67.8h0M609.7 82.3h0M584.2 227.1h0M598.4 265.5h0M614.5 205.9h0M605.7 245.3h0M644.0 106.5h0M601.8 240.6h0M634.5 67.1h0M592.7 223.3h0M633.6 48.5h0M630.7 145.3h0M601.7 263.7h0M604.6 247.4h0M607.2 49.2h0M623.7 203.2h0M525.8 85.8h0M599.9 262.4h0M591.4 266.1h0M648.6 205.2h0M627.2 130.2h0M626.9 63.4h0M597.3 150.2h0M591.4 247.4h0M616.0 89.3h0M650.9 185.6h0M615.2 147.1h0M656.0 145.9h0M592.7 263.0h0M542.4 87.4h0M618.2 328.0h0M596.6 223.3h0M600.7 127.1h0M601.9 249.0h0M660.8 66.3h0M539.7 86.2h0M641.9 185.6h0M643.5 185.6h0M566.2 85.8h0M601.2 243.2h0M626.2 284.5h0M544.4 86.2h0M588.6 263.7h0M634.9 64.9h0M643.2 47.0h0M604.0 243.7h0M598.9 245.8h0M604.3 125.5h0M562.1 105.9h0M615.4 321.8h0M619.2 147.7h0M636.5 147.1h0M603.4 286.6h0M618.2 326.4h0M602.0 241.1h0M603.3 124.8h0M649.8 67.1h0M588.6 245.3h0M614.8 202.6h0M575.5 127.8h0M595.7 86.2h0M591.0 264.9h0M599.7 226.2h0M596.7 244.8h0M620.4 327.2h0M617.2 322.6h0M612.9 322.6h0M612.1 245.8h0M618.0 224.2h0M614.7 164.7h0M601.6 284.0h0M641.1 47.8h0M591.5 41.9h0M610.5 268.6h0M580.0 264.9h0M536.4 126.3h0M616.1 90.5h0M602.3 267.4h0M662.0 245.3h0M603.9 284.5h0M603.6 250.6h0M641.3 66.3h0M618.9 205.9h0M603.9 302.6h0M596.4 124.0h0M636.6 203.9h0M579.4 305.7h0M586.3 227.1h0M611.1 205.9h0M537.2 125.5h0M600.1 221.3h0M590.9 263.7h0M596.9 128.6h0M634.7 65.6h0M595.1 267.4h0M607.3 224.2h0M564.0 104.6h0M597.0 263.0h0M641.0 205.9h0M622.5 165.6h0M609.9 83.9h0M673.9 145.9h0M642.6 185.6h0M590.0 304.9h0M539.5 107.2h0M644.3 205.2h0M591.1 305.7h0M536.1 87.0h0M578.1 86.2h0M588.3 244.2h0M613.9 244.2h0M600.4 284.5h0M604.4 85.8h0"/><path stroke="#3968e7" d="M583.4 165.6h0M597.1 207.2h0M621.8 286.2h0M601.5 148.3h0M617.4 304.1h0M603.1 263.7h0M610.6 266.8h0M594.7 166.5h0M605.2 322.6h0M612.9 87.4h0M598.0 303.4h0M619.8 109.1h0M621.9 104.6h0M621.8 262.4h0M628.0 228.1h0"/><path stroke="#575fdf" d="M587.9 203.9h0M602.6 321.0h0M605.1 205.2h0M606.6 143.5h0M599.3 65.6h0M605.0 147.7h0M629.5 107.8h0M610.8 149.6h0M615.7 64.1h0M594.9 48.5h0M623.4 262.4h0M617.1 85.8h0M576.9 105.3h0M613.8 228.1h0M639.6 125.5h0M624.6 83.5h0M635.3 124.0h0M598.0 141.0h0M648.4 244.8h0M607.1 202.6h0M585.6 208.5h0M605.7 227.1h0M617.7 268.0h0M589.4 147.7h0M613.3 48.5h0M593.0 144.7h0M618.2 101.4h0M614.6 326.4h0M596.1 144.1h0M610.5 204.5h0M618.5 169.1h0M602.8 284.9h0M618.9 327.2h0M623.4 83.5h0M610.4 89.7h0M600.3 228.1h0M595.9 69.3h0M611.8 222.3h0M610.7 300.3h0M614.5 108.5h0M603.0 244.8h0M636.6 104.0h0M612.9 280.2h0M609.5 87.7h0M626.2 186.4h0M609.4 84.7h0M622.9 325.7h0"/><path stroke="#6857d8" d="M627.1 303.4h0M611.0 324.9h0M613.2 285.8h0M619.3 64.1h0M667.8 47.0h0M617.1 81.9h0M603.5 284.9h0M587.5 142.9h0M617.4 265.5h0M612.0 85.0h0M600.0 203.9h0M613.2 264.9h0M597.8 306.4h0M626.8 102.7h0M613.6 186.4h0M653.7 105.9h0M606.2 182.4h0M601.6 145.9h0M618.5 187.2h0M614.3 324.9h0M622.1 301.9h0M611.6 107.2h0M609.7 244.8h0M568.2 64.1h0M606.9 223.3h0M607.6 165.6h0M616.1 321.8h0M624.4 323.4h0M602.5 201.9h0M594.0 200.0h0M619.2 268.0h0M612.6 102.7h0M619.5 323.4h0M579.4 66.3h0M607.1 302.6h0M609.6 304.9h0M588.7 209.1h0M628.4 185.6h0M576.1 163.9h0M597.5 65.6h0M602.3 263.0h0M605.8 266.1h0M611.5 162.1h0M642.9 245.3h0M595.9 43.4h0M620.5 67.8h0"/><path stroke="#764ed0" d="M615.8 86.6h0M603.3 145.9h0M620.8 327.2h0M625.0 127.8h0M595.9 44.1h0M640.0 245.3h0M612.0 188.0h0M637.2 127.8h0M617.3 127.8h0M606.0 205.2h0M619.1 166.5h0M586.3 207.2h0M606.2 240.0h0M632.2 265.5h0M620.8 64.1h0M608.6 247.4h0M613.4 84.3h0M596.1 266.1h0M601.7 206.5h0M605.8 242.7h0M619.5 47.8h0M590.1 143.5h0M600.4 144.7h0M624.5 283.6h0M607.0 228.1h0M597.6 242.1h0M578.9 166.5h0M597.1 243.2h0M604.4 204.5h0M590.6 203.9h0M608.7 307.9h0M614.7 285.3h0M604.0 65.6h0M622.3 90.5h0M617.2 302.6h0M588.0 67.1h0M615.2 184.0h0"/><path stroke="#8244c7" d="M588.7 228.1h0M630.3 105.9h0M615.8 88.5h0M585.0 49.2h0M624.0 265.5h0M614.2 165.6h0M615.5 328.8h0M604.6 184.8h0M662.4 46.3h0M613.8 201.3h0M614.8 144.1h0M612.2 66.3h0M639.3 245.3h0M591.8 46.3h0M648.8 86.2h0M605.4 70.0h0M605.6 203.2h0M613.6 289.6h0M596.4 163.0h0M624.3 44.1h0M624.6 224.2h0M603.0 180.7h0M619.2 87.7h0M642.4 104.6h0M622.4 307.9h0M640.6 123.2h0M595.9 147.1h0M621.7 102.7h0M615.3 221.3h0M594.8 64.1h0M599.1 184.8h0M609.7 249.0h0M644.6 126.3h0M589.3 224.2h0M617.3 262.4h0M631.1 264.9h0M629.7 124.0h0M611.4 281.9h0M638.6 186.4h0M611.0 288.8h0M623.7 263.7h0M598.5 69.3h0M628.0 131.7h0M627.7 85.4h0M633.4 145.3h0M610.3 88.9h0M642.8 184.8h0M618.8 324.9h0M615.1 123.2h0M623.0 131.7h0M609.4 127.1h0M583.8 169.1h0M596.1 152.0h0M613.1 261.8h0"/><path stroke="#8d39be" d="M627.6 125.5h0M631.6 223.3h0M603.0 165.6h0M587.4 62.7h0M595.3 223.3h0M613.1 307.2h0M591.0 50.0h0M642.0 264.9h0M563.6 67.1h0M592.6 147.1h0M626.5 127.8h0M589.6 163.0h0M607.2 307.9h0M584.7 147.7h0M615.1 279.8h0M581.1 105.9h0M608.1 161.3h0M574.5 145.3h0M589.2 124.8h0M612.3 130.2h0M643.2 124.0h0M620.4 302.6h0M586.0 69.3h0M597.7 107.8h0M586.7 163.0h0M636.1 104.6h0M611.7 321.8h0M580.0 167.3h0M581.2 65.6h0M590.4 201.9h0M609.6 105.9h0M620.1 184.8h0M600.2 148.3h0M619.3 83.5h0M632.9 222.3h0M611.5 284.5h0M572.3 70.0h0M639.6 128.6h0M627.4 304.1h0M623.8 127.8h0M597.1 143.5h0M610.2 182.4h0M616.3 183.2h0M604.1 328.0h0M632.3 103.3h0M639.2 105.9h0M598.6 225.2h0M638.0 125.5h0M616.1 284.5h0M610.6 147.1h0M586.6 144.7h0"/><path stroke="#962db3" d="M602.6 51.5h0M584.4 203.2h0M591.4 142.2h0M604.8 248.5h0M629.4 303.4h0M599.5 184.0h0M636.3 124.8h0M617.0 128.6h0M611.5 328.0h0M612.3 304.9h0M621.9 263.7h0M615.9 228.1h0M603.1 105.3h0M610.9 285.8h0M581.7 61.9h0M610.3 129.4h0M614.4 261.2h0M622.1 304.1h0M618.2 290.0h0M617.1 303.4h0M603.8 42.6h0M614.7 129.4h0M637.0 127.1h0M619.2 305.7h0M611.0 164.7h0M623.3 286.2h0M644.4 126.3h0M601.0 146.5h0M638.0 107.2h0M595.2 149.6h0M622.3 287.9h0M612.7 82.7h0M623.2 287.5h0M610.7 287.9h0M590.0 128.6h0M618.9 223.3h0M612.6 330.3h0M615.3 92.4h0M606.4 227.1h0"/><path stroke="#a31daa" d="M590.8 145.3h0M603.9 225.2h0M625.0 107.8h0M603.1 188.0h0M609.7 242.1h0M645.2 107.2h0M614.5 127.8h0M599.1 207.8h0M621.1 308.7h0M611.2 320.3h0M595.5 200.0h0M617.5 228.1h0M616.0 321.0h0M632.5 228.1h0M630.3 245.3h0M608.2 170.8h0M599.5 126.3h0M624.6 184.0h0M634.7 123.2h0M585.7 148.3h0M612.3 287.0h0M594.6 325.7h0M588.3 46.3h0M612.0 228.1h0M604.3 249.0h0M624.0 87.4h0M600.3 181.5h0M610.5 146.5h0M592.3 165.6h0M614.1 221.3h0M590.7 205.2h0M638.8 106.5h0M624.9 285.3h0M609.2 204.5h0M604.8 304.9h0M612.1 263.0h0M571.3 70.0h0M601.0 203.2h0M585.6 69.3h0M632.9 129.4h0M598.7 146.5h0M631.8 226.2h0M606.3 142.9h0M633.8 107.2h0M592.2 224.2h0M590.8 166.5h0M610.7 144.7h0M608.3 229.1h0M610.6 221.3h0M598.4 205.2h0M603.8 221.3h0M615.6 203.2h0M626.2 287.5h0M597.1 202.6h0M617.0 229.1h0M621.2 303.4h0M616.0 305.7h0M623.8 307.2h0"/><path stroke="#b00fa5" d="M566.1 64.1h0M609.6 304.1h0M637.7 245.3h0M614.5 281.5h0M565.4 68.6h0M576.9 205.9h0M580.4 71.5h0M582.0 144.7h0M584.4 164.7h0M571.3 46.3h0M633.9 127.1h0M608.4 265.5h0M613.9 110.4h0M623.5 245.8h0M590.5 125.5h0M605.1 107.2h0M613.6 304.1h0M575.6 205.2h0M592.0 205.9h0M604.6 328.8h0M602.9 323.4h0M619.5 245.3h0M601.0 188.8h0M614.4 269.9h0M632.7 107.8h0M578.5 106.5h0M620.7 288.3h0M607.4 105.9h0M629.3 245.3h0M619.4 287.0h0M608.6 321.0h0M614.1 265.5h0M614.0 327.2h0M579.5 169.1h0M614.1 124.8h0M589.0 165.6h0M609.3 166.5h0M606.8 323.4h0M615.3 286.2h0M599.7 322.6h0M625.4 225.2h0M591.4 188.8h0M630.3 227.1h0M601.1 170.8h0M574.3 65.6h0M614.1 91.2h0M643.3 264.9h0M628.0 307.2h0M596.3 209.1h0M613.4 269.2h0M622.4 287.5h0M633.8 107.8h0M584.5 144.7h0M637.5 227.1h0M616.6 226.2h0"/><path stroke="#bc009f" d="M604.6 68.6h0M586.9 169.1h0M622.5 303.4h0M604.8 325.7h0M614.5 85.8h0M609.0 86.6h0M561.3 105.3h0M647.9 107.2h0M615.6 287.0h0M576.8 164.7h0M632.6 166.5h0M600.6 163.0h0M604.2 186.4h0M597.2 124.8h0M637.1 123.2h0M617.1 288.8h0M608.2 107.2h0M618.2 289.2h0M579.5 107.2h0M583.6 162.1h0M636.0 244.8h0M632.7 245.8h0M591.2 207.2h0M645.3 225.2h0M616.9 167.3h0M601.5 203.9h0M576.2 163.0h0M617.1 184.8h0M569.8 63.4h0M603.8 167.3h0M616.4 279.8h0M635.0 109.1h0M608.7 103.3h0M600.7 184.0h0M614.6 261.8h0M661.0 105.9h0M627.0 105.3h0M584.8 63.4h0M651.5 46.3h0M606.6 321.8h0M598.3 201.3h0M601.8 182.4h0M580.4 204.5h0M616.0 307.9h0M628.1 109.1h0M598.0 324.1h0M592.9 150.8h0M568.2 126.3h0M611.9 323.4h0M597.6 206.5h0M582.4 142.9h0M578.8 145.9h0M599.6 284.9h0M574.2 61.9h0M638.4 324.9h0M627.2 225.2h0M616.6 282.3h0M615.1 311.0h0M607.4 182.4h0M594.3 124.8h0M623.3 282.8h0M628.9 245.8h0M624.3 245.8h0M626.0 265.5h0M611.9 261.8h0M630.3 122.4h0M597.0 169.1h0M588.2 50.7h0"/><path stroke="#c70098" d="M622.9 287.0h0M622.9 228.1h0M619.7 263.0h0M609.8 85.0h0M609.9 163.0h0M622.2 263.7h0M610.3 307.2h0M620.7 262.4h0M620.4 283.6h0M596.1 163.9h0M655.5 45.6h0M594.4 209.8h0M577.0 169.9h0M599.5 326.4h0M561.3 146.5h0M577.2 66.3h0M616.4 320.3h0M634.1 165.6h0M612.5 324.9h0M604.6 86.6h0M595.4 167.3h0M616.5 304.1h0M600.2 325.7h0M613.6 319.5h0M607.1 201.9h0M618.7 286.2h0M621.4 90.1h0M585.8 127.8h0M567.8 105.9h0M565.8 67.1h0M564.3 63.4h0M610.6 327.2h0M640.4 226.2h0M617.4 300.3h0M577.1 64.9h0M571.4 165.6h0M626.8 304.9h0M571.0 67.8h0M594.2 105.3h0M601.3 164.7h0M644.3 46.3h0M585.9 125.5h0M620.3 103.3h0M648.9 264.9h0M617.7 260.6h0M589.2 207.2h0M616.3 264.9h0M598.5 328.0h0M593.3 108.5h0M613.4 281.0h0M607.4 326.4h0M613.0 305.7h0M604.8 124.8h0M623.4 284.0h0M591.3 65.6h0M640.4 223.3h0M634.6 108.5h0"/><path stroke="#d10091" d="M622.5 166.5h0M611.6 305.7h0M613.9 323.4h0M619.1 301.9h0M639.8 47.8h0M600.2 285.3h0M613.2 163.0h0M574.5 168.2h0M584.7 161.3h0M607.7 228.1h0M583.6 70.8h0M604.9 304.1h0M603.4 326.4h0M611.5 87.7h0M606.5 327.2h0M635.5 130.2h0M612.1 108.5h0M609.9 286.2h0M639.3 225.2h0M575.8 65.6h0M605.0 322.6h0M603.8 322.6h0M575.7 69.3h0M582.4 145.3h0M584.9 207.8h0M615.7 306.4h0M622.8 225.2h0M577.8 63.4h0M572.8 69.3h0M627.9 305.7h0M619.6 89.7h0M578.4 164.7h0M610.5 321.0h0M609.2 283.6h0M617.4 281.0h0M593.7 203.2h0M582.9 147.1h0M610.8 269.2h0M602.8 150.2h0M624.5 307.2h0M619.7 223.3h0M591.5 186.4h0M612.2 162.1h0M615.1 244.8h0M595.1 47.0h0M576.1 167.3h0M586.2 149.6h0M625.0 301.9h0M605.9 169.1h0M612.8 224.2h0M605.0 169.9h0M600.1 189.7h0M574.2 147.1h0M625.9 245.3h0M625.8 303.4h0M634.8 126.3h0M640.0 225.2h0M583.7 188.0h0M619.6 288.8h0M617.3 301.9h0M604.8 183.2h0M619.5 166.5h0M629.5 306.4h0M602.3 321.8h0M610.5 181.5h0M572.0 146.5h0M622.3 105.3h0M603.9 184.0h0M582.2 147.7h0M602.3 190.5h0M580.6 64.9h0M576.0 44.1h0"/><path stroke="#db008a" d="M569.1 164.7h0M586.9 64.9h0M585.9 107.2h0M624.6 304.1h0M584.8 206.5h0M610.2 128.6h0M647.8 245.3h0M608.0 184.8h0M594.3 142.2h0M613.1 45.6h0M583.2 67.1h0M598.7 66.3h0M606.5 284.9h0M604.5 284.0h0M587.4 166.5h0M594.4 183.2h0M606.7 163.0h0M607.3 283.2h0M612.3 185.6h0M616.2 307.9h0M572.3 62.7h0M620.0 268.6h0M607.7 204.5h0M618.0 284.0h0M618.9 289.2h0M588.8 104.6h0M670.8 47.0h0M605.0 303.4h0M597.2 227.1h0M622.7 305.7h0M612.8 228.1h0M608.7 182.4h0M620.9 101.4h0M586.2 167.3h0M614.4 168.2h0M588.8 325.7h0M616.9 289.2h0M609.9 183.2h0M605.2 184.8h0M642.0 124.0h0M616.3 121.7h0M621.9 228.1h0M614.0 107.8h0M587.5 165.6h0"/><path stroke="#f30070" d="M578.5 184.8h0M560.9 185.6h0M585.3 285.3h0M632.0 245.8h0M587.7 188.8h0M610.7 320.3h0M568.3 124.8h0M493.9 46.3h0M572.8 205.2h0M576.9 124.8h0M549.0 47.0h0M619.5 261.8h0M573.2 185.6h0M625.8 324.9h0M581.2 183.2h0M593.4 285.3h0M563.6 127.8h0M593.7 105.3h0M573.8 184.0h0M577.0 185.6h0M589.9 187.2h0M646.7 245.8h0M538.2 44.8h0M573.9 128.6h0M614.3 81.2h0M565.0 284.9h0M586.4 184.0h0M612.1 288.8h0M581.3 68.6h0M578.8 186.4h0M558.2 186.4h0M545.2 66.3h0M578.0 61.9h0M643.7 226.2h0M557.9 185.6h0M572.1 145.9h0"/><path stroke="#f80067" d="M620.8 163.0h0M615.3 261.8h0M623.9 287.0h0M625.5 244.8h0M595.3 200.6h0M621.7 168.2h0M574.1 184.8h0M620.5 301.1h0M581.1 105.3h0M639.9 324.9h0M608.5 162.1h0M596.6 284.9h0M615.5 102.0h0M569.7 284.9h0M604.8 184.0h0M560.3 185.6h0M576.5 284.9h0M548.8 105.9h0M553.9 66.3h0M561.9 47.0h0M490.7 47.0h0M648.4 85.8h0M556.2 125.5h0M582.1 188.0h0M644.0 324.9h0M562.0 64.9h0M631.5 225.2h0M638.8 165.6h0M616.6 45.6h0M579.9 185.6h0"/><path stroke="#fd005f" d="M578.1 104.6h0M599.1 43.4h0M653.4 165.6h0M635.2 226.2h0M566.5 105.3h0M602.4 170.8h0M495.5 47.0h0M541.6 46.3h0M620.1 324.9h0M577.0 186.4h0M608.3 44.1h0M612.9 81.6h0M582.1 125.5h0M633.8 264.3h0M623.5 225.2h0M581.0 128.6h0M645.7 105.9h0M570.0 45.6h0M637.7 45.6h0M607.2 184.0h0M576.0 284.9h0M509.9 47.0h0"/><path stroke="#ff0056" d="M561.6 65.6h0M603.6 323.4h0M602.0 325.7h0M561.6 50.0h0M552.0 284.9h0M561.6 68.6h0M570.1 127.8h0M611.8 285.3h0M590.0 162.1h0M536.9 66.3h0M586.0 183.2h0M648.9 245.8h0M607.3 87.0h0M562.0 64.1h0M556.9 67.1h0M541.3 45.6h0M599.6 324.9h0M606.3 85.8h0M598.1 324.9h0M604.7 124.0h0M507.3 47.0h0M625.4 110.4h0M532.7 47.8h0M674.4 46.3h0M624.6 226.2h0M540.8 47.8h0M609.5 308.7h0"/><path stroke="#0088fa" d="M639.8 145.3h0M660.2 245.8h0M642.2 186.4h0M553.5 85.8h0M614.0 224.2h0M584.1 264.9h0M645.5 184.8h0M654.6 48.5h0M612.2 89.3h0M581.0 304.9h0M612.5 163.9h0M614.8 282.8h0M616.3 281.0h0M607.7 249.0h0M596.0 263.0h0M645.5 145.3h0M573.2 86.6h0M642.3 65.6h0M646.9 187.2h0M621.3 328.0h0M608.2 264.9h0M590.1 266.1h0M595.6 245.3h0M600.7 261.2h0M611.1 48.5h0M595.5 50.7h0M591.5 243.7h0M606.6 246.9h0M589.4 264.9h0M598.2 241.6h0M603.2 264.9h0M543.7 85.8h0M629.6 65.6h0M637.8 47.0h0M605.6 87.7h0M608.1 44.8h0M540.9 126.3h0M603.4 285.8h0M608.2 249.0h0M616.0 67.1h0M648.1 147.7h0M629.4 46.3h0M600.9 48.5h0M594.0 266.1h0M543.7 106.5h0M625.0 145.9h0M578.9 126.3h0M617.7 143.5h0M595.8 264.3h0M631.9 147.1h0M613.6 287.0h0M594.7 264.9h0M681.0 66.3h0M623.1 326.4h0M613.5 279.8h0M615.4 285.8h0M575.6 304.9h0M563.7 86.2h0M617.4 205.9h0M623.6 68.6h0M612.9 246.9h0M627.8 144.7h0M616.5 329.5h0M674.1 47.0h0M619.4 148.3h0M619.4 205.2h0M616.8 227.1h0M602.8 247.4h0M594.9 304.1h0M598.6 284.9h0M592.5 264.3h0M615.9 229.1h0M593.0 266.1h0M594.5 263.7h0M607.2 248.5h0M577.6 304.9h0M640.7 145.9h0M550.9 127.1h0M596.6 264.3h0M595.2 246.4h0M621.8 327.2h0M644.9 186.4h0M596.2 245.8h0M641.6 67.8h0M572.7 225.2h0M609.7 205.2h0M589.1 244.8h0M627.6 147.7h0M543.7 86.2h0M649.2 206.5h0M646.4 204.5h0M618.7 145.9h0M565.3 125.5h0M607.0 242.1h0M539.5 86.6h0M651.5 44.8h0M604.1 306.4h0M547.8 127.1h0M595.3 266.8h0M603.6 305.7h0M605.1 243.7h0M615.6 89.7h0M596.0 224.2h0M598.5 248.5h0M633.7 205.2h0M630.7 205.2h0M605.3 43.4h0M603.9 264.9h0M637.8 165.6h0M618.2 148.9h0M630.5 205.2h0M598.0 267.4h0M613.7 67.8h0M595.6 86.6h0M600.6 226.2h0M604.4 267.4h0M620.2 323.4h0M613.6 168.2h0M643.4 66.3h0M622.1 325.7h0M598.6 229.1h0M600.9 261.8h0M604.3 286.2h0M578.4 304.9h0M595.2 244.8h0M597.2 228.1h0M559.6 125.5h0M599.2 242.1h0M617.2 327.2h0M638.4 184.0h0M607.2 246.4h0M631.0 144.7h0M648.9 147.1h0M611.7 85.8h0M672.7 146.5h0M635.4 185.6h0M610.9 205.2h0M620.8 325.7h0M608.4 249.5h0"/><path stroke="#0082f8" d="M621.4 204.5h0M554.9 126.3h0M608.5 88.1h0M646.0 66.3h0M608.5 203.9h0M622.0 166.5h0M633.8 47.8h0M654.9 65.6h0M590.3 124.8h0M649.4 64.9h0M599.2 45.6h0M592.5 305.7h0M611.7 321.0h0M610.7 102.7h0M613.2 223.3h0M621.7 68.6h0M589.6 226.2h0M606.8 84.7h0M631.0 203.9h0M616.9 44.1h0M592.9 246.9h0M618.2 127.8h0M607.1 83.9h0M585.8 225.2h0M584.0 304.9h0M587.4 245.3h0M593.0 245.3h0M631.8 205.9h0M601.6 244.8h0M631.7 187.2h0M620.3 68.6h0M662.6 146.5h0M550.4 126.3h0M604.6 244.8h0M612.2 201.9h0M622.5 147.1h0M517.6 126.3h0M599.1 244.2h0M606.7 148.3h0M657.7 245.3h0M670.5 46.3h0M638.9 145.3h0M609.2 127.8h0M621.2 47.0h0M628.2 184.0h0M620.8 208.5h0M622.3 48.5h0M600.0 240.6h0M590.3 45.6h0M623.8 285.8h0M604.9 264.3h0M634.0 166.5h0M584.7 304.1h0M615.5 245.3h0M596.3 264.9h0M661.0 185.6h0M547.5 85.4h0M599.6 261.8h0M689.4 46.3h0M541.1 87.0h0M598.3 244.8h0M676.6 145.9h0M599.1 227.1h0M591.1 265.5h0M625.4 185.6h0M610.7 128.6h0M594.5 225.2h0M611.8 325.7h0M619.7 268.0h0M623.8 65.6h0M604.3 224.2h0M622.0 207.2h0M636.4 205.2h0M597.5 243.7h0M601.7 224.2h0M565.3 127.8h0M627.0 68.6h0M624.6 263.7h0M619.0 167.3h0M662.0 205.2h0M576.4 225.2h0M550.5 106.5h0M589.8 222.3h0M617.9 144.1h0M520.7 126.3h0M596.8 105.3h0M571.5 86.2h0M642.6 187.2h0M598.3 243.2h0M584.3 225.2h0M606.6 263.0h0M594.0 223.3h0M609.0 230.0h0M651.5 184.8h0M599.7 229.1h0M543.7 85.4h0M612.0 229.1h0M603.8 268.6h0M622.8 89.3h0M609.8 66.3h0M549.6 127.1h0M608.0 242.1h0M556.2 86.6h0M562.4 105.9h0M660.8 186.4h0M660.5 246.4h0M633.1 145.9h0M645.9 205.2h0M636.3 184.8h0M646.6 145.9h0M617.1 66.3h0M609.9 243.2h0M593.1 228.1h0M621.9 201.9h0M594.9 268.0h0M630.1 147.1h0M641.7 65.6h0M602.9 251.1h0M609.3 246.9h0M626.0 223.3h0M611.9 44.8h0M605.3 42.6h0M649.8 105.3h0M611.5 284.9h0M559.0 86.2h0M627.3 164.7h0M613.8 209.8h0M650.2 265.5h0M597.9 50.7h0M614.3 86.6h0M655.0 66.3h0M603.5 241.1h0M589.4 106.5h0M611.8 245.3h0M601.1 224.2h0M611.3 47.0h0M618.9 64.9h0M600.1 247.9h0M550.1 86.6h0M610.2 281.5h0M601.5 284.5h0M619.2 282.8h0M617.9 322.6h0"/><path stroke="#3968e7" d="M613.8 205.2h0M609.1 287.9h0M627.8 84.7h0M616.0 224.2h0M599.1 249.0h0M621.2 90.8h0M606.2 167.3h0M592.8 207.2h0M608.8 108.5h0"/><path stroke="#575fdf" d="M630.5 131.7h0M599.2 64.9h0M613.7 184.8h0M585.2 147.7h0M605.0 223.3h0M614.2 87.7h0M614.7 209.8h0M607.4 244.8h0M620.3 286.6h0M607.1 169.1h0M620.3 107.8h0M635.7 127.1h0M617.5 146.5h0M633.4 86.2h0M593.0 224.2h0M604.6 205.9h0M609.0 207.8h0M615.6 268.6h0M620.8 284.0h0M624.7 86.6h0M612.3 89.7h0M631.2 107.8h0M639.5 245.8h0M594.9 209.8h0M588.6 61.2h0M616.5 282.8h0M614.1 246.9h0M582.7 45.6h0M625.8 67.1h0M648.6 245.3h0M619.5 87.4h0M615.2 222.3h0M620.2 185.6h0M616.2 328.8h0M595.1 222.3h0M626.4 102.0h0M605.2 207.2h0M614.9 101.4h0M588.4 67.8h0M612.4 304.1h0M614.3 285.8h0M614.6 145.3h0M611.3 82.7h0M609.6 246.4h0M626.7 124.8h0M632.9 123.2h0M620.6 284.9h0M615.8 147.1h0M632.1 104.6h0M605.3 245.3h0M588.3 163.9h0M618.4 111.1h0M616.6 107.2h0M609.4 205.2h0M616.0 82.7h0M611.7 207.8h0M601.9 303.4h0M607.8 180.7h0M586.7 206.5h0M652.1 47.0h0M620.8 309.5h0M616.8 83.9h0M620.6 305.7h0M608.4 149.6h0M613.0 247.9h0M603.7 201.9h0M596.6 67.1h0M596.4 243.2h0M601.5 230.0h0M619.9 228.1h0M597.5 228.1h0M591.5 67.1h0M615.0 146.5h0M623.9 101.4h0"/><path stroke="#6857d8" d="M598.6 48.5h0M601.6 223.3h0M636.4 186.4h0M613.9 264.9h0M614.2 188.8h0M599.8 66.3h0M607.3 67.1h0M622.4 123.2h0M609.4 142.2h0M626.1 120.9h0M617.8 123.2h0M620.2 203.9h0M603.8 87.4h0M616.9 322.6h0M624.7 105.3h0M606.4 325.7h0M618.9 63.4h0M611.2 307.9h0M634.0 86.6h0M642.1 127.8h0M592.1 63.4h0M610.6 227.1h0M604.9 69.3h0M610.9 206.5h0M582.9 62.7h0M608.6 244.2h0M591.6 164.7h0M593.3 266.8h0M614.8 324.1h0M620.4 287.5h0M615.3 322.6h0M659.4 105.9h0M605.2 261.8h0M615.5 321.0h0M586.0 162.1h0M614.6 225.2h0M611.7 284.0h0"/><path stroke="#764ed0" d="M609.5 202.6h0M632.9 107.2h0M604.3 243.2h0M605.8 50.7h0M600.7 166.5h0M615.4 81.6h0M611.9 223.3h0M610.9 249.0h0M613.5 328.0h0M613.3 206.5h0M627.5 186.4h0M624.2 301.9h0M590.8 169.1h0M618.5 307.9h0M618.1 90.1h0M623.3 264.3h0M628.6 126.3h0M606.2 85.0h0M606.3 247.4h0M612.2 247.4h0M583.2 148.9h0M615.1 229.1h0M617.9 321.8h0M606.4 50.0h0M612.3 268.6h0M622.8 147.7h0M616.5 90.5h0M589.8 67.1h0M612.6 243.7h0M620.3 306.4h0M600.3 243.7h0M604.0 107.2h0M633.3 131.7h0M606.4 147.7h0M614.3 64.1h0M578.9 226.2h0M589.8 50.7h0M616.9 202.6h0M624.3 206.5h0"/><path stroke="#8244c7" d="M610.4 226.2h0M622.6 307.2h0M614.5 284.5h0M612.1 307.9h0M624.7 282.3h0M611.9 148.9h0M630.6 225.2h0M582.8 143.5h0M623.6 244.8h0M607.9 202.6h0M614.0 128.6h0M616.3 84.7h0M606.2 142.2h0M602.7 307.2h0M585.5 144.1h0M597.8 144.1h0M611.1 286.2h0M597.8 207.2h0M611.7 307.9h0M640.5 184.0h0M616.7 307.2h0M618.6 186.4h0M590.0 225.2h0M612.3 147.7h0M603.9 222.3h0M613.9 184.0h0M592.9 168.2h0M602.6 201.3h0M619.1 222.3h0M621.1 105.9h0M602.2 127.8h0M614.2 145.9h0M619.1 286.6h0M609.7 84.3h0M585.2 64.1h0M597.7 144.7h0M632.2 104.0h0M586.0 203.9h0M621.0 228.1h0M601.4 169.1h0"/><path stroke="#8d39be" d="M613.6 128.6h0M635.4 121.7h0M594.0 147.1h0M623.2 109.1h0M596.1 323.4h0M617.5 167.3h0M619.6 183.2h0M608.8 164.7h0M611.1 203.2h0M585.5 141.6h0M593.7 145.9h0M620.2 105.3h0M636.8 130.2h0M588.6 69.3h0M602.6 245.8h0M615.6 245.8h0M579.2 169.1h0M581.9 167.3h0M609.5 242.7h0M591.8 200.6h0M610.2 264.9h0M636.1 265.5h0M595.2 203.2h0M583.0 166.5h0M635.2 130.9h0M606.6 86.2h0M587.0 202.6h0M615.4 264.3h0M642.9 128.6h0M615.7 83.1h0M615.5 81.2h0M619.0 188.0h0M621.7 283.2h0M626.9 126.3h0M616.1 144.7h0M609.5 205.9h0M615.3 269.9h0M617.3 264.3h0M596.5 201.9h0M628.9 85.4h0M623.1 122.4h0M589.9 145.9h0M609.7 300.3h0M614.8 268.0h0M645.8 127.1h0M626.3 125.5h0M581.2 144.7h0"/><path stroke="#962db3" d="M606.4 163.9h0M606.3 304.9h0M622.3 284.5h0M602.6 203.9h0M605.0 67.1h0M625.0 302.6h0M632.0 304.9h0M593.6 142.2h0M612.8 167.3h0M610.0 207.8h0M608.5 284.5h0M601.6 321.8h0M624.5 106.5h0M608.7 105.9h0M602.4 185.6h0M601.7 185.6h0M612.4 246.4h0M605.8 144.7h0M628.1 86.6h0M643.5 124.8h0M598.8 201.9h0M603.6 104.0h0M616.0 186.4h0M589.7 205.2h0M586.8 66.3h0M624.8 302.6h0M612.2 328.0h0M613.6 103.3h0M630.9 109.1h0M612.4 281.0h0M626.6 304.1h0M615.2 259.9h0M578.7 161.3h0M611.8 301.9h0M634.1 104.0h0M617.1 225.2h0M601.6 64.9h0M593.5 163.0h0M607.9 184.0h0M589.0 147.1h0M614.9 288.3h0M614.0 89.7h0M603.6 307.2h0M633.6 128.6h0M635.7 105.9h0"/><path stroke="#a31daa" d="M602.1 64.1h0M614.5 109.1h0M578.7 169.9h0M581.3 170.8h0M612.9 189.7h0M613.5 222.3h0M586.3 204.5h0M612.9 245.3h0M616.5 128.6h0M609.3 190.5h0M600.9 203.2h0M623.1 86.6h0M612.9 123.2h0M617.2 281.0h0M620.2 285.3h0M613.8 185.6h0M593.6 201.9h0M627.5 88.1h0M620.0 126.3h0M588.0 205.2h0M585.5 47.0h0M588.6 201.9h0M618.1 202.6h0M611.3 325.7h0M615.9 264.3h0M598.8 169.9h0M591.9 169.1h0M618.6 284.9h0M626.2 109.8h0M606.8 144.1h0M600.9 305.7h0M619.9 308.7h0M609.0 325.7h0M604.1 208.5h0M594.8 63.4h0M623.4 102.0h0M591.2 168.2h0M639.1 124.0h0M592.2 142.9h0M610.7 264.3h0M603.2 163.9h0M611.0 309.5h0M631.1 108.5h0M612.5 301.9h0M629.3 124.8h0M596.4 325.7h0M622.6 85.0h0M606.8 102.7h0M587.5 146.5h0M643.4 245.8h0M620.3 82.7h0M593.0 201.3h0M597.0 148.9h0M610.4 169.9h0M572.5 47.0h0M613.3 85.4h0"/><path stroke="#b00fa5" d="M625.0 85.0h0M607.4 284.0h0M615.4 287.5h0M633.9 120.9h0M591.2 163.0h0M633.8 46.3h0M609.4 168.2h0M584.0 185.6h0M589.4 204.5h0M594.0 184.8h0M578.2 165.6h0M627.4 307.9h0M621.6 303.4h0M592.1 201.9h0M579.0 143.5h0M613.5 229.1h0M587.6 207.2h0M604.2 328.8h0M607.8 46.3h0M600.8 326.4h0M611.7 165.6h0M614.4 324.1h0M618.4 266.8h0M597.7 167.3h0M634.0 105.9h0M638.5 105.3h0M646.2 225.2h0M610.3 328.0h0M618.8 88.9h0M605.7 285.8h0M609.2 83.1h0M614.1 266.1h0M592.0 146.5h0M624.6 225.2h0M607.6 301.1h0M568.3 166.5h0M626.5 283.6h0M594.2 203.9h0M626.2 245.3h0M603.1 324.9h0M608.8 189.7h0M580.5 143.5h0"/><path stroke="#bc009f" d="M583.9 144.1h0M612.1 85.0h0M628.7 304.1h0M607.9 327.2h0M595.1 127.1h0M623.1 283.2h0M575.6 64.9h0M599.3 166.5h0M619.2 285.3h0M600.5 324.1h0M601.7 205.9h0M620.0 287.5h0M629.8 304.1h0M600.8 129.4h0M602.5 147.7h0M614.4 279.8h0M623.5 245.3h0M577.4 70.8h0M584.2 145.9h0M617.2 244.8h0M596.3 326.4h0M607.1 321.0h0M554.9 145.9h0M623.4 228.1h0M603.8 147.1h0M560.0 105.9h0M599.4 188.0h0M583.2 145.9h0M590.4 187.2h0M613.6 268.6h0M584.1 104.0h0M594.0 164.7h0M558.5 105.9h0M628.6 46.3h0M599.3 327.2h0M591.4 203.2h0M608.1 189.7h0M652.7 264.9h0M610.8 167.3h0M617.2 285.3h0M617.0 281.5h0M648.7 225.2h0M595.6 205.2h0M606.8 105.3h0M639.8 106.5h0M596.3 45.6h0M621.8 306.4h0M593.0 165.6h0M573.4 65.6h0M645.7 245.8h0M595.6 128.6h0M603.6 44.1h0M607.2 166.5h0M603.5 104.6h0M617.5 284.9h0M616.8 163.0h0M589.2 169.1h0M566.6 66.3h0M589.7 201.9h0M632.7 223.3h0M583.3 64.1h0M596.9 163.9h0M625.9 307.9h0M597.6 285.3h0M584.8 105.9h0M646.2 105.9h0M575.0 205.9h0M631.1 303.4h0M591.2 62.7h0M614.3 326.4h0M631.5 103.3h0"/><path stroke="#c70098" d="M613.0 227.1h0M604.4 163.9h0M608.4 143.5h0M627.0 163.9h0M593.0 162.1h0M631.6 304.1h0M586.1 166.5h0M590.1 186.4h0M592.2 64.1h0M621.2 289.2h0M601.0 147.1h0M624.5 102.7h0M620.6 81.9h0M612.6 244.2h0M635.2 227.1h0M613.9 299.6h0M613.3 188.8h0M627.6 101.4h0M612.1 284.0h0M621.1 301.9h0M587.8 325.7h0M609.8 102.0h0M613.0 324.1h0M618.9 261.2h0M588.4 201.3h0M599.3 162.1h0M594.1 145.9h0M561.4 48.5h0M613.0 329.5h0M618.1 264.3h0M616.0 301.1h0M606.9 229.1h0M598.3 106.5h0M611.2 288.3h0M609.4 284.9h0M593.2 128.6h0M655.1 45.6h0M627.2 87.4h0M597.2 186.4h0M613.4 326.4h0M601.9 169.9h0M598.1 181.5h0M597.8 188.8h0M627.4 302.6h0M626.7 104.0h0M613.3 106.5h0M601.9 284.5h0M622.7 304.1h0M635.6 244.8h0M615.2 168.2h0M616.8 108.5h0M588.3 162.1h0M598.5 185.6h0M626.4 244.8h0M627.3 286.2h0M620.2 287.9h0M581.0 165.6h0M626.4 166.5h0M613.6 244.8h0M598.2 326.4h0M608.1 125.5h0M617.3 229.1h0M640.3 128.6h0"/><path stroke="#d10091" d="M604.2 64.9h0M619.3 287.9h0M639.1 87.4h0M621.9 267.4h0M604.3 105.9h0M611.8 289.2h0M610.8 83.9h0M612.1 280.6h0M601.2 167.3h0M616.9 323.4h0M623.6 308.7h0M597.5 128.6h0M618.0 88.5h0M602.9 188.0h0M586.9 186.4h0M569.4 70.0h0M576.3 145.3h0M626.8 222.3h0M588.8 184.8h0M620.2 304.9h0M598.2 184.0h0M614.3 328.0h0M609.4 223.3h0M603.6 168.2h0M596.9 185.6h0M615.4 169.9h0M610.0 88.5h0M604.2 325.7h0M605.1 306.4h0M636.7 226.2h0M626.1 87.0h0M577.4 167.3h0M595.1 201.9h0M620.0 267.4h0M586.0 67.8h0M579.5 63.4h0M574.0 165.6h0M579.7 105.3h0M597.1 183.2h0M630.7 125.5h0M607.7 324.1h0M622.8 227.1h0M620.0 109.1h0M603.5 202.6h0M611.4 44.1h0M584.8 184.0h0M627.3 245.8h0M634.6 44.1h0M620.3 304.1h0M584.1 68.6h0M661.7 44.8h0M587.8 324.9h0M586.3 142.2h0M631.6 127.8h0M604.6 327.2h0M618.1 288.8h0M656.1 47.8h0M601.5 324.9h0M576.6 67.1h0M597.3 285.8h0M624.6 108.5h0M620.2 88.1h0M614.1 86.2h0M596.3 209.8h0M609.3 105.3h0M610.0 286.6h0M612.6 331.1h0M593.4 284.9h0M617.1 260.6h0M600.7 328.0h0M640.8 245.3h0M612.8 299.6h0M588.0 185.6h0M608.6 322.6h0M584.7 71.5h0"/><path stroke="#db008a" d="M608.6 183.2h0M598.6 163.0h0M613.1 81.9h0M601.4 188.0h0M580.6 48.5h0M610.0 328.0h0M607.6 104.0h0M609.5 165.6h0M619.5 307.9h0M610.3 126.3h0M637.9 225.2h0M602.8 162.1h0M604.6 328.0h0M615.0 328.0h0M628.4 47.0h0M582.7 148.3h0M605.5 327.2h0M575.7 70.0h0M615.5 309.5h0M606.2 86.2h0M599.4 328.0h0M594.7 127.8h0M631.3 106.5h0M603.4 149.6h0M612.5 230.0h0M632.4 105.3h0M617.9 105.9h0M607.7 43.4h0M612.3 284.5h0M609.8 186.4h0M607.8 309.5h0M647.8 264.9h0M591.5 188.0h0"/><path stroke="#f30070" d="M579.9 284.9h0M574.4 205.9h0M634.9 165.6h0M675.6 46.3h0M628.4 223.3h0M609.9 184.0h0M588.9 201.3h0M592.5 284.9h0M529.9 48.5h0M603.2 327.2h0M620.4 263.7h0M627.1 305.7h0M571.4 66.3h0M581.2 285.3h0M568.1 105.3h0M587.6 284.5h0M523.0 44.8h0M487.5 46.3h0M547.2 46.3h0M649.0 165.6h0M613.2 287.9h0M578.2 284.5h0M555.5 127.1h0M608.0 285.8h0M634.9 224.2h0M606.7 322.6h0M541.8 66.3h0M603.2 321.8h0M582.7 127.1h0M592.2 162.1h0M589.3 183.2h0M537.6 48.5h0M587.5 284.9h0M581.1 188.0h0"/><path stroke="#f80067" d="M589.4 284.9h0M540.6 66.3h0M603.5 128.6h0M580.1 186.4h0M515.6 46.3h0M563.1 126.3h0M548.2 44.8h0M559.8 106.5h0M610.9 301.1h0M566.4 127.1h0M586.7 186.4h0M581.7 147.1h0M622.2 164.7h0M594.2 127.1h0M553.5 105.9h0M630.6 304.1h0M566.4 126.3h0M555.0 47.8h0M567.4 186.4h0M583.1 186.4h0M586.4 182.4h0M607.5 304.1h0M559.6 65.6h0M625.4 85.8h0M596.6 323.4h0M624.3 266.8h0M665.4 47.0h0M587.6 285.3h0M574.7 284.9h0M562.6 46.3h0"/><path stroke="#fd005f" d="M598.3 322.6h0M517.7 46.3h0M618.3 124.0h0M501.4 46.3h0M589.2 285.8h0M588.4 125.5h0M575.3 184.8h0M559.6 67.1h0M610.8 189.7h0M617.7 126.3h0M568.1 45.6h0M515.9 45.6h0M585.0 128.6h0M619.4 84.3h0M513.3 46.3h0M579.0 187.2h0M582.1 184.0h0M592.7 285.8h0M577.7 188.0h0M636.2 304.9h0M560.2 66.3h0M641.7 224.2h0M582.1 284.9h0"/><path stroke="#ff0056" d="M595.4 144.7h0M617.1 266.8h0M568.0 205.2h0M471.6 47.0h0M655.0 86.2h0M553.6 47.8h0M642.5 86.2h0M599.3 125.5h0M575.4 185.6h0M531.8 45.6h0M553.0 126.3h0M527.1 46.3h0M609.7 325.7h0M622.8 44.8h0M590.8 285.3h0M614.5 90.5h0M583.5 284.9h0M608.5 104.0h0M618.1 306.4h0M632.4 165.6h0M583.0 188.0h0M569.9 47.0h0M607.4 328.8h0M625.9 305.7h0M523.6 45.6h0M568.3 284.9h0M555.7 105.3h0M509.5 46.3h0M548.6 66.3h0M642.5 165.6h0M560.1 145.9h0"/><path stroke="#a31daa" d="M611.6 185.6h0"/><path stroke="#c70098" d="M624.6 88.9h0"/></g>
<line x1="459" y1="345.2" x2="710" y2="345.2" stroke="#999" stroke-width="1.4"/>
<line x1="461.80" y1="345.2" x2="461.80" y2="348" stroke="#999" stroke-width="1"/>
<text x="0" y="0" font-size="10" text-anchor="middle" fill="#333" transform="translate(461.80 357.1) scale(0.92 1)">−5</text>
<line x1="492.52" y1="345.2" x2="492.52" y2="348" stroke="#999" stroke-width="1"/>
<text x="0" y="0" font-size="10" text-anchor="middle" fill="#333" transform="translate(492.52 357.1) scale(0.92 1)">−4</text>
<line x1="523.24" y1="345.2" x2="523.24" y2="348" stroke="#999" stroke-width="1"/>
<text x="0" y="0" font-size="10" text-anchor="middle" fill="#333" transform="translate(523.24 357.1) scale(0.92 1)">−3</text>
<line x1="553.96" y1="345.2" x2="553.96" y2="348" stroke="#999" stroke-width="1"/>
<text x="0" y="0" font-size="10" text-anchor="middle" fill="#333" transform="translate(553.96 357.1) scale(0.92 1)">−2</text>
<line x1="584.68" y1="345.2" x2="584.68" y2="348" stroke="#999" stroke-width="1"/>
<text x="0" y="0" font-size="10" text-anchor="middle" fill="#333" transform="translate(584.68 357.1) scale(0.92 1)">−1</text>
<line x1="615.40" y1="345.2" x2="615.40" y2="348" stroke="#999" stroke-width="1"/>
<text x="0" y="0" font-size="10" text-anchor="middle" fill="#333" transform="translate(615.40 357.1) scale(0.92 1)">0</text>
<line x1="646.12" y1="345.2" x2="646.12" y2="348" stroke="#999" stroke-width="1"/>
<text x="0" y="0" font-size="10" text-anchor="middle" fill="#333" transform="translate(646.12 357.1) scale(0.92 1)">1</text>
<line x1="676.84" y1="345.2" x2="676.84" y2="348" stroke="#999" stroke-width="1"/>
<text x="0" y="0" font-size="10" text-anchor="middle" fill="#333" transform="translate(676.84 357.1) scale(0.92 1)">2</text>
<line x1="707.56" y1="345.2" x2="707.56" y2="348" stroke="#999" stroke-width="1"/>
<text x="0" y="0" font-size="10" text-anchor="middle" fill="#333" transform="translate(707.56 357.1) scale(0.92 1)">3</text>
<text x="498.6" y="369.4" font-size="10" fill="#333" textLength="171.5" lengthAdjust="spacingAndGlyphs">SHAP value (impact on model output)</text>
<rect x="725.5" y="26.5" width="3" height="318" fill="url(#cb)"/>
<text x="731.0" y="29.8" font-size="8.4" fill="#333" textLength="17.2" lengthAdjust="spacingAndGlyphs">High</text>
<text x="731.2" y="348.3" font-size="8.4" fill="#333" textLength="14.8" lengthAdjust="spacingAndGlyphs">Low</text>
<text x="0" y="0" font-size="9" fill="#333" text-anchor="middle" textLength="63.8" lengthAdjust="spacingAndGlyphs" transform="translate(755.8 186) rotate(-90)">Feature value</text>
</svg>
</body></html>
